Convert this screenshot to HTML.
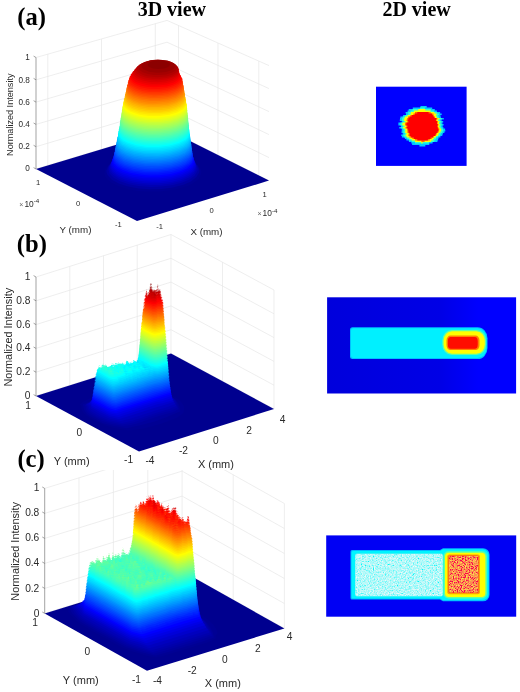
<!DOCTYPE html>
<html><head><meta charset="utf-8"><title>3D view / 2D view</title>
<style>html,body{margin:0;padding:0;background:#fff}svg{display:block}</style></head><body>
<svg width="520" height="692" viewBox="0 0 520 692">
<rect width="520" height="692" fill="#fff"/>
<g stroke="#e7e7e7" stroke-width="0.7" fill="none"><path d="M36.0 169.0L167.0 129.6L269.0 180.6"/><path d="M36.0 146.7L167.0 107.8L269.0 157.6"/><path d="M36.0 124.4L167.0 85.9L269.0 134.6"/><path d="M36.0 102.1L167.0 64.1L269.0 111.6"/><path d="M36.0 79.8L167.0 42.2L269.0 88.6"/><path d="M36.0 57.5L167.0 20.4L269.0 65.6"/><path d="M47.8 165.5V54.2"/><path d="M101.5 149.3V39.0"/><path d="M155.3 133.1V23.7"/><path d="M178.5 135.4V25.5"/><path d="M218.0 155.1V43.0"/><path d="M258.8 175.5V61.1"/></g><path fill="#00008f" d="M36.0 169.0L137.0 221.0L269.0 180.6L167.0 129.6Z"/><path fill="#000094" d="M131.8 155.4L118.2 159.2L113.6 161.4L108.4 165.0L105.1 169.6L104.4 173.6L105.4 176.7L107.5 179.5L111.2 182.5L117.1 185.6L128.0 189.2L138.1 190.9L145.1 191.5L159.9 191.6L175.3 189.6L187.6 185.9L192.1 183.8L197.3 180.1L199.0 178.3L201.0 174.4L201.3 171.6L200.9 169.6L198.2 165.6L195.2 163.1L191.3 160.8L181.4 156.9L172.2 154.9L157.9 153.5L145.8 153.6L131.8 155.4Z"/>
<path fill="#0000a3" d="M130.5 154.8L120.5 157.8L113.4 161.4L108.3 165.9L106.5 170.5L106.6 172.6L107.6 175.1L111.6 179.4L118.7 183.4L127.3 186.3L138.5 188.4L150.0 189.3L161.7 188.9L172.8 187.5L183.3 184.7L190.9 181.4L196.5 177.1L199.1 172.6L199.4 170.4L198.8 167.9L197.5 165.6L194.9 162.9L188.1 158.8L178.5 155.5L167.3 153.4L154.3 152.5L142.7 153.0L130.5 154.8Z"/>
<path fill="#0000b2" d="M130.4 154.0L121.6 156.7L114.5 160.3L110.0 164.4L108.7 166.9L108.3 169.1L109.5 173.5L113.7 177.8L120.1 181.3L128.8 184.2L138.6 186.0L150.5 186.9L162.0 186.5L173.1 185.0L182.3 182.5L189.8 179.2L194.8 175.4L197.5 170.8L197.7 168.7L197.0 166.1L195.6 163.8L192.9 161.1L185.8 157.1L177.1 154.2L165.7 152.2L153.6 151.5L140.9 152.2L130.4 154.0Z"/>
<path fill="#0000bf" d="M131.1 152.9L123.3 155.2L116.0 158.7L111.9 162.0L110.1 164.7L109.4 167.4L109.5 169.4L110.5 171.9L113.3 175.1L120.0 179.3L129.7 182.6L138.1 184.1L149.7 185.1L159.8 184.9L171.2 183.5L181.7 180.8L190.0 176.9L194.1 173.6L196.5 169.0L196.1 165.0L194.8 162.6L192.7 160.5L186.0 156.4L176.3 153.1L167.9 151.5L154.5 150.6L143.1 151.0L131.1 152.9Z"/>
<path fill="#0000cc" d="M126.9 153.0L119.9 155.7L113.7 159.7L110.7 163.6L110.2 167.9L112.3 172.0L117.3 176.0L124.6 179.3L133.0 181.6L143.2 183.0L152.8 183.4L162.5 183.0L172.1 181.7L181.3 179.2L188.8 175.8L194.1 171.3L195.8 167.7L196.0 165.7L195.0 162.6L191.6 158.8L183.5 154.4L173.1 151.3L162.3 149.8L149.7 149.5L139.3 150.3L126.9 153.0Z"/>
<path fill="#0000d9" d="M134.4 150.0L122.1 153.6L116.9 156.4L113.5 159.1L111.2 162.5L110.7 165.6L111.6 168.7L113.8 171.5L117.0 174.0L121.1 176.2L132.2 179.7L144.8 181.6L159.1 181.7L173.0 179.8L184.0 176.5L191.7 171.9L194.2 169.1L195.3 166.6L195.5 164.5L195.0 162.2L191.8 158.0L185.9 154.3L177.7 151.3L166.8 149.1L156.0 148.3L145.5 148.5L134.4 150.0Z"/>
<path fill="#0000e5" d="M132.3 149.3L123.5 152.0L117.3 155.1L112.8 159.2L111.2 163.3L111.5 165.7L112.5 167.8L116.1 171.5L122.5 175.1L130.1 177.6L139.9 179.4L150.2 180.2L160.8 180.0L171.5 178.5L180.7 176.1L187.3 173.1L192.3 169.4L194.8 165.2L195.0 163.3L194.4 160.7L190.8 156.3L184.7 152.6L176.1 149.7L166.3 147.8L154.2 147.0L142.9 147.6L132.3 149.3Z"/>
<path fill="#0000f2" d="M136.4 147.3L123.8 150.8L118.4 153.4L114.9 156.1L112.8 158.7L111.8 161.8L112.3 165.1L114.2 168.0L117.2 170.5L121.1 172.8L131.8 176.4L143.9 178.3L158.4 178.5L171.2 177.0L182.5 173.7L190.1 169.5L192.6 167.2L194.2 164.2L194.6 162.0L194.2 159.9L191.2 155.6L186.1 152.2L178.1 149.1L169.0 147.0L158.3 146.0L147.5 146.0L136.4 147.3Z"/>
<path fill="#0000ff" d="M134.2 146.6L122.3 150.3L117.3 153.2L114.2 156.1L112.6 158.9L112.4 162.3L113.8 165.3L116.3 168.0L123.4 172.1L133.6 175.1L146.1 176.8L159.7 176.8L172.2 175.2L183.2 171.8L190.5 167.4L192.7 164.9L193.9 162.2L193.6 158.2L190.1 153.7L183.9 150.1L175.4 147.2L165.5 145.4L155.1 144.7L143.7 145.1L134.2 146.6Z"/>
<path fill="#000dff" d="M132.1 145.9L123.5 148.7L117.6 152.0L114.5 154.9L112.8 159.4L113.8 163.2L117.3 167.0L122.9 170.1L130.2 172.7L141.4 174.8L150.7 175.4L159.4 175.3L170.7 173.9L179.9 171.4L186.6 168.5L191.9 164.0L193.4 161.0L193.7 158.8L193.2 156.9L189.8 152.4L183.6 148.8L176.3 146.2L165.1 144.1L153.7 143.5L144.0 143.9L132.1 145.9Z"/>
<path fill="#0019ff" d="M136.1 143.8L123.8 147.4L120.2 149.2L116.0 152.4L114.0 155.0L113.2 157.9L113.7 160.5L115.4 163.4L118.3 166.0L121.5 167.8L130.6 171.2L143.5 173.5L157.6 173.8L171.8 172.1L181.8 169.2L189.3 164.9L191.7 162.5L193.0 159.7L193.3 157.6L192.6 155.0L191.1 152.7L188.9 150.6L182.4 147.1L176.0 144.9L167.9 143.2L155.8 142.2L145.8 142.5L136.1 143.8Z"/>
<path fill="#0026ff" d="M135.0 142.7L124.0 146.1L118.9 148.9L116.2 151.1L114.3 153.8L113.6 156.4L114.2 159.7L116.2 162.5L119.4 165.0L123.5 167.2L133.4 170.4L145.7 172.2L157.4 172.3L171.6 170.6L181.7 167.7L189.2 163.4L191.9 160.3L192.8 158.4L192.9 154.9L190.4 150.9L184.9 147.0L176.9 143.9L167.6 141.9L156.1 141.0L146.1 141.2L135.0 142.7Z"/>
<path fill="#0033ff" d="M135.3 141.5L125.2 144.4L119.1 147.6L116.5 149.8L114.6 152.5L114.0 155.6L114.5 158.2L116.5 161.0L119.6 163.5L123.8 165.7L133.7 168.9L146.0 170.7L157.3 170.8L167.6 169.8L180.5 166.6L185.2 164.5L189.0 161.9L191.3 159.5L192.5 157.1L192.6 153.6L190.2 149.5L184.7 145.7L176.7 142.6L167.4 140.6L156.4 139.7L146.3 139.9L135.3 141.5Z"/>
<path fill="#0040ff" d="M133.0 140.7L126.4 142.7L119.4 146.3L115.3 150.3L114.2 154.1L115.5 157.9L119.9 162.1L125.0 164.7L132.7 167.1L141.2 168.7L152.0 169.4L161.8 169.0L171.3 167.6L179.4 165.5L185.1 163.0L190.1 159.2L192.4 155.1L192.0 151.1L188.2 146.7L182.8 143.5L174.1 140.7L163.9 138.9L153.1 138.4L143.6 138.9L133.0 140.7Z"/>
<path fill="#004cff" d="M132.0 139.7L124.7 142.2L118.8 145.5L115.7 148.9L114.5 152.7L115.7 156.4L119.5 160.1L125.2 163.2L133.0 165.7L141.5 167.2L151.8 167.9L161.6 167.6L171.2 166.2L179.2 164.0L185.8 161.0L189.9 157.7L192.2 153.8L192.3 151.7L191.7 149.6L188.1 145.4L182.6 142.2L173.9 139.3L163.8 137.6L153.3 137.1L142.3 137.8L132.0 139.7Z"/>
<path fill="#0059ff" d="M138.4 137.0L125.8 140.5L121.3 142.7L117.7 145.3L115.5 148.2L114.8 151.1L115.3 153.8L117.3 156.6L123.6 160.9L133.2 164.2L145.1 166.1L158.4 166.3L171.1 164.7L181.1 161.7L188.6 157.4L190.8 155.0L191.9 152.8L191.9 149.0L189.1 145.0L184.2 141.7L177.3 139.0L168.3 136.9L159.1 135.9L148.5 135.9L138.4 137.0Z"/>
<path fill="#0066ff" d="M137.3 135.9L126.0 139.2L121.5 141.4L117.9 144.0L115.9 146.7L115.1 149.7L115.6 152.3L117.5 155.2L123.8 159.5L133.5 162.8L145.4 164.6L158.3 164.8L171.0 163.2L181.0 160.3L188.5 156.0L190.7 153.5L191.7 151.3L191.9 149.0L191.4 147.1L188.6 143.4L183.2 139.9L176.0 137.3L166.6 135.3L157.4 134.5L147.2 134.7L137.3 135.9Z"/>
<path fill="#0073ff" d="M136.2 134.9L125.2 138.2L120.9 140.5L117.6 143.3L115.8 146.0L115.4 149.0L116.1 151.5L118.3 154.3L125.0 158.4L135.0 161.6L145.7 163.2L158.8 163.3L170.9 161.8L180.9 158.8L188.3 154.5L190.4 152.3L191.6 149.8L191.3 145.8L188.2 141.9L182.1 138.2L174.7 135.6L166.0 134.0L155.8 133.2L145.9 133.5L136.2 134.9Z"/>
<path fill="#007fff" d="M135.2 133.8L127.4 136.1L121.1 139.2L117.3 142.7L115.7 146.4L116.4 150.0L119.7 153.8L125.2 157.0L132.7 159.5L141.0 161.1L151.2 161.9L161.1 161.6L169.5 160.5L177.8 158.5L184.5 155.6L189.4 151.9L191.4 148.3L191.1 144.4L188.1 140.5L182.0 136.9L174.5 134.3L164.6 132.5L155.3 131.9L144.6 132.3L135.2 133.8Z"/>
<path fill="#008cff" d="M134.2 132.8L126.6 135.2L120.6 138.4L117.0 142.0L115.9 146.0L117.4 149.7L121.3 153.3L127.4 156.3L134.2 158.4L142.9 159.9L152.2 160.5L161.0 160.2L170.7 158.8L178.7 156.6L185.2 153.6L189.3 150.3L191.2 146.8L191.3 144.4L190.6 142.5L187.3 138.7L180.9 135.1L173.1 132.7L162.7 131.0L152.8 130.6L143.3 131.2L134.2 132.8Z"/>
<path fill="#0099ff" d="M132.0 132.1L124.9 134.7L120.1 137.7L117.2 140.8L116.2 144.7L117.6 148.3L121.6 151.9L127.6 154.9L134.9 157.0L143.1 158.4L152.7 159.0L162.4 158.6L170.6 157.3L178.6 155.2L185.1 152.2L189.1 148.8L191.0 145.3L191.1 143.1L190.5 141.2L187.1 137.3L180.7 133.8L172.5 131.2L162.5 129.7L152.5 129.3L142.1 130.0L132.0 132.1Z"/>
<path fill="#00a6ff" d="M138.3 129.4L126.9 132.6L122.5 134.8L119.6 136.9L117.5 139.4L116.5 142.4L116.9 145.0L118.7 147.9L125.0 152.2L134.6 155.5L145.1 157.1L157.6 157.4L169.2 156.1L179.5 153.3L187.2 149.1L189.5 146.7L190.6 144.6L191.0 142.4L190.6 140.5L188.2 137.0L183.3 133.7L176.4 131.0L167.3 129.0L158.6 128.1L148.2 128.2L138.3 129.4Z"/>
<path fill="#00b2ff" d="M138.4 128.0L127.1 131.2L122.7 133.5L119.8 135.6L117.7 138.1L116.8 140.9L117.1 143.6L119.0 146.5L121.3 148.5L125.2 150.8L133.7 153.7L145.4 155.7L157.5 155.9L169.1 154.7L179.4 151.8L187.1 147.7L189.4 145.2L190.5 143.1L190.4 139.1L188.0 135.7L183.2 132.4L176.2 129.6L167.6 127.7L158.4 126.8L148.4 126.9L138.4 128.0Z"/>
<path fill="#00bfff" d="M137.4 127.0L126.4 130.3L122.1 132.7L119.4 134.9L117.6 137.6L117.0 140.2L117.7 142.7L119.7 145.5L126.4 149.7L135.2 152.6L146.5 154.3L159.0 154.4L170.2 152.9L180.3 150.0L186.9 146.2L189.2 143.7L190.3 141.6L190.2 137.8L187.3 133.9L182.1 130.6L174.9 128.0L165.5 126.1L156.2 125.4L147.1 125.7L137.4 127.0Z"/>
<path fill="#00ccff" d="M136.3 125.9L128.5 128.2L123.1 130.8L119.1 134.2L117.4 138.0L118.2 141.9L121.1 145.1L126.6 148.3L134.1 150.8L142.6 152.4L152.1 153.0L161.9 152.7L170.1 151.5L178.2 149.3L183.8 146.8L188.1 143.5L190.2 139.9L190.3 137.8L189.8 135.9L186.5 132.0L181.1 128.8L173.5 126.3L165.1 124.8L155.6 124.1L145.8 124.5L136.3 125.9Z"/>
<path fill="#00d9ff" d="M135.3 124.9L127.7 127.3L122.5 130.0L118.8 133.6L117.6 137.2L118.5 140.4L122.0 144.2L127.8 147.2L134.4 149.4L142.9 150.9L152.0 151.5L161.8 151.2L170.0 150.0L178.1 147.8L183.7 145.3L187.9 142.1L190.0 138.6L190.1 136.4L189.6 134.5L186.4 130.7L180.9 127.5L173.4 125.0L163.8 123.3L154.0 122.8L144.5 123.3L135.3 124.9Z"/>
<path fill="#00e5ff" d="M133.1 124.2L126.9 126.4L121.9 129.2L118.6 133.0L117.9 136.4L119.5 140.1L122.9 143.2L129.0 146.2L135.9 148.2L143.2 149.4L151.8 150.0L161.7 149.7L169.9 148.5L178.0 146.3L183.6 143.8L187.8 140.6L189.8 137.1L189.8 134.5L189.2 132.6L186.3 129.3L179.9 125.8L171.9 123.4L163.0 121.9L152.5 121.5L141.9 122.3L133.1 124.2Z"/>
<path fill="#00f2ff" d="M139.4 121.5L128.0 124.6L124.4 126.4L120.8 129.1L118.8 131.6L118.1 134.3L118.7 136.9L120.1 139.2L122.4 141.3L126.4 143.5L136.1 146.8L146.8 148.3L158.5 148.5L169.8 147.1L179.9 144.1L186.4 140.3L188.7 137.8L189.6 135.9L189.3 131.9L186.1 128.0L180.7 124.8L174.3 122.6L166.1 121.0L157.3 120.2L147.9 120.4L139.4 121.5Z"/>
<path fill="#00ffff" d="M138.3 120.4L128.2 123.3L123.0 126.1L120.4 128.3L118.7 131.1L118.4 133.5L119.2 136.0L120.9 138.3L123.3 140.3L127.5 142.5L136.3 145.3L147.1 146.9L158.4 147.0L169.7 145.6L178.8 143.1L185.7 139.4L187.6 137.6L189.4 134.6L189.1 130.5L186.0 126.7L180.5 123.5L174.2 121.3L166.0 119.7L156.5 118.9L146.5 119.2L138.3 120.4Z"/>
<path fill="#0dfff2" d="M138.4 119.0L128.4 122.0L123.2 124.8L120.6 127.0L119.0 129.8L118.6 132.1L119.1 134.0L121.1 136.8L123.6 138.9L127.7 141.1L136.5 143.9L147.5 145.4L159.9 145.4L170.9 143.9L179.7 141.2L186.3 137.3L189.2 133.3L189.4 131.1L189.0 129.2L187.0 126.3L182.2 123.0L175.2 120.3L165.8 118.3L156.9 117.6L148.2 117.8L138.4 119.0Z"/>
<path fill="#19ffe6" d="M137.3 118.0L130.5 119.9L125.0 122.4L120.8 125.7L119.0 129.3L119.3 132.6L122.5 136.4L127.9 139.6L134.3 141.8L142.5 143.4L151.5 144.1L159.8 144.0L169.6 142.7L177.6 140.5L183.2 138.0L187.4 134.7L189.2 131.2L188.9 127.8L185.7 124.0L180.3 120.8L173.9 118.6L165.7 117.0L156.7 116.3L145.4 116.7L137.3 118.0Z"/>
<path fill="#26ffd9" d="M136.3 116.9L129.7 118.9L123.6 122.1L120.0 125.7L119.1 129.2L120.1 132.3L124.0 136.0L129.0 138.6L135.7 140.7L144.3 142.2L153.0 142.7L162.7 142.2L169.5 141.2L176.5 139.4L182.3 137.0L187.2 133.2L189.0 129.9L188.7 126.5L185.6 122.6L180.2 119.4L172.5 117.0L163.9 115.4L153.5 114.9L145.6 115.4L136.3 116.9Z"/>
<path fill="#33ffcc" d="M135.3 115.9L128.9 118.0L123.7 120.8L120.2 124.4L119.3 127.7L120.8 131.4L124.2 134.5L129.2 137.1L135.9 139.2L144.6 140.7L152.9 141.2L161.1 140.9L169.4 139.8L176.4 138.0L183.0 135.1L187.1 131.9L188.9 128.5L188.6 125.2L185.5 121.3L180.1 118.1L172.4 115.6L163.7 114.1L153.7 113.6L144.3 114.2L135.3 115.9Z"/>
<path fill="#40ffbf" d="M134.3 114.8L128.1 117.1L123.2 120.0L120.3 123.3L119.6 126.9L121.4 130.5L125.1 133.5L130.4 136.1L137.2 138.0L144.8 139.3L154.6 139.7L162.5 139.3L170.6 138.1L177.4 136.2L183.0 133.6L186.8 130.5L188.7 127.2L188.8 125.1L188.2 123.2L184.7 119.4L179.0 116.4L171.2 114.0L161.9 112.6L152.1 112.3L143.0 113.1L134.3 114.8Z"/>
<path fill="#4cffb3" d="M140.5 112.1L130.1 114.9L125.6 117.1L122.7 119.2L120.6 121.8L119.8 124.1L120.2 126.8L122.1 129.6L127.7 133.4L136.9 136.5L148.6 138.1L159.4 138.1L170.5 136.6L179.3 133.9L185.5 130.2L187.5 128.2L188.5 126.0L188.3 122.5L185.9 119.1L180.8 115.8L174.6 113.6L166.6 111.8L158.0 111.0L149.1 111.1L140.5 112.1Z"/>
<path fill="#59ffa6" d="M140.7 110.8L130.3 113.6L125.8 115.8L122.9 117.9L120.8 120.3L120.0 122.8L120.4 125.3L122.3 128.2L127.9 132.0L136.7 134.9L147.0 136.5L159.3 136.7L170.4 135.2L179.2 132.5L185.7 128.6L188.4 124.5L188.2 121.1L185.7 117.7L180.6 114.5L174.5 112.2L166.5 110.5L157.8 109.7L149.3 109.8L140.7 110.8Z"/>
<path fill="#66ff99" d="M139.5 109.7L129.5 112.7L125.1 114.9L122.4 117.2L120.7 119.7L120.2 122.3L121.2 125.1L123.0 127.3L129.0 131.0L138.0 133.7L148.7 135.2L159.2 135.2L170.4 133.7L179.2 131.0L185.0 127.6L186.9 125.7L188.2 123.2L188.1 119.8L185.6 116.4L180.5 113.1L174.4 110.9L166.4 109.2L157.6 108.4L148.0 108.6L139.5 109.7Z"/>
<path fill="#73ff8c" d="M138.4 108.6L131.6 110.5L126.1 113.1L122.0 116.4L120.5 119.8L121.0 123.0L123.8 126.3L129.2 129.5L135.6 131.7L144.0 133.3L152.4 133.9L160.7 133.6L169.0 132.5L176.1 130.7L181.8 128.3L186.1 125.1L188.1 121.9L188.2 119.7L187.7 117.8L184.9 114.5L179.5 111.4L173.1 109.2L164.7 107.6L156.4 107.0L146.5 107.4L138.4 108.6Z"/>
<path fill="#7fff80" d="M138.6 107.3L131.8 109.2L126.2 111.8L122.3 115.1L120.7 118.3L121.2 121.6L124.0 124.9L129.4 128.1L135.8 130.3L144.1 131.8L152.3 132.4L160.6 132.2L169.0 131.1L176.0 129.3L181.7 126.8L186.0 123.6L187.9 120.5L188.1 118.4L187.6 116.5L184.8 113.2L179.4 110.0L173.0 107.8L164.7 106.3L156.5 105.7L147.4 106.0L138.6 107.3Z"/>
<path fill="#8cff73" d="M137.5 106.2L130.9 108.2L125.6 110.9L122.4 113.8L120.9 117.5L121.7 120.8L124.8 124.0L129.6 126.7L136.0 128.8L143.9 130.3L152.2 130.9L160.5 130.7L168.9 129.6L175.9 127.8L182.2 125.1L185.9 122.1L187.9 118.6L187.4 115.2L184.7 111.8L179.3 108.7L172.9 106.5L164.4 104.9L155.0 104.4L145.4 104.9L137.5 106.2Z"/>
<path fill="#99ff66" d="M136.5 105.2L130.1 107.3L125.0 110.1L122.1 113.1L121.1 116.8L122.3 119.9L125.7 123.0L130.7 125.6L137.5 127.7L144.7 128.9L153.9 129.5L161.9 129.1L170.1 127.9L176.9 126.0L182.4 123.4L186.1 120.4L187.8 117.1L187.7 115.1L187.0 113.2L184.0 110.0L178.3 106.9L171.5 104.8L162.6 103.4L153.4 103.1L144.1 103.7L136.5 105.2Z"/>
<path fill="#a6ff59" d="M141.6 102.8L131.2 105.6L126.7 107.8L123.9 109.9L122.0 112.4L121.3 114.7L121.8 117.3L123.4 119.6L129.0 123.4L137.7 126.2L148.0 127.8L158.8 127.9L168.7 126.7L177.8 124.2L184.5 120.4L187.4 116.5L187.4 113.1L185.1 109.7L180.9 106.8L175.0 104.5L167.2 102.7L159.0 101.8L150.3 101.8L141.6 102.8Z"/>
<path fill="#b2ff4d" d="M141.7 101.5L131.4 104.2L126.9 106.4L124.0 108.6L122.2 110.9L121.6 113.2L122.0 115.8L123.6 118.1L129.2 121.9L137.9 124.8L147.9 126.3L158.7 126.4L168.7 125.3L177.8 122.7L184.5 118.9L187.3 115.0L187.3 111.7L185.0 108.3L180.8 105.5L174.9 103.1L167.1 101.3L159.2 100.5L150.4 100.5L141.7 101.5Z"/>
<path fill="#bfff40" d="M140.6 100.4L130.5 103.3L124.2 107.3L122.5 109.5L121.8 111.8L122.3 114.4L123.8 116.7L129.4 120.5L137.8 123.3L147.8 124.8L158.6 125.0L168.6 123.8L177.7 121.3L184.4 117.5L187.2 113.5L186.9 109.8L184.7 106.8L179.8 103.7L173.6 101.4L165.9 99.8L157.5 99.1L149.0 99.3L140.6 100.4Z"/>
<path fill="#ccff33" d="M140.8 99.0L130.7 102.0L124.4 105.9L122.8 108.0L122.0 110.3L122.5 113.1L124.0 115.2L129.6 119.0L137.5 121.8L147.6 123.3L158.5 123.5L168.5 122.4L177.6 119.8L184.1 116.2L186.0 114.2L187.1 112.0L187.3 110.3L186.7 108.2L184.2 105.1L179.7 102.3L173.5 100.1L166.2 98.6L157.7 97.8L148.7 98.0L140.8 99.0Z"/>
<path fill="#d9ff26" d="M139.6 97.9L130.4 100.8L127.3 102.5L124.0 105.2L122.6 107.4L122.3 110.2L123.7 113.2L125.6 115.1L131.6 118.4L140.3 120.9L149.6 122.0L160.9 121.9L170.9 120.4L178.5 118.0L183.8 114.9L185.8 112.9L187.0 110.6L187.1 108.8L186.5 106.7L183.7 103.5L179.6 101.0L173.4 98.7L165.2 97.1L156.0 96.4L147.8 96.7L139.6 97.9Z"/>
<path fill="#e5ff1a" d="M138.6 96.9L133.0 98.5L127.8 101.0L123.9 104.2L122.5 107.6L123.1 110.7L126.3 114.0L130.9 116.6L137.0 118.6L145.2 120.1L153.6 120.7L161.4 120.4L169.6 119.2L176.5 117.3L181.1 115.2L184.7 112.5L186.8 109.1L186.9 107.0L186.3 105.2L183.3 101.9L178.6 99.2L172.5 97.2L164.3 95.7L155.8 95.1L148.0 95.4L138.6 96.9Z"/>
<path fill="#f2ff0d" d="M137.5 95.8L132.1 97.6L126.4 100.7L123.6 103.6L122.7 106.3L123.5 109.4L127.0 112.9L131.0 115.1L136.7 117.1L145.0 118.6L153.9 119.2L161.7 118.9L169.5 117.7L176.4 115.8L181.1 113.7L185.2 110.4L186.7 107.6L186.8 105.7L186.1 103.7L183.2 100.6L178.5 97.9L172.8 96.0L164.5 94.4L155.6 93.8L147.8 94.1L137.5 95.8Z"/>
<path fill="#ffff00" d="M136.5 94.8L131.4 96.7L126.8 99.2L123.9 102.1L122.9 105.9L124.8 109.5L127.9 112.0L132.3 114.1L139.6 116.2L147.0 117.4L156.5 117.7L170.7 116.0L175.5 114.7L181.0 112.3L185.1 109.0L186.5 106.1L186.7 104.3L185.8 102.1L182.4 98.7L178.3 96.5L170.0 94.0L162.6 92.9L153.1 92.5L144.0 93.3L136.5 94.8Z"/>
<path fill="#fff200" d="M142.9 92.2L133.5 94.5L129.6 96.2L125.9 98.8L124.2 100.6L123.2 103.7L123.6 105.7L125.1 108.0L130.6 111.8L139.3 114.7L148.9 116.0L159.5 116.1L169.3 114.8L177.2 112.5L183.8 108.7L186.2 105.2L186.1 101.8L184.2 99.0L180.0 96.0L173.9 93.7L167.6 92.2L158.8 91.3L150.1 91.3L142.9 92.2Z"/>
<path fill="#ffe600" d="M141.8 91.1L132.7 93.6L126.1 97.5L124.1 100.0L123.5 102.2L124.0 104.5L125.8 107.1L130.8 110.4L139.6 113.2L148.9 114.5L159.4 114.6L168.0 113.6L177.0 111.0L183.4 107.4L186.0 103.9L185.9 100.4L183.9 97.6L179.8 94.7L173.8 92.4L167.4 90.9L159.0 90.0L150.3 90.0L141.8 91.1Z"/>
<path fill="#ffd900" d="M140.7 90.0L131.6 92.9L125.8 96.8L124.1 99.3L123.9 101.5L124.7 104.0L126.6 106.1L132.0 109.3L139.9 111.8L149.2 113.0L159.3 113.1L168.6 111.9L176.9 109.6L182.9 106.2L185.8 102.4L185.7 99.1L183.2 95.7L178.7 93.0L172.5 90.7L165.7 89.3L156.7 88.6L149.3 88.8L140.7 90.0Z"/>
<path fill="#ffcc00" d="M139.7 89.0L133.1 91.0L128.7 93.2L125.5 96.1L124.2 99.3L125.0 102.5L128.0 105.5L132.3 107.9L138.9 110.0L146.1 111.2L154.1 111.7L162.2 111.4L169.0 110.4L174.8 108.8L180.4 106.3L183.9 103.6L185.6 100.5L185.2 97.2L182.4 93.9L177.6 91.2L171.1 89.1L163.9 87.8L155.8 87.3L147.7 87.7L139.7 89.0Z"/>
<path fill="#ffbf00" d="M137.6 88.3L132.4 90.1L128.0 92.6L125.3 95.5L124.5 98.5L125.7 101.6L128.5 104.2L133.5 106.8L139.1 108.5L146.4 109.8L153.9 110.2L162.0 109.9L168.8 108.9L175.7 107.0L180.3 104.8L183.8 102.1L185.4 99.2L185.0 95.9L182.2 92.6L177.5 89.9L170.9 87.8L163.6 86.5L153.8 86.1L145.1 86.7L137.6 88.3Z"/>
<path fill="#ffb300" d="M142.6 85.9L133.5 88.4L129.9 90.1L127.1 92.3L125.5 94.2L124.8 96.5L125.3 99.0L126.9 101.2L131.9 104.5L139.4 107.1L148.4 108.5L158.8 108.6L168.7 107.4L176.5 105.1L182.4 101.8L184.1 100.0L185.1 97.9L184.8 94.5L182.6 91.8L178.2 89.0L173.1 87.1L166.5 85.6L158.2 84.8L149.7 85.0L142.6 85.9Z"/>
<path fill="#ffa600" d="M142.9 84.5L133.7 87.1L130.1 88.8L127.3 91.0L125.8 92.9L125.1 95.3L125.6 97.5L127.2 99.8L132.1 103.1L139.7 105.6L148.7 107.0L158.7 107.1L168.6 105.9L176.4 103.6L182.2 100.3L184.9 96.6L184.7 93.4L182.4 90.4L178.0 87.6L172.9 85.8L166.3 84.3L158.5 83.6L150.5 83.6L142.9 84.5Z"/>
<path fill="#ff9900" d="M141.8 83.5L133.0 86.2L129.6 88.0L127.2 90.1L125.7 92.4L125.5 94.7L126.1 96.6L128.0 98.8L133.3 102.0L141.3 104.4L150.9 105.6L160.1 105.5L168.4 104.4L176.3 102.2L182.0 98.9L184.6 95.3L184.4 91.9L182.3 89.1L177.8 86.3L172.7 84.4L165.1 82.9L157.3 82.3L150.0 82.4L141.8 83.5Z"/>
<path fill="#ff8c00" d="M140.8 82.4L135.2 84.1L130.5 86.3L127.2 89.0L125.8 91.9L126.4 95.1L128.8 97.9L133.6 100.6L139.0 102.4L146.0 103.7L153.2 104.2L167.0 103.2L174.1 101.4L178.9 99.4L182.6 96.7L184.3 94.0L184.2 90.6L182.1 87.8L177.7 85.0L171.3 82.8L164.3 81.5L155.4 80.9L147.4 81.3L140.8 82.4Z"/>
<path fill="#ff8000" d="M138.6 81.7L133.4 83.6L129.3 86.0L126.7 88.8L126.1 91.8L127.5 94.8L130.5 97.4L134.8 99.5L140.5 101.2L147.9 102.4L154.8 102.7L168.2 101.5L175.0 99.6L179.6 97.4L182.9 94.6L184.3 92.0L183.7 88.7L181.3 86.0L176.6 83.3L169.9 81.2L162.4 80.0L153.9 79.7L146.2 80.2L138.6 81.7Z"/>
<path fill="#ff7300" d="M143.7 79.3L134.6 81.9L128.9 85.2L127.1 87.3L126.4 89.6L126.7 91.6L128.2 93.9L133.2 97.2L140.8 99.7L150.0 101.0L158.8 101.1L168.1 100.0L175.9 97.7L181.6 94.3L183.9 91.0L183.8 88.0L181.7 85.1L177.3 82.3L172.1 80.5L165.4 79.1L158.4 78.5L150.9 78.5L143.7 79.3Z"/>
<path fill="#ff6600" d="M143.9 78.0L134.8 80.5L129.1 83.9L127.5 85.8L126.7 88.2L127.0 90.1L128.5 92.4L133.4 95.8L141.1 98.3L150.4 99.6L159.3 99.6L167.9 98.5L175.8 96.2L181.5 92.8L183.7 89.5L183.6 86.6L181.5 83.8L177.1 81.0L172.0 79.1L165.2 77.8L158.1 77.2L151.1 77.2L143.9 78.0Z"/>
<path fill="#ff5900" d="M142.8 77.0L134.0 79.7L128.7 83.2L127.4 85.3L127.0 87.4L127.6 89.3L129.3 91.5L134.6 94.7L141.4 96.8L150.5 98.1L159.3 98.1L167.8 97.0L175.6 94.7L181.1 91.5L183.5 88.0L183.3 85.3L181.3 82.5L176.9 79.7L171.8 77.8L165.0 76.4L156.5 75.8L149.8 76.0L142.8 77.0Z"/>
<path fill="#ff4d00" d="M141.8 75.9L136.2 77.5L131.7 79.7L128.4 82.6L127.4 85.2L128.2 88.4L130.8 91.0L134.9 93.2L140.3 95.0L147.5 96.3L154.1 96.7L167.7 95.5L173.5 94.0L178.2 92.0L181.8 89.3L183.2 86.7L182.9 83.5L180.5 80.7L175.8 78.0L170.4 76.2L163.1 74.9L155.4 74.5L148.5 74.9L141.8 75.9Z"/>
<path fill="#ff4000" d="M139.7 75.2L134.5 77.0L130.6 79.4L128.2 82.2L127.7 85.1L129.3 88.0L132.4 90.4L137.2 92.5L141.9 93.9L153.9 95.2L160.9 95.0L167.5 94.1L173.3 92.5L178.1 90.5L181.6 87.8L183.1 84.9L182.6 82.0L180.4 79.3L175.6 76.6L168.9 74.6L163.0 73.6L153.5 73.3L145.9 73.9L139.7 75.2Z"/>
<path fill="#ff3300" d="M144.8 72.8L134.7 75.7L130.0 78.8L128.5 80.7L128.0 83.1L128.6 85.3L129.7 86.7L134.6 89.9L142.2 92.4L149.9 93.5L158.9 93.6L167.4 92.6L175.2 90.3L179.8 87.8L182.7 84.1L182.7 81.4L180.8 78.5L177.2 76.2L172.4 74.2L165.8 72.7L158.8 72.1L152.0 72.0L144.8 72.8Z"/>
<path fill="#ff2600" d="M143.7 71.7L134.9 74.4L129.7 78.1L128.3 81.9L129.1 84.1L130.4 85.7L135.8 88.8L142.3 90.9L149.6 91.9L159.0 92.1L167.3 91.1L176.1 88.4L180.5 85.5L182.4 82.6L182.4 79.9L180.6 77.2L176.9 74.9L172.2 72.9L164.0 71.2L156.4 70.8L148.9 71.0L143.7 71.7Z"/>
<path fill="#ff1a00" d="M143.9 70.4L135.1 73.1L129.9 76.8L128.6 80.6L129.7 83.0L131.2 84.7L138.0 88.2L141.7 89.2L149.3 90.4L159.7 90.5L167.1 89.6L175.9 86.9L181.1 83.3L182.1 81.1L182.4 79.4L182.0 78.3L179.8 75.4L173.0 71.9L164.1 70.0L155.8 69.6L143.9 70.4Z"/>
<path fill="#ff0d00" d="M145.8 69.1L137.5 71.2L131.7 74.5L130.1 76.3L129.4 78.4L129.7 80.3L130.8 82.1L134.8 85.0L140.9 87.3L148.7 88.7L157.9 89.0L166.7 88.0L173.6 86.1L179.0 83.2L180.6 81.6L181.6 79.6L181.4 76.9L179.3 74.1L175.5 71.8L170.5 70.1L164.9 69.0L155.0 68.5L145.8 69.1Z"/>
<path fill="#ff0000" d="M143.6 68.4L138.0 70.0L134.4 71.7L131.3 74.3L130.2 76.8L130.7 79.3L133.1 82.0L137.2 84.3L141.5 85.7L147.1 86.8L154.1 87.3L166.3 86.4L172.1 84.9L176.0 83.2L179.0 81.1L180.8 78.5L180.8 75.7L178.7 72.9L174.9 70.6L169.7 68.8L163.8 67.8L153.9 67.3L143.6 68.4Z"/>
<path fill="#f20000" d="M146.7 66.7L138.5 68.8L133.4 71.6L131.7 73.5L131.0 75.1L131.1 77.1L132.1 78.9L136.0 81.9L142.2 84.1L149.6 85.4L158.7 85.6L167.2 84.5L173.8 82.5L177.9 80.1L180.2 76.8L179.9 73.9L178.1 71.7L174.4 69.4L170.3 67.9L163.0 66.7L152.7 66.2L146.7 66.7Z"/>
<path fill="#e60000" d="M144.6 66.0L137.1 68.5L132.8 71.7L131.7 74.9L132.4 76.8L133.8 78.4L138.4 81.1L144.1 82.8L152.0 83.9L159.8 83.8L166.7 82.9L173.3 80.8L177.4 78.4L179.5 75.4L179.3 72.7L177.6 70.5L173.9 68.2L169.7 66.7L164.1 65.7L153.3 65.1L144.6 66.0Z"/>
<path fill="#d90000" d="M148.1 64.4L140.9 66.1L135.6 68.8L133.0 72.0L132.9 73.9L133.8 75.7L136.8 78.3L142.7 80.6L149.7 81.9L158.2 82.2L165.5 81.5L172.4 79.6L177.0 77.0L179.2 74.1L179.1 71.6L177.4 69.3L174.6 67.4L170.7 65.8L163.8 64.5L154.0 64.0L148.1 64.4Z"/>
<path fill="#cc0000" d="M145.2 64.0L140.8 65.3L137.2 67.1L134.9 69.3L134.0 71.6L134.9 74.2L137.1 76.2L140.5 78.0L145.0 79.4L156.4 80.6L166.7 79.6L175.1 76.7L177.9 74.5L179.0 72.4L178.6 69.8L176.7 67.6L173.6 65.8L169.4 64.3L165.2 63.5L153.6 62.9L145.2 64.0Z"/>
<path fill="#bf0000" d="M148.6 62.3L141.7 64.2L136.8 67.1L135.2 70.0L135.6 71.9L136.5 73.3L140.6 76.0L146.0 77.8L152.4 78.7L159.6 78.8L166.7 78.0L172.3 76.4L176.6 74.0L178.6 71.2L178.6 69.2L177.1 66.9L174.3 65.0L170.4 63.4L163.1 62.2L154.6 61.8L148.6 62.3Z"/>
<path fill="#b30000" d="M146.9 61.7L142.5 63.0L139.1 64.8L137.1 66.8L136.4 69.1L137.1 71.0L139.2 73.1L142.5 74.8L147.0 76.2L157.3 77.2L167.3 76.2L172.3 74.7L175.7 72.9L177.7 71.2L178.3 69.7L178.5 68.6L177.8 66.7L176.0 64.9L172.3 62.9L167.9 61.6L154.7 60.7L146.9 61.7Z"/>
<path fill="#a60000" d="M151.0 60.3L145.1 61.8L140.7 64.0L138.7 66.6L138.7 68.4L139.3 69.7L142.5 72.2L147.8 74.0L153.7 75.0L160.2 75.1L166.0 74.4L171.7 72.8L175.1 70.9L177.1 68.3L177.0 66.5L175.9 64.7L174.0 63.2L170.3 61.6L164.9 60.5L151.0 60.3Z"/>
<path fill="#990000" d="M150.4 60.2L144.2 62.4L142.2 64.1L141.5 65.7L141.9 67.7L143.4 69.3L149.0 71.7L157.3 72.8L166.2 72.0L172.4 69.7L174.4 68.1L175.1 66.6L174.8 64.5L173.2 62.9L167.6 60.5L157.8 59.5L150.4 60.2Z"/>
<path fill="#8c0000" d="M153.1 60.9L149.1 62.4L147.5 64.7L148.0 65.9L149.1 67.0L153.0 68.5L158.6 69.1L164.4 68.5L168.4 66.9L169.9 65.0L169.6 63.5L168.4 62.4L164.5 60.9L158.9 60.3L153.1 60.9Z"/><g stroke="#666" stroke-width="0.6" fill="none"><path d="M36.0 169.0V57.5"/><path d="M36.0 169.0l-2.4 -1.4"/><path d="M36.0 146.7l-2.4 -1.4"/><path d="M36.0 124.4l-2.4 -1.4"/><path d="M36.0 102.1l-2.4 -1.4"/><path d="M36.0 79.8l-2.4 -1.4"/><path d="M36.0 57.5l-2.4 -1.4"/></g>
<g stroke="#e7e7e7" stroke-width="0.7" fill="none"><path d="M36.0 396.0L171.0 353.5L274.0 409.0"/><path d="M36.0 372.2L171.0 329.7L274.0 385.2"/><path d="M36.0 348.4L171.0 305.9L274.0 361.4"/><path d="M36.0 324.6L171.0 282.1L274.0 337.6"/><path d="M36.0 300.8L171.0 258.3L274.0 313.8"/><path d="M36.0 277.0L171.0 234.5L274.0 290.0"/><path d="M69.8 385.4V266.4"/><path d="M103.5 374.8V255.8"/><path d="M137.2 364.1V245.1"/><path d="M171.0 353.5V234.5"/><path d="M222.5 381.2V262.2"/><path d="M274.0 409.0V290.0"/></g><path fill="#00008f" d="M36.0 396.0L139.0 451.5L274.0 409.0L171.0 353.5Z"/><path fill="#000094" d="M115.1 390.1L93.3 396.8L87.3 399.4L83.2 401.8L79.9 404.6L81.2 405.9L81.5 409.0L83.7 413.2L87.0 416.0L91.7 418.9L105.4 425.6L113.9 427.9L129.0 430.5L143.7 428.6L160.6 423.9L175.2 418.5L179.4 416.2L183.3 413.1L184.2 409.6L184.1 407.4L183.0 404.5L181.0 401.8L177.9 399.0L173.9 396.4L163.7 391.9L150.0 388.5L135.1 387.1L124.3 388.2L115.1 390.1Z"/>
<path fill="#00009c" d="M116.2 392.1L98.6 397.6L83.1 404.2L82.6 405.1L83.5 406.2L83.7 408.6L84.9 411.3L87.0 414.0L89.6 415.9L103.3 423.2L112.4 425.8L126.5 428.2L143.3 424.6L154.6 421.4L167.0 417.1L180.5 411.2L179.7 409.6L179.6 407.2L178.7 404.3L175.7 399.8L172.8 397.4L169.1 395.3L160.5 392.0L152.4 390.1L136.6 387.5L116.2 392.1Z"/>
<path fill="#0000a4" d="M133.6 388.4L129.1 389.5L118.7 393.1L89.5 402.1L84.5 405.2L85.4 406.2L86.0 409.4L87.8 412.2L90.6 414.6L101.4 420.6L110.7 423.7L123.3 426.1L131.1 425.1L136.1 423.7L159.9 415.8L172.5 412.2L175.4 410.9L178.7 408.7L177.9 407.7L177.2 403.3L175.3 400.1L171.7 396.8L166.6 394.0L159.3 391.4L149.9 389.4L139.8 387.7L133.6 388.4Z"/>
<path fill="#0000ac" d="M133.5 388.6L93.5 401.0L86.4 404.1L85.7 404.9L87.0 406.1L87.7 409.1L89.7 411.8L92.7 414.1L97.6 417.0L108.0 421.4L122.6 424.5L133.2 422.4L158.5 414.1L170.3 410.7L176.8 407.9L177.5 407.1L176.3 405.9L175.7 402.1L173.5 398.6L170.1 395.8L164.9 393.0L156.3 390.3L143.5 388.2L141.0 387.4L133.5 388.6Z"/>
<path fill="#0000b5" d="M134.8 388.3L94.7 400.7L87.5 403.7L86.9 404.5L88.4 405.9L89.1 408.3L91.1 410.9L99.2 416.1L108.1 419.9L122.1 423.0L133.3 420.4L157.2 412.5L169.1 409.1L176.2 406.0L176.3 405.5L174.9 404.2L174.1 400.2L171.9 397.0L168.1 394.4L163.3 392.0L156.2 389.9L144.9 388.0L142.2 387.1L140.1 387.1L134.8 388.3Z"/>
<path fill="#0000bf" d="M134.1 388.4L122.3 392.5L96.3 400.3L88.9 403.2L88.3 404.1L90.2 406.1L90.9 408.6L100.4 414.5L109.7 418.7L120.7 420.9L132.5 418.1L155.7 410.4L167.5 407.0L174.7 404.0L174.9 403.5L173.2 401.4L172.6 398.9L170.8 395.6L161.2 390.4L142.4 386.6L134.1 388.4Z"/>
<path fill="#0000cc" d="M142.7 385.8L99.4 399.3L90.1 402.4L89.3 403.1L90.7 404.5L91.5 407.0L99.9 412.0L109.4 416.7L118.5 418.9L120.4 418.7L130.7 415.6L153.9 408.0L165.8 404.6L173.0 402.1L173.9 401.4L172.5 400.2L172.1 397.5L170.1 394.3L162.8 390.0L160.6 389.1L153.5 387.4L147.4 386.6L144.6 385.7L142.7 385.8Z"/>
<path fill="#0000d9" d="M144.4 384.6L134.1 387.7L130.9 389.4L90.9 401.3L90.1 402.1L91.0 402.9L91.9 405.4L94.0 406.9L106.9 413.8L110.6 415.4L118.7 416.9L158.0 404.1L162.8 403.2L172.3 400.2L173.0 399.5L172.0 398.4L171.5 395.7L169.5 393.0L162.1 388.7L154.2 386.3L144.4 384.6Z"/>
<path fill="#0000e5" d="M145.2 383.6L134.9 386.7L131.7 388.4L91.7 400.3L91.0 401.1L92.2 403.8L107.3 412.2L110.9 413.8L117.9 415.0L157.0 402.1L162.0 401.3L172.0 398.0L171.5 395.3L170.5 393.4L167.8 391.0L164.1 388.8L160.0 386.8L154.8 385.2L145.2 383.6Z"/>
<path fill="#0000f2" d="M146.0 382.5L92.5 399.2L91.5 399.9L91.6 400.3L92.4 402.2L94.1 403.3L107.5 410.7L111.1 412.3L116.3 413.2L157.4 400.2L161.9 399.2L171.7 395.8L171.1 393.4L168.5 390.4L161.0 386.1L154.5 383.8L146.0 382.5Z"/>
<path fill="#0000ff" d="M147.1 381.1L92.9 398.0L91.8 398.7L92.6 400.7L94.8 402.2L107.7 409.1L111.4 410.7L116.0 411.6L171.4 394.1L170.9 392.0L169.6 390.2L167.7 388.6L163.3 386.1L156.1 382.9L147.1 381.1Z"/>
<path fill="#000dff" d="M147.4 379.7L93.1 396.6L92.0 397.2L92.2 397.7L92.9 399.1L95.0 400.6L107.9 407.6L111.6 409.1L115.7 409.9L171.1 392.5L170.6 390.6L168.9 388.3L163.1 384.7L156.7 381.7L147.4 379.7Z"/>
<path fill="#0019ff" d="M146.0 378.7L93.3 395.2L92.3 395.8L92.4 396.1L93.1 397.5L95.2 399.1L107.5 405.7L111.0 407.3L115.5 408.3L170.9 390.9L170.4 389.1L167.8 386.1L160.3 381.9L152.9 379.3L147.7 378.4L146.0 378.7Z"/>
<path fill="#0026ff" d="M147.0 377.1L93.5 393.8L92.5 394.6L93.3 396.0L95.4 397.5L107.6 404.1L112.1 406.0L116.3 406.7L170.7 389.3L169.9 387.3L167.7 384.7L160.2 380.4L152.8 377.8L147.0 377.1Z"/>
<path fill="#0033ff" d="M147.2 375.8L92.7 393.0L93.4 394.5L95.5 396.0L107.8 402.6L112.2 404.5L116.1 405.1L154.7 392.4L160.8 391.1L170.5 387.7L169.7 385.8L167.5 383.2L160.1 379.0L152.6 376.4L147.2 375.8Z"/>
<path fill="#0040ff" d="M146.6 374.5L122.1 382.6L93.9 391.1L92.9 391.7L93.6 392.9L95.7 394.5L108.0 401.0L112.4 403.0L116.0 403.5L154.4 390.8L160.6 389.5L170.3 386.1L169.0 383.5L167.3 381.8L159.9 377.5L152.4 374.9L148.4 374.3L146.6 374.5Z"/>
<path fill="#004cff" d="M141.3 374.8L135.0 377.1L123.3 380.6L122.4 381.3L103.5 386.7L94.1 389.7L93.1 390.3L93.7 391.4L95.9 392.9L108.1 399.5L111.6 401.1L115.8 401.9L154.3 389.2L160.5 388.0L170.1 384.6L168.8 382.0L167.1 380.4L157.6 375.1L152.3 373.5L148.6 372.9L141.3 374.8Z"/>
<path fill="#0059ff" d="M147.7 371.6L138.7 374.2L135.2 375.8L123.4 379.2L122.5 379.9L118.7 380.7L95.0 388.1L93.4 388.9L93.5 389.4L96.0 391.4L108.2 398.0L112.6 399.9L115.5 400.3L154.1 387.7L161.0 386.2L170.0 383.0L168.7 380.6L166.9 378.9L159.6 374.7L152.1 372.1L147.7 371.6Z"/>
<path fill="#0066ff" d="M147.9 370.2L138.8 372.8L133.4 375.0L123.6 377.8L122.7 378.5L118.9 379.3L95.1 386.7L93.5 387.6L93.6 387.9L96.7 390.2L108.4 396.5L112.7 398.4L115.3 398.7L154.0 386.1L160.8 384.6L169.8 381.4L168.5 379.2L166.3 377.1L158.1 372.6L152.0 370.6L147.9 370.2Z"/>
<path fill="#0073ff" d="M147.2 368.9L139.0 371.4L133.6 373.6L123.8 376.4L122.9 377.1L95.3 385.3L93.8 386.4L96.9 388.7L107.8 394.6L112.8 396.9L115.1 397.1L153.8 384.5L160.6 383.0L169.7 379.9L166.7 376.0L157.9 371.1L151.9 369.2L149.0 368.7L147.2 368.9Z"/>
<path fill="#007fff" d="M147.3 367.5L123.0 375.7L96.8 383.5L93.9 384.8L95.1 386.1L107.9 393.1L112.9 395.3L114.9 395.5L144.0 386.4L147.6 384.9L160.4 381.4L169.6 378.3L168.3 376.3L166.1 374.2L157.8 369.7L151.7 367.7L149.1 367.3L147.3 367.5Z"/>
<path fill="#008cff" d="M139.2 368.5L134.1 370.9L104.3 379.7L94.1 383.4L97.7 386.0L108.0 391.5L113.8 394.0L119.0 392.8L143.8 384.8L147.4 383.3L155.6 380.8L160.3 379.9L169.5 376.8L166.0 372.7L157.7 368.2L151.6 366.3L149.2 365.8L147.4 366.0L139.2 368.5Z"/>
<path fill="#0099ff" d="M149.3 364.4L139.4 367.1L134.6 369.1L134.4 369.6L129.0 370.8L115.1 375.4L104.4 378.3L94.2 382.0L97.8 384.5L108.1 390.0L113.6 392.4L118.9 391.2L143.6 383.2L145.2 382.3L155.4 379.2L160.2 378.4L169.4 375.2L166.5 371.7L161.5 368.8L156.8 366.5L149.3 364.4Z"/>
<path fill="#00a6ff" d="M148.4 363.0L138.2 366.1L134.8 367.8L134.9 368.4L132.0 368.6L129.3 369.4L115.4 374.0L102.5 377.5L94.4 380.6L97.9 383.0L108.2 388.5L112.4 390.5L114.4 390.8L135.5 384.3L145.0 380.7L155.3 377.7L160.1 376.8L169.3 373.7L165.9 369.8L157.5 365.3L151.4 363.4L148.4 363.0Z"/>
<path fill="#00b2ff" d="M148.5 361.6L137.7 365.0L135.0 366.4L135.5 367.3L132.2 367.2L129.3 368.3L130.6 368.6L126.8 368.9L115.6 372.7L102.6 376.0L94.5 379.1L108.3 387.0L112.5 389.0L114.2 389.2L135.3 382.7L149.4 377.6L151.2 377.4L155.0 376.0L160.7 375.1L169.1 372.3L166.3 368.7L161.4 365.9L156.6 363.5L151.3 361.9L148.5 361.6Z"/>
<path fill="#00bfff" d="M148.6 360.1L137.8 363.5L135.4 365.1L136.2 366.1L132.3 365.8L130.5 366.4L131.8 367.1L131.1 367.4L126.9 367.5L119.3 369.7L115.9 371.3L114.0 371.4L102.1 374.8L94.7 377.8L108.3 385.5L112.6 387.5L114.1 387.6L135.2 381.2L137.1 380.4L137.6 379.6L139.8 379.6L141.1 378.6L147.5 376.8L149.0 375.9L151.1 375.9L154.4 374.2L157.7 374.3L168.9 370.8L168.2 369.4L166.2 367.3L161.3 364.4L156.5 362.1L151.2 360.5L148.6 360.1Z"/>
<path fill="#00ccff" d="M147.9 358.9L137.9 362.1L136.3 363.1L136.0 363.8L136.8 364.4L136.5 364.8L135.6 365.0L132.4 364.3L131.7 364.6L132.2 365.5L131.4 366.1L128.8 365.9L127.0 366.6L125.8 366.5L121.3 368.1L118.9 368.5L116.3 370.0L114.1 370.0L97.0 375.2L95.0 376.4L108.4 384.0L112.6 385.9L114.0 386.1L122.9 383.4L124.3 382.8L124.3 382.4L126.9 382.1L127.1 381.6L129.4 381.1L129.1 380.4L132.3 380.4L133.2 380.0L132.8 379.5L135.1 379.6L135.4 379.4L134.9 378.9L137.0 378.9L137.2 377.9L139.7 378.1L140.2 377.8L140.4 376.7L141.8 376.9L147.1 375.1L149.6 373.0L150.4 373.4L149.3 373.4L149.9 374.2L150.8 374.2L150.8 373.7L152.0 373.7L154.1 372.5L157.6 372.7L168.7 369.4L168.1 367.9L166.1 365.8L161.2 363.0L153.9 359.8L149.9 358.8L147.9 358.9ZM143.1 375.3L142.4 375.5L143.1 375.3Z"/>
<path fill="#00d9ff" d="M141.9 359.3L137.0 361.3L136.6 362.1L137.5 362.9L136.0 363.6L133.0 363.2L133.4 363.6L131.6 364.7L126.2 365.3L121.6 366.8L119.7 366.9L116.5 368.7L114.7 368.8L111.0 370.3L109.1 370.5L109.0 371.0L105.9 371.0L102.2 372.4L103.4 372.6L102.1 372.4L97.1 373.8L95.2 375.1L109.1 382.8L112.2 384.2L114.6 384.4L119.6 382.8L119.3 382.3L123.2 381.5L123.8 381.3L123.9 380.7L126.8 380.6L126.1 379.6L128.3 379.7L128.9 379.4L128.7 378.7L132.2 378.9L132.7 378.6L132.5 377.9L134.2 377.6L135.2 377.0L136.6 377.2L136.8 376.2L139.5 376.4L139.6 376.0L138.6 375.8L138.6 375.4L141.9 374.8L142.3 374.6L141.7 374.2L142.8 373.6L146.7 373.4L146.6 372.8L148.3 372.6L149.3 371.4L151.6 372.0L153.8 370.9L157.5 371.2L168.5 367.9L168.1 366.5L165.6 364.0L157.1 359.5L153.8 358.3L148.8 357.3L141.9 359.3ZM134.4 377.7L133.8 378.0L135.0 378.0L134.4 377.7ZM150.2 372.4L150.7 372.5L150.2 372.4ZM146.1 370.6L147.6 370.7L145.7 370.6L146.1 370.6ZM145.4 368.7L146.1 369.1L144.9 369.4L144.4 369.0L145.4 368.7Z"/>
<path fill="#00e5ff" d="M149.0 355.9L138.7 359.0L137.1 359.9L137.4 360.9L138.0 361.3L136.2 362.2L134.0 362.2L131.3 363.7L129.2 364.2L126.5 363.9L125.8 364.1L125.5 365.2L119.9 365.6L117.5 367.1L109.7 369.3L109.5 369.8L106.1 369.6L106.6 370.5L104.1 370.3L103.7 371.2L100.1 371.6L99.3 372.3L97.3 372.4L95.7 373.9L108.5 381.0L113.3 382.7L117.9 381.8L118.9 381.2L118.9 380.6L119.8 380.5L120.7 379.8L122.1 380.0L123.5 379.6L123.6 379.1L126.3 378.8L125.7 377.9L128.0 378.0L128.6 377.8L128.5 377.1L129.4 377.0L132.0 377.3L132.3 376.3L134.6 375.2L136.3 375.5L136.8 374.3L136.3 373.8L139.3 373.7L142.6 372.0L145.5 371.9L145.5 371.3L146.0 371.0L148.0 370.9L148.9 369.9L148.5 369.5L142.5 369.2L143.1 368.8L147.6 369.0L151.4 369.9L152.5 369.9L153.5 369.2L157.4 369.6L168.4 366.3L168.0 365.0L165.5 362.5L161.0 360.0L153.7 356.9L149.0 355.9ZM138.7 374.5L139.1 374.8L138.7 374.5ZM145.3 370.5L145.6 370.8L144.8 370.6L145.3 370.5ZM145.7 367.1L146.7 367.9L148.3 367.9L147.7 368.5L143.8 368.2L144.2 367.1L145.7 367.1ZM130.1 370.3L129.7 370.5L130.1 370.3ZM143.5 365.6L144.6 365.8L144.5 366.1L143.5 365.6ZM132.2 368.6L131.8 368.5L132.2 368.6ZM134.1 368.0L133.1 368.3L132.9 368.0L134.1 368.0ZM126.9 367.5L128.4 368.4L126.8 368.1L126.9 367.5ZM129.0 366.8L128.7 366.9L129.0 366.8ZM136.5 363.4L137.9 363.5L135.5 363.6L136.5 363.4ZM130.3 364.8L129.5 365.0L130.3 364.8ZM132.4 364.1L131.5 364.3L131.7 363.9L132.4 364.1ZM123.2 365.9L124.6 366.0L124.7 366.4L122.1 366.3L122.5 365.8L123.2 365.9ZM118.4 367.4L118.0 368.0L116.9 367.4L118.4 367.4Z"/>
<path fill="#00f2ff" d="M149.1 354.4L140.7 356.8L137.9 358.1L137.7 359.3L138.5 359.7L136.4 360.8L139.7 361.4L138.4 361.3L139.0 362.2L138.7 362.7L134.9 362.4L134.5 361.6L136.7 361.6L136.7 361.3L136.3 360.9L134.3 360.9L134.2 361.4L132.2 362.1L133.6 362.8L132.2 363.2L133.2 364.4L132.0 363.8L128.9 363.7L129.1 363.1L128.6 362.7L126.8 362.6L126.1 362.8L126.2 363.5L125.2 364.0L125.9 365.6L121.7 364.9L121.6 364.4L120.2 364.2L119.7 364.5L120.0 365.3L118.0 365.4L118.8 365.8L118.6 366.8L116.0 366.0L115.3 366.2L114.8 367.1L113.8 367.1L114.2 367.9L112.4 367.3L110.7 367.7L110.0 368.5L108.8 368.4L107.7 369.0L107.9 369.7L107.1 369.9L104.4 369.0L103.9 369.9L100.5 370.3L99.4 371.5L97.4 371.0L96.2 372.4L109.3 379.8L113.8 380.9L117.7 380.2L118.5 379.7L117.8 379.1L125.5 376.9L125.3 376.2L128.3 376.1L128.6 375.1L131.7 375.6L131.8 374.9L129.4 374.6L133.4 374.2L133.8 373.7L132.3 373.1L136.0 373.3L136.2 373.0L135.8 372.5L133.2 372.3L133.0 371.8L131.4 371.4L137.3 372.3L139.1 372.1L141.3 371.0L141.6 370.0L142.8 370.3L144.9 370.1L144.1 369.0L144.6 368.7L147.6 369.2L148.2 368.6L147.7 368.2L142.0 367.9L142.9 365.9L141.9 365.5L142.8 365.4L141.0 364.5L143.4 364.6L143.0 363.8L143.9 363.7L145.1 364.7L146.7 364.7L146.3 365.1L144.9 364.8L144.9 365.3L151.3 367.1L151.7 368.1L153.2 367.6L157.3 368.1L168.2 364.8L167.9 363.5L165.4 361.0L160.9 358.6L153.7 355.4L149.1 354.4ZM126.5 374.4L127.3 374.7L125.7 375.3L125.1 374.8L126.5 374.4ZM148.6 366.9L148.5 367.4L149.1 367.8L150.1 367.7L149.9 367.0L148.6 366.9ZM136.9 369.5L140.0 370.1L136.0 369.7L136.0 369.3L136.9 369.5ZM145.3 366.8L144.6 367.0L146.4 367.0L145.3 366.8ZM126.7 372.7L127.0 373.1L124.8 373.3L125.9 372.5L126.7 372.7ZM134.8 370.1L134.2 370.3L134.8 370.1ZM128.7 370.9L129.6 371.2L129.5 371.6L128.3 371.6L127.9 371.2L128.7 370.9ZM139.3 367.6L140.0 368.0L139.2 368.2L138.9 367.7L139.3 367.6ZM137.7 365.4L139.8 365.8L141.1 366.9L137.0 365.6L137.0 365.2L137.7 365.4ZM130.7 368.7L129.0 369.2L129.5 368.7L130.7 368.7ZM133.1 366.3L134.4 366.4L134.8 366.9L132.9 367.1L132.9 367.4L133.8 367.7L133.5 367.9L131.5 367.3L131.0 366.6L133.1 366.3ZM124.6 368.9L124.3 369.9L123.1 370.0L123.2 369.3L124.6 368.9ZM127.4 365.9L129.9 366.7L128.9 367.2L129.0 367.8L128.4 367.7L126.5 366.7L126.3 365.8L127.4 365.9ZM137.5 363.2L139.2 363.0L140.8 363.8L138.4 363.7L138.6 364.4L137.7 364.4L136.4 363.6L137.5 363.2ZM141.7 362.4L143.8 363.1L143.4 363.5L142.5 363.3L141.3 362.3L141.7 362.4ZM115.3 369.1L117.5 370.3L117.1 370.7L116.5 370.4L115.3 369.1ZM130.8 365.9L130.4 366.3L129.6 365.9L130.8 365.9ZM129.6 365.2L129.4 365.7L128.3 365.6L128.4 365.2L129.6 365.2ZM124.2 365.8L124.8 366.2L123.7 366.5L124.2 365.8ZM130.0 362.6L131.1 363.2L130.8 362.6L130.0 362.6Z"/>
<path fill="#00ffff" d="M149.2 353.0L138.9 356.1L137.9 357.2L138.7 358.3L137.9 358.9L141.0 360.6L143.8 361.4L144.4 362.3L147.0 363.1L147.5 363.6L147.2 364.2L148.6 364.2L150.3 365.4L154.8 366.4L157.1 366.5L160.2 365.9L162.4 364.8L168.1 363.2L167.9 362.1L165.3 359.6L160.8 357.1L153.6 353.9L149.2 353.0ZM97.7 369.6L96.6 370.8L98.4 372.4L100.3 372.9L109.3 378.3L113.5 379.3L113.8 378.9L117.5 378.6L118.1 378.3L116.7 377.6L119.3 377.3L120.9 376.4L124.5 375.5L125.0 374.5L126.0 374.5L126.2 374.1L124.6 373.5L125.0 372.8L128.7 373.1L133.1 372.5L131.9 371.7L132.8 370.9L127.9 370.3L127.5 369.5L128.0 369.3L133.1 369.7L137.1 370.7L138.7 370.4L138.6 369.8L140.3 369.6L140.4 369.1L136.7 368.8L134.3 369.3L132.9 368.7L135.3 368.0L133.4 368.0L134.1 366.7L131.6 366.3L130.6 365.6L129.3 365.9L129.3 366.5L128.1 366.3L125.8 364.9L123.3 365.1L123.1 364.1L121.9 363.7L121.2 364.4L119.0 364.4L119.0 365.5L115.6 364.9L115.2 365.8L114.4 365.9L114.4 366.5L110.9 366.4L110.4 367.3L108.3 367.6L109.8 368.2L109.8 368.7L107.7 368.9L104.7 368.2L104.0 369.0L101.7 368.9L100.4 369.4L100.0 370.2L100.6 370.6L97.7 369.6ZM130.5 373.5L130.5 373.8L131.3 373.9L131.4 373.6L130.5 373.5ZM115.6 378.0L115.1 377.9L115.6 378.0ZM127.3 374.1L126.9 374.4L127.9 374.4L127.3 374.1ZM134.4 371.0L134.3 371.5L135.6 371.6L135.5 371.2L134.4 371.0ZM139.7 366.9L139.3 367.3L139.7 368.2L143.3 368.7L144.5 368.4L141.5 367.1L139.7 366.9ZM146.8 367.3L147.3 367.4L146.8 367.3ZM147.0 366.8L146.7 367.1L147.4 367.0L147.0 366.8ZM149.1 365.6L149.5 365.9L149.1 365.6ZM125.6 366.0L125.9 366.5L124.7 369.1L126.0 369.8L126.1 370.8L128.1 371.8L123.9 372.2L123.6 372.1L124.2 371.4L125.6 370.3L125.1 369.5L122.7 368.6L124.0 366.5L125.6 366.0ZM117.3 373.0L119.2 374.3L118.0 374.5L116.7 373.2L117.3 373.0ZM137.3 367.3L137.1 367.8L137.5 368.0L138.8 367.9L137.3 367.3ZM131.3 368.6L131.8 369.0L130.7 368.4L131.3 368.6ZM127.1 361.3L126.4 361.5L126.7 361.8L125.6 362.7L126.5 364.1L128.0 363.5L129.9 363.6L131.2 364.3L134.6 364.8L136.3 366.0L137.9 365.4L140.5 366.2L141.2 366.0L138.6 364.7L135.5 364.6L135.4 364.1L131.3 363.7L132.8 363.2L131.8 362.7L128.8 362.8L127.7 362.2L128.1 361.4L127.1 361.3ZM115.6 373.0L114.9 373.2L115.6 373.0ZM121.2 370.7L120.8 370.9L121.2 370.7ZM128.5 366.8L131.1 367.1L131.0 367.4L130.3 368.2L128.7 367.8L128.8 367.2L127.6 366.8L128.5 366.8ZM141.2 364.3L140.8 364.6L141.5 364.4L141.2 364.3ZM133.3 361.7L132.7 362.1L134.3 363.8L135.3 364.0L136.1 363.2L138.2 363.8L139.1 363.4L136.9 363.0L135.1 361.9L133.3 361.7ZM141.4 362.1L142.5 362.7L141.4 362.1ZM113.4 371.0L112.8 371.2L113.4 371.0ZM115.7 367.5L117.9 368.5L118.2 369.2L116.9 369.3L114.2 368.0L115.7 367.5ZM139.3 360.4L139.2 361.2L140.6 361.7L140.5 360.8L139.3 360.4ZM128.4 364.3L128.2 364.7L129.1 364.7L128.4 364.3ZM112.8 368.4L113.4 368.9L112.3 369.4L111.3 368.9L112.8 368.4ZM121.1 366.4L120.4 366.6L121.1 366.4ZM135.3 361.1L134.4 361.6L136.5 361.5L135.3 361.1ZM124.1 363.7L125.2 364.3L124.1 363.7ZM116.8 366.0L117.2 366.3L116.8 366.0ZM133.6 360.2L132.9 360.4L133.1 360.9L134.4 360.6L133.6 360.2ZM120.6 363.0L120.0 363.4L121.2 363.3L120.6 363.0ZM104.7 367.6L105.0 367.8L104.7 367.6Z"/>
<path fill="#0dfff2" d="M149.3 351.6L139.0 354.7L138.1 355.7L139.0 357.0L138.8 357.5L141.3 359.1L143.9 359.9L144.6 360.8L147.9 361.9L149.7 363.5L154.6 364.8L157.0 365.0L160.1 364.3L162.3 363.2L167.9 361.6L168.2 361.2L165.2 358.1L160.7 355.7L153.5 352.5L149.3 351.6ZM101.3 367.8L100.4 368.6L101.4 369.6L98.4 368.7L97.4 369.0L97.3 369.7L98.6 370.9L100.5 371.3L101.9 372.5L105.7 374.1L107.0 375.5L109.6 376.9L113.1 377.6L113.0 377.0L115.7 377.0L114.4 376.0L117.3 377.0L117.2 376.5L116.2 376.3L116.3 375.9L119.1 375.7L122.8 374.2L123.1 373.2L125.3 372.6L123.6 371.8L123.8 371.2L122.7 369.9L122.7 368.9L124.2 368.6L124.4 368.2L121.4 368.1L121.9 367.4L121.7 366.7L122.6 366.6L123.3 365.8L123.3 364.7L125.9 364.3L125.8 363.9L122.3 363.6L120.2 364.1L120.2 364.6L122.1 365.1L120.6 365.6L120.0 365.2L120.0 364.1L116.0 363.6L116.0 364.3L117.8 364.8L117.6 365.6L115.6 364.6L114.7 364.7L114.6 365.2L111.2 365.0L110.8 366.0L108.9 366.1L110.7 367.0L111.7 367.1L114.7 365.8L116.1 365.9L117.1 366.1L117.2 366.6L118.8 366.7L118.7 367.9L116.6 367.9L114.3 366.7L113.6 366.9L113.7 367.6L113.0 368.3L110.8 367.5L107.4 367.5L105.0 366.9L104.6 367.8L101.3 367.8ZM123.9 373.6L124.4 373.7L123.9 373.6ZM131.8 370.4L131.8 370.8L132.6 370.8L131.8 370.4ZM134.9 369.7L135.2 369.9L134.9 369.7ZM135.5 367.8L135.2 368.1L135.8 368.5L137.5 369.0L138.3 368.7L138.0 367.8L135.5 367.8ZM143.5 366.9L143.9 367.0L143.5 366.9ZM126.9 368.9L126.7 369.1L128.8 370.1L127.4 370.9L128.3 371.4L131.6 370.8L132.4 369.5L129.3 368.9L126.9 368.9ZM116.1 371.4L119.9 371.3L118.8 372.0L122.6 372.9L121.1 372.7L118.2 373.5L116.2 371.9L114.5 372.0L113.8 371.6L116.1 371.4ZM133.9 368.1L135.0 368.7L135.6 368.5L133.9 368.1ZM140.3 365.7L140.2 366.5L142.9 366.6L140.3 365.7ZM125.7 370.5L124.9 370.8L126.5 371.0L125.7 370.5ZM129.2 369.5L129.5 369.7L128.8 369.6L129.2 369.5ZM114.3 373.6L114.0 373.7L114.3 373.6ZM133.1 367.6L132.2 368.0L133.6 367.9L133.1 367.6ZM126.2 368.0L127.3 368.6L126.2 368.0ZM128.7 367.0L127.9 367.2L127.9 367.7L129.8 367.6L129.6 367.1L128.7 367.0ZM131.6 365.1L131.7 365.7L131.0 366.7L132.1 367.1L133.5 366.1L133.7 365.3L131.6 365.1ZM135.9 363.4L135.2 363.6L136.0 364.0L137.6 363.7L140.3 364.3L138.3 363.3L135.9 363.4ZM116.6 368.5L119.1 369.3L120.6 368.9L121.7 369.5L117.5 369.3L116.6 368.5ZM125.5 366.4L125.2 366.9L126.0 367.7L127.7 367.6L127.7 367.2L125.5 366.4ZM128.9 366.5L128.7 366.9L129.7 367.0L128.9 366.5ZM110.7 370.9L111.8 371.1L111.9 371.8L110.1 371.1L110.7 370.9ZM110.5 369.3L113.3 369.0L115.7 370.4L109.1 369.7L110.5 369.3ZM126.8 365.4L126.3 366.0L127.4 365.7L126.8 365.4ZM129.9 364.7L130.3 365.0L129.9 364.7ZM134.6 362.7L133.6 362.7L134.4 363.1L135.0 362.9L134.6 362.7ZM126.4 364.6L127.0 364.9L126.4 364.6ZM133.7 360.5L133.3 360.8L134.2 361.8L135.4 361.4L135.4 360.9L133.7 360.5ZM131.3 361.5L130.6 361.9L131.7 361.7L131.3 361.5ZM103.7 369.8L103.6 370.2L102.7 370.1L102.6 369.7L103.7 369.8ZM107.6 368.0L107.2 368.1L107.6 368.0ZM126.8 360.8L126.2 361.1L126.5 362.1L128.6 361.7L126.8 360.8ZM119.2 363.0L119.7 363.7L120.9 363.4L119.2 363.0ZM97.9 368.2L98.4 368.5L97.9 368.2Z"/>
<path fill="#19ffe6" d="M148.6 350.3L139.1 353.3L138.4 354.0L138.5 354.6L139.7 356.4L144.1 358.3L145.5 359.5L148.1 360.4L149.9 362.0L154.7 363.2L156.9 363.4L160.0 362.8L168.1 359.6L165.1 356.7L156.6 352.2L151.7 350.5L148.6 350.3ZM116.5 375.1L116.9 375.3L116.5 375.1ZM105.3 365.5L105.1 366.6L102.3 366.3L100.8 367.0L102.0 367.7L106.2 368.6L106.4 369.0L102.8 368.8L98.4 367.6L97.9 367.9L97.9 368.5L101.5 370.1L102.1 371.0L107.4 373.2L108.8 374.9L110.8 375.5L114.0 375.4L114.6 375.2L113.7 374.5L114.0 373.7L118.9 374.1L122.5 372.3L122.0 371.9L119.2 371.9L118.9 372.9L117.7 372.7L117.3 371.7L114.5 371.5L114.7 370.9L112.6 370.1L111.3 370.5L108.8 369.8L110.1 371.0L107.4 371.0L108.3 370.2L106.0 369.8L105.9 369.3L111.7 369.0L111.6 368.6L108.5 368.5L107.4 368.2L107.4 367.9L112.4 367.7L112.6 367.2L111.6 366.6L107.4 367.1L106.7 365.7L105.3 365.5ZM121.1 368.3L121.4 368.8L120.9 369.4L121.1 370.0L120.4 370.2L120.3 370.8L123.4 371.4L124.4 371.2L122.9 370.5L123.2 369.9L122.6 368.9L121.1 368.3ZM129.9 367.9L130.0 368.5L129.2 368.7L129.2 369.1L131.1 369.1L131.6 368.3L129.9 367.9ZM135.7 366.4L137.4 367.0L137.3 366.5L135.7 366.4ZM114.9 371.9L114.8 372.5L116.6 372.8L115.4 373.4L113.2 372.4L113.7 371.9L114.9 371.9ZM111.4 373.6L110.7 373.7L111.4 373.6ZM116.7 368.8L116.5 369.8L119.3 369.4L116.7 368.8ZM128.3 365.8L128.9 365.9L128.3 365.8ZM131.6 364.8L131.5 365.0L132.2 365.1L132.4 364.8L131.6 364.8ZM133.0 363.8L132.2 363.9L132.3 364.3L133.2 364.5L133.5 363.9L133.0 363.8ZM118.8 368.2L119.5 368.6L119.6 368.2L118.8 368.2ZM126.0 365.8L126.9 365.9L126.0 365.8ZM138.0 361.9L138.7 362.3L138.0 361.9ZM112.0 369.2L112.5 369.9L113.4 369.9L115.1 369.1L112.0 369.2ZM114.8 365.5L114.0 365.6L114.0 367.3L115.0 368.0L117.5 368.7L115.6 367.3L116.1 366.6L114.8 365.5ZM121.5 366.8L121.3 367.2L122.2 367.2L121.5 366.8ZM119.7 366.4L117.3 366.9L118.9 367.7L120.4 366.9L119.7 366.4ZM118.9 363.7L118.5 364.2L119.8 364.9L119.4 365.6L120.2 365.9L120.8 365.9L120.9 364.8L122.0 364.8L122.0 364.2L122.8 363.9L119.7 364.4L118.9 363.7ZM122.4 362.7L121.8 363.2L122.9 363.6L123.1 362.8L122.4 362.7ZM108.6 366.2L108.9 366.7L109.5 366.5L108.6 366.2ZM111.3 364.8L111.1 365.4L112.1 365.1L111.3 364.8ZM116.0 363.3L115.0 363.3L114.9 363.7L116.6 364.2L116.0 363.3ZM117.9 362.6L118.2 363.2L119.3 363.3L119.2 362.9L117.9 362.6ZM112.4 363.7L111.5 363.8L111.7 364.1L113.8 364.4L114.2 363.9L112.4 363.7ZM126.7 359.8L127.3 359.8L126.7 359.8ZM119.4 361.6L119.9 361.9L119.4 361.6Z"/>
<path fill="#26ffd9" d="M147.9 349.0L139.2 351.8L138.6 353.1L140.0 354.8L144.2 356.8L145.7 358.0L148.2 358.9L150.2 360.4L154.8 361.7L156.7 361.8L159.9 361.3L168.0 358.1L165.0 355.2L156.5 350.7L151.6 349.0L147.9 349.0ZM98.2 366.6L99.3 367.7L101.9 368.5L102.3 369.5L103.7 369.6L106.4 370.9L109.0 370.6L107.7 371.1L109.1 373.4L111.6 373.8L113.8 373.8L114.0 373.5L111.9 372.5L110.1 372.5L110.1 371.9L112.6 372.1L111.5 370.4L106.9 369.6L107.0 369.1L105.5 368.5L104.8 367.6L101.4 367.8L98.2 366.6ZM119.8 370.7L119.1 370.9L119.5 371.7L118.0 372.1L116.4 371.8L116.4 372.2L117.6 372.5L120.7 371.3L120.6 370.8L119.8 370.7ZM130.7 366.8L129.5 367.5L131.2 366.9L130.7 366.8ZM122.1 368.5L120.6 369.2L122.1 369.1L122.5 368.6L122.1 368.5ZM113.2 368.9L112.5 369.1L111.7 370.3L114.1 370.0L113.9 369.1L113.2 368.9ZM117.4 367.7L117.2 368.1L118.0 367.8L117.4 367.7ZM110.5 369.2L110.6 369.6L111.5 369.3L110.5 369.2ZM109.5 368.7L110.1 369.0L109.5 368.7ZM115.7 366.2L116.5 366.6L115.7 366.2ZM119.2 365.2L117.6 365.5L118.4 366.0L119.4 365.9L119.6 365.6L119.2 365.2ZM110.9 367.1L110.5 367.4L111.3 367.3L110.9 367.1ZM104.0 368.9L104.3 369.3L103.6 369.0L104.0 368.9ZM108.0 367.3L107.6 367.8L108.9 367.4L108.0 367.3ZM114.6 365.1L114.6 365.6L115.7 365.2L114.6 365.1ZM119.8 363.8L120.3 363.8L119.8 363.8ZM110.9 365.4L110.6 365.7L112.2 366.1L111.8 365.4L110.9 365.4ZM114.3 364.4L115.0 364.7L115.0 364.3L114.3 364.4ZM102.6 364.9L101.2 365.4L102.4 366.1L106.2 366.9L106.9 366.7L106.5 365.9L102.6 364.9ZM109.1 365.5L109.5 365.8L109.1 365.5ZM105.7 364.9L105.8 365.6L106.7 365.4L105.7 364.9ZM115.2 361.9L116.3 362.5L115.2 361.9ZM118.4 361.3L119.0 361.7L118.4 361.3Z"/>
<path fill="#33ffcc" d="M141.2 349.7L138.7 351.0L139.7 352.9L150.4 358.9L152.9 359.7L156.6 360.3L159.8 359.7L167.9 356.6L165.0 353.7L156.5 349.3L151.5 347.5L148.8 347.4L141.2 349.7ZM112.9 371.9L113.6 372.1L112.9 371.9ZM120.2 369.5L119.3 369.8L120.1 370.0L120.2 369.5ZM110.5 371.2L109.3 371.7L112.0 372.0L112.1 371.5L110.5 371.2ZM121.6 367.4L120.9 367.6L121.6 367.4ZM109.4 368.9L110.2 369.3L108.2 370.0L109.1 370.4L112.0 370.2L111.7 369.4L109.4 368.9ZM113.5 367.6L112.7 367.8L112.6 368.6L113.9 368.4L113.5 367.6ZM107.5 368.4L105.8 368.6L105.9 369.0L107.9 369.2L108.1 368.7L107.5 368.4ZM118.5 363.9L119.2 364.3L118.5 363.9ZM105.6 367.4L104.7 367.5L104.6 368.3L105.5 368.5L106.6 367.9L105.6 367.4ZM103.6 366.3L102.2 367.3L102.6 367.9L105.0 367.0L104.9 366.6L103.6 366.3ZM111.1 364.0L112.0 364.5L111.1 364.0ZM98.5 365.3L100.7 366.5L99.6 365.5L98.5 365.3ZM105.7 364.5L105.0 364.8L106.3 364.9L105.7 364.5ZM103.1 363.7L101.9 364.2L104.0 364.2L103.1 363.7Z"/>
<path fill="#40ffbf" d="M149.8 345.9L139.4 348.9L138.9 350.0L139.8 351.4L142.2 352.8L150.6 357.3L154.1 358.4L156.5 358.7L160.3 357.9L167.8 355.0L164.9 352.3L156.4 347.8L151.5 346.1L149.8 345.9ZM111.0 369.9L110.7 370.4L111.7 370.3L111.0 369.9ZM108.8 368.2L109.2 368.7L111.7 368.6L111.2 368.1L108.8 368.2ZM113.0 366.4L113.3 366.6L113.0 366.4ZM106.8 367.1L106.2 367.5L107.4 367.5L106.8 367.1ZM105.3 366.3L104.8 366.8L106.2 366.4L105.3 366.3ZM104.1 365.1L103.0 365.7L104.6 365.4L104.1 365.1ZM98.9 364.0L100.2 364.7L98.9 364.0Z"/>
<path fill="#4cffb3" d="M149.9 344.5L139.5 347.5L139.1 348.5L139.9 349.9L142.3 351.3L150.7 355.8L154.2 356.9L156.4 357.2L160.2 356.4L167.7 353.5L164.8 350.8L156.4 346.3L151.4 344.6L149.9 344.5Z"/>
<path fill="#59ffa6" d="M149.1 343.1L139.6 346.1L139.2 346.9L139.6 347.9L150.8 354.3L154.9 355.5L156.2 355.6L160.1 354.8L167.6 351.9L164.8 349.3L156.3 344.9L151.3 343.1L149.1 343.1Z"/>
<path fill="#66ff99" d="M149.2 341.7L139.6 344.6L139.4 345.4L139.7 346.4L150.9 352.8L154.7 353.9L156.1 354.1L160.0 353.3L167.5 350.4L164.7 347.9L156.3 343.4L151.3 341.6L149.2 341.7Z"/>
<path fill="#73ff8c" d="M148.5 340.4L139.7 343.2L139.8 344.9L151.0 351.2L154.6 352.3L156.0 352.5L158.7 351.7L159.9 351.8L167.4 348.9L164.7 346.4L156.2 341.9L151.3 340.2L148.5 340.4Z"/>
<path fill="#7fff80" d="M141.2 341.3L139.8 341.7L139.6 342.2L140.3 343.8L146.4 347.3L153.7 350.6L155.8 350.9L158.6 350.1L160.5 350.0L161.4 349.3L167.3 347.3L164.6 344.9L156.1 340.4L151.5 338.8L148.6 339.0L141.2 341.3Z"/>
<path fill="#8cff73" d="M150.5 337.3L139.9 340.3L140.0 341.8L146.5 345.8L151.9 348.5L154.8 349.3L160.4 348.5L161.3 347.8L167.1 345.8L164.6 343.4L156.1 339.0L150.5 337.3Z"/>
<path fill="#99ff66" d="M150.6 335.9L140.0 338.9L140.1 340.3L146.6 344.3L152.0 347.0L154.9 347.7L160.3 346.9L161.2 346.2L167.0 344.2L164.5 342.0L156.0 337.5L150.6 335.9Z"/>
<path fill="#a6ff59" d="M149.8 334.6L140.1 337.4L140.2 338.8L146.6 342.8L152.1 345.5L155.0 346.2L160.2 345.4L161.1 344.7L166.9 342.6L164.5 340.5L156.0 336.0L151.9 334.5L149.8 334.6Z"/>
<path fill="#b2ff4d" d="M149.1 333.3L144.7 335.0L140.2 336.0L140.3 337.3L144.1 339.9L151.4 343.7L155.2 344.7L160.1 343.8L166.8 341.1L164.4 339.0L155.9 334.6L152.0 333.1L149.1 333.3Z"/>
<path fill="#bfff40" d="M148.5 332.1L144.9 333.6L140.3 334.6L140.4 335.8L144.2 338.4L151.5 342.2L155.2 343.2L160.0 342.3L166.6 339.5L164.4 337.5L155.9 333.1L152.1 331.7L148.5 332.1Z"/>
<path fill="#ccff33" d="M142.5 332.5L140.4 333.1L140.7 334.7L151.5 340.7L154.3 341.4L159.9 340.8L166.5 338.0L164.4 336.1L155.8 331.6L152.2 330.3L148.6 330.6L145.0 332.2L142.5 332.5Z"/>
<path fill="#d9ff26" d="M150.5 329.0L145.2 330.8L140.6 331.7L140.6 332.9L144.3 335.4L151.6 339.2L154.9 340.0L159.8 339.2L166.4 336.4L164.3 334.6L155.8 330.1L152.4 328.9L150.5 329.0Z"/>
<path fill="#e5ff1a" d="M149.7 327.7L145.4 329.4L140.7 330.3L140.8 331.5L144.4 333.9L151.6 337.7L154.8 338.5L159.7 337.7L166.3 334.9L164.3 333.1L155.8 328.7L152.5 327.4L149.7 327.7Z"/>
<path fill="#f2ff0d" d="M149.8 326.2L148.2 327.1L146.4 327.3L145.5 328.0L140.8 328.9L140.9 330.1L151.7 336.2L154.7 336.9L159.6 336.1L166.2 333.3L164.2 331.7L155.7 327.2L152.6 326.0L149.8 326.2Z"/>
<path fill="#ffff00" d="M146.5 325.8L145.7 326.6L140.9 327.4L141.0 328.7L145.1 331.2L152.6 334.9L155.6 335.4L159.5 334.6L166.0 331.8L164.2 330.2L152.7 324.6L150.0 324.8L148.5 325.8L146.5 325.8Z"/>
<path fill="#fff200" d="M143.0 325.3L141.0 326.0L141.2 327.1L145.1 329.7L151.8 333.1L154.4 333.8L159.4 333.0L165.8 330.4L164.1 328.7L152.9 323.2L150.1 323.4L148.6 324.4L146.6 324.4L145.8 325.2L143.0 325.3Z"/>
<path fill="#ffe600" d="M143.1 323.9L141.1 324.6L141.3 325.6L145.2 328.2L152.7 331.9L155.4 332.3L159.3 331.5L165.5 329.0L164.1 327.2L153.0 321.8L150.2 322.0L148.7 322.9L146.8 323.0L145.9 323.7L143.1 323.9Z"/>
<path fill="#ffd900" d="M151.2 320.5L146.0 322.3L142.5 322.7L141.3 323.2L141.4 324.1L147.2 327.8L151.9 330.1L154.1 330.7L155.4 330.8L159.7 329.7L165.3 327.5L165.3 326.9L164.1 325.8L155.6 321.3L153.1 320.3L151.2 320.5Z"/>
<path fill="#ffcc00" d="M150.4 319.1L146.1 320.8L142.6 321.3L141.6 321.9L141.5 322.6L145.3 325.2L151.9 328.6L154.0 329.1L155.3 329.2L159.6 328.1L165.1 325.9L164.0 324.3L155.5 319.8L153.3 318.9L150.4 319.1Z"/>
<path fill="#ffbf00" d="M144.4 319.6L142.8 319.9L141.7 321.0L145.3 323.7L152.9 327.4L155.2 327.7L162.3 325.8L164.9 324.3L164.0 322.8L153.4 317.5L150.6 317.7L149.0 318.6L144.4 319.6Z"/>
<path fill="#ffb300" d="M143.6 318.2L141.9 319.1L142.1 320.0L145.4 322.2L153.0 325.9L155.1 326.2L158.3 325.0L159.4 325.0L162.2 324.2L164.7 322.7L164.0 321.3L153.5 316.1L150.7 316.3L146.3 317.9L143.6 318.2Z"/>
<path fill="#ffa600" d="M143.7 316.8L142.0 317.6L142.2 318.5L145.4 320.7L153.1 324.4L155.0 324.6L158.2 323.5L159.3 323.5L164.6 321.3L164.6 320.6L163.9 319.9L153.6 314.7L151.6 314.7L149.2 315.7L143.7 316.8Z"/>
<path fill="#ff9900" d="M151.7 313.3L149.3 314.3L143.1 315.6L142.1 316.2L142.1 316.8L145.5 319.2L153.6 323.0L154.9 323.1L158.0 321.9L160.0 321.8L164.4 319.9L164.5 319.0L163.9 318.4L159.4 315.9L153.8 313.3L151.7 313.3Z"/>
<path fill="#ff8c00" d="M151.8 311.8L149.4 312.9L143.2 314.1L142.3 314.8L142.2 315.4L145.5 317.7L153.5 321.4L154.8 321.6L157.9 320.3L159.9 320.2L164.2 318.4L164.4 317.5L163.8 316.9L159.4 314.5L153.9 311.8L151.8 311.8Z"/>
<path fill="#ff8000" d="M150.5 310.8L149.5 311.5L143.3 312.7L142.4 313.4L142.4 313.9L145.6 316.2L153.4 319.9L154.7 320.0L156.9 319.4L158.3 318.5L159.8 318.7L164.0 317.0L164.3 315.9L163.8 315.4L154.6 310.6L152.7 310.3L150.5 310.8Z"/>
<path fill="#ff7300" d="M145.0 311.0L143.4 311.3L142.5 311.9L142.5 312.4L145.6 314.7L153.3 318.3L154.6 318.5L156.8 317.9L158.0 316.8L159.6 317.1L161.6 316.5L163.9 315.4L164.2 314.4L154.2 309.0L151.9 309.0L149.6 310.0L145.0 311.0Z"/>
<path fill="#ff6600" d="M145.1 309.5L143.5 309.8L142.6 310.9L145.6 313.2L153.2 316.8L156.7 316.4L157.9 315.3L159.5 315.6L161.5 314.9L163.7 313.8L164.1 312.9L154.3 307.6L152.0 307.5L149.8 308.6L145.1 309.5Z"/>
<path fill="#ff5900" d="M144.4 308.2L143.4 308.6L144.4 308.9L142.7 309.1L143.5 310.2L145.7 311.7L153.1 315.2L156.6 314.8L157.8 313.8L159.4 314.1L160.7 313.6L163.6 312.3L164.0 311.3L156.6 307.2L153.4 306.0L144.4 308.2Z"/>
<path fill="#ff4d00" d="M153.1 304.5L150.0 305.8L145.5 306.8L144.9 307.6L142.8 307.8L145.7 310.2L152.9 313.7L155.0 313.6L156.5 313.3L157.7 312.2L161.2 311.8L163.4 310.7L163.9 309.8L156.5 305.7L153.1 304.5ZM143.7 307.0L144.2 306.9L143.7 307.0Z"/>
<path fill="#ff4000" d="M153.2 303.1L151.1 303.7L151.0 304.2L148.9 304.3L145.7 305.4L145.1 306.2L143.0 306.3L145.8 308.7L152.8 312.1L154.9 312.1L156.3 311.7L157.6 310.7L161.1 310.2L163.3 309.1L163.8 308.3L156.5 304.2L153.2 303.1Z"/>
<path fill="#ff3300" d="M152.3 301.7L151.3 302.3L151.4 303.0L149.0 302.8L145.8 304.0L145.2 304.8L143.1 304.8L145.8 307.2L152.7 310.6L154.8 310.6L156.2 310.2L157.5 309.1L160.9 308.7L163.2 307.6L163.7 306.7L155.8 302.5L154.2 301.8L152.3 301.7Z"/>
<path fill="#ff2600" d="M152.4 300.3L151.5 301.0L151.8 301.7L149.1 301.4L145.9 302.6L145.3 303.3L143.3 303.4L145.9 305.7L152.8 309.0L154.7 309.0L157.4 307.6L160.8 307.1L163.0 306.0L163.6 305.2L156.2 301.2L154.1 300.4L152.4 300.3Z"/>
<path fill="#ff1a00" d="M152.5 298.8L151.8 299.6L152.1 300.4L149.3 300.0L149.1 300.5L146.0 301.1L145.3 301.9L143.4 302.0L145.9 304.2L153.0 307.5L154.6 307.5L158.0 305.9L160.6 305.5L162.9 304.5L163.6 303.7L156.4 299.8L154.0 298.9L152.5 298.8ZM148.6 301.2L149.0 301.5L148.1 301.3L148.6 301.2Z"/>
<path fill="#ff0d00" d="M153.6 297.4L152.7 297.5L152.1 298.3L152.4 299.0L149.6 298.7L146.1 299.7L145.4 300.5L143.6 300.6L146.0 302.7L153.2 305.9L155.9 305.5L157.9 304.3L160.4 303.9L162.5 303.0L161.4 302.7L162.8 302.9L163.4 302.2L159.1 299.7L153.6 297.4ZM159.3 303.5L158.3 303.8L159.3 303.5ZM148.7 299.6L149.1 300.1L147.9 299.9L147.9 299.5L148.7 299.6Z"/>
<path fill="#ff0000" d="M153.7 296.0L152.9 296.1L152.5 297.6L149.8 297.3L148.4 297.7L149.2 298.7L147.7 298.5L147.4 298.0L145.7 298.5L144.9 299.3L143.8 299.3L146.0 301.2L150.8 303.6L153.5 304.3L155.8 304.0L158.3 301.9L159.8 301.5L160.7 302.0L158.2 302.4L158.9 302.8L161.6 301.8L161.0 301.1L162.5 301.3L163.2 300.8L159.1 298.2L153.7 296.0ZM154.9 301.7L156.3 301.8L154.9 302.3L154.6 301.8L154.9 301.7ZM157.1 301.0L158.2 301.3L156.6 301.2L157.1 301.0ZM155.7 298.7L154.9 299.0L155.7 298.7Z"/>
<path fill="#f20000" d="M153.1 294.7L153.5 295.5L152.6 296.2L149.9 295.9L149.0 296.6L149.5 297.0L149.2 297.2L146.5 296.8L145.0 297.9L144.1 297.9L146.0 299.2L146.1 299.7L150.9 302.0L153.9 302.7L155.7 302.5L157.7 301.0L157.1 300.6L154.4 300.6L154.6 300.1L156.5 300.0L156.3 299.3L161.2 300.2L160.8 299.4L162.9 299.4L159.0 296.7L153.1 294.7ZM158.5 299.9L158.3 300.3L159.3 299.9L158.5 299.9ZM155.9 297.1L157.7 297.8L156.9 297.4L154.6 297.6L155.1 297.0L155.9 297.1ZM150.4 299.4L150.0 299.4L150.4 299.4ZM147.3 298.8L146.7 299.0L147.3 298.8ZM148.2 297.9L147.5 298.1L148.2 297.9Z"/>
<path fill="#e60000" d="M153.6 293.5L153.8 294.2L152.7 294.8L151.1 294.4L149.5 294.8L149.6 295.4L148.1 295.9L148.5 296.5L147.4 297.6L146.4 297.6L147.4 297.1L147.4 295.6L146.5 295.4L145.2 296.4L144.3 296.5L146.2 297.6L146.1 298.2L147.7 299.0L151.0 300.5L154.1 301.2L155.7 300.9L157.4 299.6L156.8 299.2L154.5 299.4L154.1 299.0L154.5 298.6L155.8 298.7L156.1 297.7L160.7 298.5L160.7 297.9L162.5 297.7L159.7 296.1L159.0 295.2L153.6 293.5ZM150.9 298.9L150.2 299.1L150.9 298.9ZM152.4 297.9L152.0 298.0L152.4 297.9ZM155.1 295.4L157.9 296.4L154.3 296.2L155.1 295.4ZM150.6 297.9L149.8 298.1L149.8 297.8L150.6 297.9Z"/>
<path fill="#d90000" d="M150.3 293.1L149.6 293.4L149.8 294.0L149.4 294.4L148.5 294.5L148.7 295.1L148.1 295.4L148.1 295.9L146.0 296.6L151.2 299.0L154.9 299.6L157.2 298.2L153.8 297.6L154.3 297.0L155.6 297.1L155.8 296.1L160.2 296.7L162.0 296.0L159.5 294.7L159.0 293.8L156.1 293.0L155.6 292.5L154.1 292.3L154.1 292.9L152.8 293.3L150.3 293.1ZM153.0 297.8L153.7 298.4L151.6 297.8L153.0 297.8ZM151.0 297.4L151.5 297.8L150.0 297.7L151.0 297.4ZM152.6 296.3L152.7 296.7L151.8 296.6L152.6 296.3ZM155.3 293.8L158.1 295.0L154.0 294.8L155.3 293.8ZM149.6 296.2L150.8 296.3L149.6 296.7L149.6 296.2ZM146.6 294.0L144.7 295.3L146.0 296.0L146.5 295.7L147.5 294.5L146.6 294.0Z"/>
<path fill="#cc0000" d="M154.4 291.0L154.4 291.5L153.7 291.7L149.8 291.9L149.9 292.6L148.7 293.1L148.9 293.7L148.4 294.0L151.1 294.8L152.8 294.8L152.9 295.3L151.1 294.9L149.8 295.4L148.9 294.9L146.6 294.8L146.2 295.1L151.3 297.4L154.5 298.1L156.1 297.6L157.0 296.7L153.6 296.2L154.2 295.5L155.4 295.5L155.6 294.5L160.0 295.1L161.2 294.6L161.2 294.0L158.8 292.9L158.9 292.3L154.4 291.0ZM151.1 295.8L151.6 296.3L153.3 296.2L154.0 297.1L149.8 296.3L150.4 295.7L151.1 295.8ZM153.0 292.5L155.5 292.3L158.1 293.1L158.2 293.6L154.5 293.7L153.6 293.4L154.1 292.7L153.0 292.5ZM148.3 294.0L148.4 294.5L149.3 294.5L149.5 294.2L148.3 294.0ZM146.8 292.6L146.0 292.8L146.1 293.4L145.1 293.9L146.4 294.1L147.2 293.2L146.8 292.6Z"/>
<path fill="#bf0000" d="M155.3 295.1L154.2 295.1L154.2 295.7L152.9 296.0L154.7 296.5L156.8 295.3L155.3 295.1ZM151.2 295.2L151.6 295.9L152.6 296.0L151.2 295.2ZM154.9 290.3L153.1 290.5L153.3 290.9L156.6 291.0L158.5 292.0L155.9 292.0L155.2 292.5L155.8 292.9L159.9 293.6L161.1 293.0L160.8 292.4L158.6 291.5L158.8 290.8L154.9 290.3ZM150.8 293.9L150.2 294.1L151.7 294.7L153.2 294.6L153.4 294.2L150.8 293.9ZM150.6 290.3L148.9 291.7L149.0 292.3L151.5 293.1L152.7 292.8L153.1 293.7L155.1 293.9L154.8 292.6L153.2 292.1L153.2 291.5L152.1 291.3L152.8 290.5L150.6 290.3ZM146.8 293.4L146.5 293.6L149.8 295.0L149.7 294.4L150.2 294.1L146.8 293.4ZM148.7 292.7L149.1 292.8L148.7 292.7ZM154.7 289.6L155.6 290.1L154.7 289.6ZM146.9 291.2L146.1 291.3L146.2 292.0L145.5 292.3L146.1 292.5L147.0 291.8L146.9 291.2Z"/>
<path fill="#b30000" d="M155.4 293.7L153.3 294.4L154.4 294.9L156.6 293.9L155.4 293.7ZM151.6 294.0L152.3 294.3L151.6 294.0ZM158.3 290.1L158.7 290.9L157.7 290.9L157.7 291.3L159.8 292.0L160.9 291.5L160.6 291.0L158.3 290.1ZM151.0 292.5L151.8 293.2L152.9 292.9L151.0 292.5ZM153.2 290.8L153.3 292.2L154.7 292.2L154.6 291.2L153.2 290.8ZM156.1 290.6L156.0 291.3L157.4 291.3L157.5 290.9L156.1 290.6ZM147.1 292.1L148.5 292.9L149.5 292.8L147.1 292.1ZM156.2 288.9L157.3 289.8L158.3 290.1L158.7 289.7L158.7 289.4L156.2 288.9ZM150.8 288.9L149.1 290.3L149.2 290.7L151.0 291.4L152.8 291.2L152.9 290.7L150.8 288.9ZM154.2 289.0L153.4 289.2L153.9 289.4L154.7 289.0L154.2 289.0ZM146.1 289.9L146.8 290.2L146.9 289.8L146.1 289.9Z"/>
<path fill="#a60000" d="M154.6 292.3L154.1 293.2L156.4 292.5L154.6 292.3ZM159.8 290.0L159.1 290.2L159.6 290.5L160.5 290.1L159.8 290.0ZM159.3 289.1L159.7 289.8L160.6 289.8L159.3 289.1ZM151.3 291.1L151.9 291.7L152.7 291.4L151.3 291.1ZM158.0 289.6L158.7 289.5L158.0 289.6ZM154.0 290.3L153.8 290.5L154.3 290.5L154.0 290.3ZM156.2 289.2L156.5 289.7L157.1 289.6L156.2 289.2ZM153.8 289.6L154.3 289.9L153.8 289.6ZM157.5 287.6L156.7 287.7L158.1 288.5L158.6 288.2L157.5 287.6ZM150.3 288.3L149.3 289.2L151.1 289.7L152.7 289.6L152.7 289.2L151.5 288.5L150.3 288.3ZM151.0 287.5L150.3 287.8L150.7 288.0L151.0 287.5ZM146.2 288.4L146.7 288.7L146.2 288.4Z"/>
<path fill="#990000" d="M155.8 291.0L154.8 291.0L154.7 291.5L156.2 291.0L155.8 291.0ZM151.6 289.8L152.5 290.0L151.6 289.8ZM157.6 286.1L157.1 286.4L157.4 286.8L158.5 286.6L157.6 286.1ZM150.5 286.9L149.4 287.7L152.6 288.0L152.0 287.4L150.5 286.9Z"/>
<path fill="#8c0000" d="M152.0 288.5L152.3 288.6L152.0 288.5ZM157.8 284.8L157.3 285.1L157.9 285.4L158.4 285.1L157.8 284.8ZM150.7 285.5L149.6 286.2L152.4 286.5L150.7 285.5Z"/>
<path fill="#800000" d="M157.5 283.7L158.2 283.6L157.5 283.7ZM150.9 284.1L149.7 284.6L152.3 284.9L150.9 284.1Z"/>
<path fill="#800000" d="M150.2 282.9L150.7 283.4L152.0 283.3L150.2 282.9Z"/>
<path fill="#800000" d="M150.3 281.4L151.7 281.6L150.3 281.4Z"/><g stroke="#666" stroke-width="0.6" fill="none"><path d="M36.0 396.0V277.0"/><path d="M36.0 396.0l-2.4 -1.4"/><path d="M36.0 372.2l-2.4 -1.4"/><path d="M36.0 348.4l-2.4 -1.4"/><path d="M36.0 324.6l-2.4 -1.4"/><path d="M36.0 300.8l-2.4 -1.4"/><path d="M36.0 277.0l-2.4 -1.4"/></g>
<clipPath id="cc"><rect x="0" y="470" width="520" height="230"/></clipPath>
<g stroke="#e7e7e7" stroke-width="0.7" fill="none" clip-path="url(#cc)"><path d="M44.7 613.4L182.1 571.1L284.4 628.5"/><path d="M44.7 588.4L182.1 546.1L284.4 603.5"/><path d="M44.7 563.4L182.1 521.1L284.4 578.5"/><path d="M44.7 538.4L182.1 496.1L284.4 553.5"/><path d="M44.7 513.4L182.1 471.1L284.4 528.5"/><path d="M44.7 488.4L182.1 446.1L284.4 503.5"/><path d="M79.0 602.8V477.8"/><path d="M113.4 592.2V467.2"/><path d="M147.8 581.7V456.7"/><path d="M182.1 571.1V446.1"/><path d="M233.2 599.8V474.8"/><path d="M284.4 628.5V503.5"/></g><path fill="#00008f" d="M44.7 613.4L147.0 670.8L284.4 628.5L182.1 571.1Z"/><path fill="#000094" d="M127.4 589.9L116.0 593.0L68.9 607.8L68.1 608.5L68.3 611.4L70.8 615.1L77.1 621.5L81.4 624.6L90.1 629.7L123.1 647.9L134.5 652.1L147.6 655.9L156.2 657.3L163.8 655.7L207.3 642.4L215.5 638.7L215.8 635.3L217.6 633.2L216.3 629.2L213.2 624.6L209.4 620.8L204.3 616.8L189.2 607.5L171.9 599.0L155.8 593.3L150.1 591.8L141.1 591.6L132.9 589.9L127.4 589.9Z"/>
<path fill="#00009c" d="M122.6 590.9L78.5 604.4L69.7 607.2L69.0 608.0L70.4 609.4L70.9 611.3L72.3 613.6L78.4 620.1L83.3 623.6L94.6 630.1L125.2 646.8L140.5 652.1L153.4 655.3L155.8 655.5L165.7 652.7L204.2 640.9L213.9 637.4L213.0 633.1L210.5 627.8L205.5 621.0L194.5 613.2L178.6 604.2L163.3 597.3L147.3 592.8L129.3 589.3L122.6 590.9Z"/>
<path fill="#0000a4" d="M119.1 591.5L80.7 603.4L70.3 607.1L72.5 609.6L74.7 613.6L80.0 619.1L85.0 622.6L95.7 628.7L126.3 645.4L138.1 649.6L153.4 653.8L164.9 650.7L202.1 639.3L212.5 635.6L210.5 630.6L206.5 623.5L202.7 619.2L194.9 614.3L166.5 598.6L157.4 595.3L130.6 589.1L127.6 589.2L119.1 591.5Z"/>
<path fill="#0000ac" d="M129.8 588.8L83.4 602.8L72.0 606.5L71.7 606.9L74.5 609.7L77.7 614.4L81.5 618.2L86.0 621.3L96.7 627.4L126.6 643.8L135.6 647.1L152.0 652.0L153.1 652.0L163.6 648.9L200.1 637.8L210.1 634.5L211.0 633.8L205.1 622.4L202.0 618.9L196.4 615.1L172.1 601.5L164.7 597.6L159.0 595.5L132.4 589.1L129.8 588.8Z"/>
<path fill="#0000b5" d="M131.2 588.6L121.1 591.3L84.0 602.7L73.3 606.2L73.1 606.7L76.4 609.8L80.3 614.8L84.6 618.5L112.4 634.4L129.0 643.2L150.5 650.2L151.7 650.2L162.3 647.2L198.8 636.0L208.8 632.7L209.6 632.0L207.5 629.0L203.7 621.3L200.5 617.8L194.7 614.0L171.1 600.8L164.4 597.3L158.0 594.8L131.2 588.6Z"/>
<path fill="#0000bf" d="M125.6 590.1L85.7 602.3L75.0 605.9L74.7 606.3L78.9 609.9L82.9 614.9L99.5 624.8L122.5 637.7L130.8 641.9L142.0 645.3L148.9 648.0L150.1 648.0L160.7 645.0L197.2 633.8L207.1 630.4L208.0 629.7L205.2 626.4L201.2 618.0L191.0 611.7L161.1 595.3L158.2 594.0L140.8 590.2L133.9 588.2L125.6 590.1Z"/>
<path fill="#0000cc" d="M134.4 587.5L76.5 605.2L76.4 605.7L81.8 610.4L83.0 612.8L84.3 614.0L100.3 623.0L130.4 639.9L138.0 642.0L147.3 645.5L148.5 645.6L195.3 631.2L205.6 628.0L206.3 627.3L201.8 621.8L201.1 617.5L200.5 616.6L160.4 594.0L157.5 592.6L146.9 590.9L137.3 587.9L134.4 587.5Z"/>
<path fill="#0000d9" d="M136.0 586.8L78.1 604.5L78.0 605.0L82.3 608.7L83.4 611.1L84.6 612.4L130.7 638.2L138.5 640.2L145.7 643.0L147.0 643.1L204.5 625.3L204.7 624.8L204.2 623.9L201.2 620.4L201.0 617.3L200.2 615.7L196.9 613.4L157.6 591.6L146.2 589.6L136.0 586.8Z"/>
<path fill="#0000e5" d="M137.5 586.1L79.6 603.8L79.6 604.4L83.0 607.4L83.7 609.5L84.9 610.7L131.0 636.6L138.0 638.3L144.1 640.5L145.4 640.7L202.9 622.8L202.8 621.5L200.6 619.0L200.4 615.2L199.2 613.9L195.6 611.7L157.0 590.2L153.3 589.1L145.6 588.2L137.5 586.1Z"/>
<path fill="#0000f2" d="M138.8 585.3L81.0 603.0L80.7 603.4L83.2 605.8L84.0 607.8L85.2 609.1L131.2 634.9L142.9 638.3L144.1 638.4L201.1 620.9L202.0 620.1L200.1 617.6L200.2 614.2L198.8 612.5L158.6 589.8L154.0 587.9L145.2 586.7L141.5 585.6L138.8 585.3Z"/>
<path fill="#0000ff" d="M140.8 584.2L138.9 584.3L81.9 601.9L81.6 602.4L83.4 604.2L84.2 606.2L85.5 607.5L131.5 633.3L142.0 636.3L143.2 636.3L200.2 618.8L201.1 618.1L199.7 616.2L199.8 612.3L196.1 609.5L156.3 587.3L153.7 586.4L144.8 585.3L140.8 584.2Z"/>
<path fill="#000dff" d="M140.6 583.2L82.7 600.8L82.5 601.3L84.2 603.5L84.4 604.5L85.7 605.8L131.6 631.7L141.1 634.2L142.3 634.3L181.8 621.8L199.4 616.7L200.2 616.0L199.4 614.7L199.4 610.8L198.3 609.5L158.1 586.8L153.4 585.0L140.6 583.2Z"/>
<path fill="#0019ff" d="M140.6 582.2L133.5 584.2L131.0 585.2L131.1 585.8L128.7 585.6L124.1 587.8L118.9 589.1L118.1 589.9L113.3 590.8L112.1 591.3L111.9 591.8L110.6 591.7L104.0 593.9L99.9 594.6L98.4 595.6L96.7 595.8L96.1 596.6L93.8 596.5L87.6 598.4L85.1 599.4L84.9 599.9L83.9 599.9L83.9 601.1L84.9 603.4L87.1 604.9L131.8 630.1L140.8 632.3L141.7 632.4L142.6 631.7L142.0 631.4L142.6 631.1L143.1 631.4L142.7 631.7L145.1 631.3L150.5 629.5L151.1 628.7L154.6 628.3L159.5 626.8L166.0 624.5L166.6 624.2L166.5 623.6L167.2 623.4L169.4 623.4L174.6 621.5L199.3 614.5L198.7 613.9L199.1 613.2L199.1 609.3L198.1 608.0L157.9 585.4L153.0 583.5L142.5 582.1L140.6 582.2ZM194.3 615.3L193.9 615.7L193.4 615.4L194.3 615.3Z"/>
<path fill="#0026ff" d="M136.6 582.0L133.9 582.8L134.0 583.5L131.4 584.4L124.8 586.1L125.3 586.6L125.0 586.8L122.1 587.0L121.9 587.4L116.9 588.8L116.7 589.3L113.8 589.5L111.8 590.8L110.4 590.6L101.7 593.4L100.2 593.2L100.2 593.8L97.3 594.5L96.5 595.3L94.5 595.3L93.9 596.2L90.2 596.5L88.6 597.4L89.2 597.8L87.7 597.5L87.4 597.9L84.5 598.7L84.2 599.7L85.1 601.8L87.2 603.3L127.3 625.4L132.0 628.4L141.3 630.6L140.9 630.1L142.3 629.4L144.7 629.5L147.3 628.0L149.7 627.5L149.8 627.0L154.9 626.2L157.0 625.0L159.2 625.1L158.9 624.4L162.1 623.7L162.2 623.2L164.9 622.9L165.4 622.0L168.7 621.5L173.7 619.5L174.9 619.6L177.7 618.1L180.6 618.0L180.8 617.5L192.8 614.7L193.1 614.3L192.8 613.6L193.6 613.4L196.3 613.7L198.6 612.9L198.0 612.6L199.0 609.8L198.9 608.4L197.9 606.5L156.4 583.1L153.9 582.3L144.4 581.0L136.6 582.0ZM129.1 584.3L129.4 584.5L129.1 584.3Z"/>
<path fill="#0033ff" d="M142.0 579.9L128.0 583.9L125.2 585.3L119.8 586.5L117.6 587.7L114.3 588.2L112.1 589.3L108.8 589.9L102.6 591.8L101.7 592.5L90.3 595.6L89.4 596.3L85.0 597.4L84.4 598.3L85.3 600.1L87.4 601.7L127.5 623.8L132.1 626.8L139.4 628.6L143.1 627.3L144.2 627.6L146.8 626.1L153.0 624.3L154.9 624.1L158.5 622.5L177.5 616.5L182.9 615.4L188.9 613.2L192.2 612.8L192.7 611.9L196.5 611.6L195.8 611.1L198.1 610.2L198.7 606.9L198.2 605.4L197.1 604.6L166.1 587.5L158.9 583.0L153.6 580.8L144.7 579.6L142.0 579.9Z"/>
<path fill="#0040ff" d="M129.0 582.3L122.6 584.7L120.1 585.1L117.9 586.3L114.6 586.8L112.3 587.9L109.1 588.5L99.2 591.9L86.6 595.5L85.3 596.0L84.7 596.9L85.4 598.5L87.6 600.1L93.8 603.2L95.3 604.4L127.7 622.2L132.4 625.2L139.2 626.9L177.2 614.8L187.5 612.2L197.9 608.5L198.4 605.4L197.9 603.9L197.0 603.1L155.3 579.8L149.9 578.7L143.0 578.3L129.0 582.3Z"/>
<path fill="#004cff" d="M143.2 576.8L133.8 579.9L129.2 580.9L122.8 583.3L120.3 583.7L118.2 584.9L114.8 585.4L112.6 586.5L109.3 587.0L99.5 590.5L90.8 592.8L85.6 594.6L84.9 595.4L86.6 597.7L132.6 623.6L138.9 625.2L170.1 615.2L187.3 610.5L188.2 609.8L197.7 606.8L198.2 603.9L197.6 602.4L196.2 601.2L181.8 593.4L175.8 589.7L172.0 588.1L158.6 580.0L153.2 577.8L143.2 576.8Z"/>
<path fill="#0059ff" d="M142.5 575.5L138.2 577.2L131.5 578.8L123.0 581.8L120.5 582.2L118.4 583.4L115.0 583.9L112.8 585.0L104.0 587.3L103.1 588.0L90.9 591.3L86.4 592.9L85.1 594.0L86.7 596.1L132.9 621.9L138.7 623.5L170.6 613.3L173.9 612.7L176.9 611.5L187.1 608.8L197.5 605.1L198.0 602.4L197.4 600.9L196.5 600.1L181.5 591.9L175.6 588.2L169.9 585.5L158.3 578.5L153.0 576.3L145.4 575.3L142.5 575.5Z"/>
<path fill="#0066ff" d="M142.7 574.0L138.5 575.8L131.6 577.3L125.9 579.5L120.7 580.7L118.6 582.0L115.2 582.5L113.0 583.6L109.6 584.1L104.1 585.8L103.5 586.6L91.1 589.8L86.6 591.5L85.2 592.5L86.9 594.5L95.0 598.7L95.8 599.6L98.1 600.5L100.9 602.4L129.1 618.2L133.8 620.6L138.5 621.8L166.0 613.3L170.3 611.6L173.7 611.1L193.6 605.0L196.8 603.8L197.5 602.9L197.8 600.9L197.2 599.5L196.2 598.6L155.3 575.7L149.5 574.2L142.7 574.0Z"/>
<path fill="#0073ff" d="M143.9 572.5L127.0 577.4L118.8 580.5L115.4 581.0L113.2 582.1L109.8 582.7L104.4 584.4L103.6 585.1L91.2 588.3L86.7 590.0L85.4 591.0L87.1 592.9L95.2 597.1L101.7 601.2L104.7 602.5L129.3 616.6L134.0 619.0L138.3 620.1L165.9 611.7L170.2 610.0L186.6 605.5L190.3 603.9L196.0 602.4L197.3 601.3L197.6 599.4L196.0 597.1L175.1 585.2L169.5 582.5L161.7 577.7L153.5 573.6L149.7 572.8L143.9 572.5Z"/>
<path fill="#007fff" d="M143.2 571.2L127.2 575.9L118.9 579.0L110.0 581.2L103.7 583.6L91.5 586.9L86.9 588.5L85.5 589.5L87.2 591.3L129.5 614.9L134.9 617.7L138.1 618.4L170.1 608.3L186.5 603.8L195.8 600.7L197.2 599.6L197.5 597.9L197.1 596.9L195.8 595.6L156.2 573.4L153.3 572.1L150.2 571.3L145.9 570.9L143.2 571.2Z"/>
<path fill="#008cff" d="M131.5 573.2L119.0 577.5L115.8 578.1L103.8 582.1L91.7 585.5L85.9 587.6L85.7 588.1L87.4 589.7L129.6 613.3L134.9 616.1L137.9 616.8L165.6 608.4L166.5 607.8L181.5 603.6L183.8 602.5L186.3 602.1L195.7 599.0L197.0 598.0L197.3 596.4L196.6 594.9L190.9 591.1L188.4 590.2L161.4 574.7L153.1 570.6L150.0 569.8L145.1 569.5L131.5 573.2Z"/>
<path fill="#0099ff" d="M145.2 568.0L131.0 571.9L121.2 575.4L115.9 576.6L112.3 578.2L110.4 578.3L103.9 580.6L90.5 584.4L86.0 586.1L85.9 586.6L87.5 588.1L132.9 613.5L135.0 614.6L137.7 615.1L147.0 612.5L154.1 609.9L165.4 606.8L166.4 606.1L181.3 602.0L183.6 600.8L186.1 600.5L195.5 597.4L196.8 596.3L197.2 594.9L196.0 593.0L190.7 589.6L188.3 588.7L179.1 583.2L169.1 578.0L161.2 573.1L152.9 569.0L145.2 568.0Z"/>
<path fill="#00a6ff" d="M144.6 566.7L131.1 570.4L121.4 573.9L116.1 575.1L112.5 576.7L110.7 576.9L90.6 582.9L86.2 584.6L86.0 585.1L87.6 586.5L117.6 603.4L133.0 612.0L136.2 613.3L138.6 613.4L143.0 611.7L146.8 610.9L153.9 608.3L165.3 605.1L166.2 604.5L168.0 604.3L172.5 602.6L180.5 600.5L183.4 599.2L185.9 598.8L194.7 595.9L196.7 594.7L197.1 593.3L195.9 591.5L161.1 571.6L152.8 567.5L149.6 566.8L144.6 566.7Z"/>
<path fill="#00b2ff" d="M143.9 565.3L131.3 569.0L121.5 572.4L116.3 573.7L112.0 575.4L110.9 575.4L92.8 580.8L86.9 582.9L86.2 583.6L87.6 584.9L117.7 601.8L133.0 610.4L136.1 611.7L138.4 611.8L142.8 610.1L146.7 609.3L149.0 608.2L163.1 604.1L166.1 602.8L167.9 602.6L172.3 600.9L180.3 598.9L183.2 597.5L185.8 597.2L194.5 594.3L196.5 593.0L197.0 591.8L196.4 590.6L195.2 589.6L155.7 567.3L150.6 565.4L145.5 565.0L143.9 565.3Z"/>
<path fill="#00bfff" d="M143.3 564.0L121.6 570.9L116.4 572.2L112.2 574.0L111.1 574.0L93.0 579.3L88.7 581.1L87.0 581.4L86.4 582.1L87.7 583.3L133.1 608.8L136.3 610.0L138.3 610.1L157.0 603.9L167.8 601.0L172.1 599.2L180.2 597.2L183.1 595.9L185.6 595.5L194.4 592.6L196.4 591.4L196.8 590.3L195.1 588.0L155.6 565.8L150.6 564.0L145.7 563.5L143.3 564.0Z"/>
<path fill="#00ccff" d="M132.3 565.8L127.2 567.7L116.6 570.7L112.4 572.5L109.1 573.1L93.1 577.9L86.5 580.5L87.8 581.7L133.1 607.2L136.5 608.4L139.5 608.1L156.9 602.3L168.3 599.2L171.9 597.6L180.0 595.6L183.0 594.3L185.5 593.9L194.2 591.0L196.3 589.8L196.7 588.8L195.0 586.5L154.0 563.6L150.4 562.5L145.9 562.1L132.3 565.8Z"/>
<path fill="#00d9ff" d="M144.4 560.9L116.7 569.2L112.5 571.0L105.0 572.8L99.2 574.9L91.2 577.0L86.7 578.8L87.8 580.2L133.2 605.6L136.7 606.8L140.8 606.0L141.8 605.4L147.7 603.9L148.6 603.2L156.7 600.6L167.5 597.7L171.7 595.9L179.9 593.9L182.9 592.6L194.1 589.4L196.3 588.2L196.6 587.2L194.9 585.0L155.3 562.7L150.3 560.9L147.0 560.6L144.4 560.9Z"/>
<path fill="#00e5ff" d="M144.6 559.4L129.1 563.9L127.7 564.9L116.2 568.0L112.6 569.5L105.1 571.3L99.4 573.5L91.3 575.5L89.3 576.7L86.9 577.2L87.9 578.6L133.2 604.1L136.7 605.2L140.7 604.4L142.9 603.3L147.5 602.3L148.4 601.6L156.6 599.0L167.4 596.1L171.5 594.3L179.7 592.3L194.0 587.7L196.2 586.6L196.3 585.2L194.8 583.5L155.2 561.2L150.1 559.4L147.2 559.1L144.6 559.4Z"/>
<path fill="#00f2ff" d="M143.9 558.1L129.3 562.4L128.1 563.0L128.1 563.5L126.1 563.6L116.3 566.5L112.7 568.0L105.2 569.8L99.6 572.0L91.5 574.0L89.4 575.3L87.3 575.9L88.0 577.0L94.2 580.1L94.4 580.6L131.8 601.3L133.3 602.5L136.6 603.5L140.6 602.8L142.8 601.6L147.4 600.6L148.3 599.9L152.7 598.8L156.4 597.3L167.2 594.5L171.4 592.6L178.9 590.8L191.9 586.8L196.1 585.0L196.2 583.9L195.3 582.3L158.4 561.4L153.6 559.0L150.0 557.9L147.3 557.6L143.9 558.1Z"/>
<path fill="#00ffff" d="M142.4 556.9L137.3 558.8L129.4 560.9L128.3 561.5L128.3 562.1L126.3 562.2L116.4 565.0L112.8 566.5L105.3 568.3L99.8 570.6L91.6 572.5L89.6 573.8L87.8 574.0L87.6 574.5L88.1 575.4L94.3 578.5L94.4 579.0L109.6 587.1L120.6 593.7L123.7 595.0L133.3 600.9L136.5 601.9L140.4 601.1L142.6 600.0L147.3 599.0L148.2 598.3L152.6 597.2L156.2 595.7L158.1 595.5L167.1 592.8L171.2 590.9L178.8 589.2L191.7 585.2L196.0 583.4L196.1 582.2L195.2 580.8L153.5 557.5L147.4 556.1L142.4 556.9Z"/>
<path fill="#0dfff2" d="M142.5 555.3L137.4 557.3L129.6 559.5L128.4 560.6L126.5 560.7L124.7 561.5L116.6 563.5L112.2 565.3L105.4 566.8L100.0 569.1L91.7 571.0L89.8 572.3L88.0 572.5L87.8 573.1L88.1 573.8L94.5 576.9L94.5 577.4L109.7 585.5L111.1 586.7L120.7 592.1L123.9 593.4L126.5 595.3L132.6 598.5L133.4 599.3L136.3 600.3L140.3 599.5L144.4 597.6L147.2 597.4L147.4 596.9L152.5 595.6L156.0 594.0L157.9 593.9L161.0 592.6L164.1 592.0L170.2 590.0L171.1 589.3L176.0 587.9L178.7 587.6L191.6 583.5L195.9 581.7L195.9 580.6L195.1 579.2L153.4 555.9L147.5 554.6L142.5 555.3Z"/>
<path fill="#19ffe6" d="M145.1 553.5L142.6 553.8L129.8 558.0L128.6 559.1L126.6 559.2L124.9 560.1L120.9 560.8L119.3 561.7L114.7 562.7L113.2 563.6L105.6 565.3L100.1 567.6L91.8 569.5L89.9 570.9L88.2 571.1L88.3 572.2L94.7 575.2L94.6 575.8L109.8 583.9L120.7 590.5L124.1 591.7L126.6 593.7L132.7 596.9L133.5 597.7L136.2 598.6L140.2 597.9L144.3 596.0L147.0 595.7L147.2 595.2L152.3 593.9L155.9 592.4L157.8 592.2L160.8 590.9L162.6 590.8L167.0 589.0L170.0 588.4L170.9 587.7L174.7 586.8L175.9 585.7L176.6 586.1L178.5 586.0L191.5 581.9L195.8 580.1L195.8 579.1L195.0 577.7L158.0 556.8L153.3 554.4L149.7 553.3L147.6 553.1L145.1 553.5Z"/>
<path fill="#26ffd9" d="M145.2 552.0L142.7 552.3L141.0 553.2L130.6 556.3L128.8 557.7L121.0 559.3L119.6 560.3L114.8 561.2L113.5 562.2L105.7 563.9L100.2 566.1L91.9 568.0L90.1 569.4L88.3 569.6L88.4 570.6L93.0 573.1L94.9 573.6L94.8 574.2L98.6 576.4L110.0 582.3L115.8 586.1L120.1 588.1L120.9 588.9L124.4 590.1L126.7 592.1L131.5 594.0L131.2 594.3L133.5 596.2L136.0 596.9L139.9 596.2L144.1 594.3L152.2 592.3L153.6 591.3L162.5 589.1L166.2 587.6L166.4 587.1L168.5 587.1L172.1 585.5L174.5 585.1L175.7 584.0L176.9 584.5L178.4 584.3L191.4 580.3L195.7 578.5L194.9 576.2L163.4 558.6L161.9 557.4L153.2 552.9L148.3 551.6L145.2 552.0ZM157.9 587.0L158.5 587.5L157.5 587.1L157.9 587.0ZM164.1 583.4L165.7 584.0L166.4 584.7L165.7 584.9L163.8 584.1L164.1 583.4ZM169.7 582.8L170.2 583.3L169.2 583.0L169.7 582.8ZM161.4 585.3L161.1 585.4L161.4 585.3ZM166.8 583.7L166.5 583.8L166.8 583.7ZM139.1 587.2L141.4 587.1L142.0 587.4L139.6 587.6L139.1 587.2ZM152.1 583.8L152.6 584.2L151.5 584.2L151.3 584.6L150.3 584.3L152.1 583.8ZM155.5 583.3L154.4 583.6L154.9 583.1L155.5 583.3ZM161.2 581.5L161.2 581.8L160.8 581.6L161.2 581.5ZM167.2 579.1L166.8 579.0L167.2 579.1ZM148.0 584.5L147.5 584.3L148.0 584.5ZM143.4 583.7L144.6 583.8L145.4 584.7L143.0 583.8L143.4 583.7ZM164.7 577.7L164.2 577.8L164.7 577.7ZM153.9 580.4L153.0 580.8L152.4 580.5L153.9 580.4ZM157.3 579.4L157.4 579.7L156.4 579.1L157.3 579.4ZM147.0 580.3L146.7 580.4L147.0 580.3ZM134.1 581.5L134.1 582.1L133.3 581.8L134.1 581.5ZM154.8 575.2L154.8 575.9L153.6 575.5L154.8 575.2ZM140.5 578.5L141.4 579.1L140.6 579.2L139.6 578.7L139.9 578.3L140.5 578.5ZM145.2 577.0L146.0 577.5L145.0 577.6L145.2 577.0ZM130.8 581.5L131.0 581.6L130.8 581.5ZM151.2 574.1L150.5 574.0L151.2 574.1ZM153.7 572.7L153.2 572.6L153.7 572.7ZM142.2 574.1L143.6 574.2L142.2 574.1ZM138.1 575.3L138.3 575.6L137.7 575.8L136.9 575.4L138.1 575.3ZM147.0 570.9L149.6 572.3L147.8 571.8L146.7 570.7L147.0 570.9ZM134.2 574.8L133.9 574.9L134.2 574.8ZM140.2 571.9L141.6 572.0L140.2 571.9ZM145.2 570.3L144.6 571.4L143.5 571.4L143.1 571.0L145.2 570.3ZM129.4 574.6L128.8 574.9L129.4 574.6ZM126.1 574.6L125.1 574.9L126.1 574.6ZM115.1 576.8L115.0 577.4L113.4 577.3L115.1 576.8ZM125.4 573.1L123.9 573.4L125.4 573.1ZM123.2 569.9L122.7 570.1L123.2 569.9ZM134.8 565.2L135.9 565.4L135.6 566.3L133.5 565.7L134.8 565.2ZM126.0 567.9L125.7 567.9L126.0 567.9ZM135.5 564.4L136.4 564.9L135.7 564.9L135.5 564.4ZM117.4 567.2L117.1 567.3L117.4 567.2ZM102.8 571.2L102.1 571.4L102.8 571.2ZM120.7 565.1L120.5 565.6L119.7 565.1L120.7 565.1ZM122.3 564.1L123.8 564.5L121.8 564.2L122.3 564.1ZM127.9 562.9L127.2 562.8L127.9 562.9ZM116.1 566.0L115.8 565.9L116.1 566.0ZM106.5 567.8L106.8 568.0L105.6 568.0L106.5 567.8ZM109.0 566.5L108.5 566.6L109.0 566.5ZM110.1 566.2L109.5 566.3L110.1 566.2ZM118.6 563.5L117.3 563.9L118.6 563.5ZM120.4 563.0L120.7 563.3L120.1 563.5L119.2 563.4L120.4 563.0Z"/>
<path fill="#33ffcc" d="M143.7 550.7L130.7 554.8L128.9 556.2L121.1 557.8L119.9 558.9L114.9 559.7L113.7 560.8L105.9 562.4L104.5 562.8L104.5 563.4L101.2 564.5L92.1 566.6L90.2 567.9L88.5 568.1L88.6 569.0L93.1 571.5L95.2 571.9L94.9 572.6L95.5 573.0L98.0 573.9L99.3 575.1L110.2 580.7L115.9 584.5L119.8 586.3L121.0 586.2L121.4 586.6L120.4 586.6L121.0 587.3L122.6 587.9L124.8 587.8L124.6 588.4L126.8 590.5L130.1 592.1L130.5 591.7L132.6 592.1L132.5 592.8L131.5 592.9L133.0 593.6L133.6 594.6L135.7 595.2L139.7 594.5L141.8 593.3L152.0 590.6L153.3 589.6L157.5 589.0L159.6 588.4L159.9 587.9L162.4 587.5L163.3 587.1L162.9 586.6L164.2 586.7L166.3 585.5L169.7 585.1L171.8 583.8L174.3 583.5L175.4 582.3L177.1 582.9L178.3 582.7L191.3 578.7L195.5 576.9L194.8 574.6L190.7 572.6L189.9 571.7L185.6 569.7L177.8 565.4L177.1 564.5L166.3 558.9L161.8 555.9L153.0 551.4L147.8 550.0L143.7 550.7ZM173.1 581.9L172.4 581.8L173.1 581.9ZM137.2 591.3L138.9 591.8L138.3 592.0L137.2 591.3ZM144.4 589.6L145.7 589.7L143.8 589.6L144.4 589.6ZM158.2 585.3L158.9 586.1L157.2 585.6L157.3 585.3L158.2 585.3ZM164.4 581.8L167.4 582.0L166.3 582.5L166.7 583.4L165.7 583.6L163.4 582.6L163.2 582.1L164.4 581.8ZM159.4 584.4L160.1 585.0L159.0 584.5L159.4 584.4ZM162.0 583.6L162.6 584.0L160.7 584.0L162.0 583.6ZM169.9 580.6L170.6 581.9L168.9 581.5L169.3 580.7L169.9 580.6ZM171.6 580.1L172.4 580.6L171.4 580.7L171.6 580.1ZM157.3 583.9L156.2 584.3L157.3 583.9ZM140.8 587.9L140.5 588.0L140.8 587.9ZM168.6 579.4L168.8 579.8L168.2 579.5L168.6 579.4ZM139.7 585.5L142.2 585.2L143.2 586.1L138.5 585.8L138.6 585.5L139.7 585.5ZM148.6 584.4L148.2 584.5L148.6 584.4ZM154.8 581.4L155.8 582.0L154.2 582.7L153.9 582.2L154.4 581.3L154.8 581.4ZM161.9 579.8L161.7 580.5L160.6 580.7L160.4 579.8L161.9 579.8ZM152.3 582.1L152.8 582.7L151.5 583.2L149.3 583.1L150.7 582.1L152.3 582.1ZM156.3 579.8L157.9 580.4L157.8 580.8L156.3 579.8ZM166.5 577.2L167.5 577.8L166.1 577.3L166.5 577.2ZM147.5 582.5L148.3 583.2L146.8 582.7L147.5 582.5ZM144.0 581.9L145.3 582.1L146.1 582.9L144.8 583.3L142.4 582.4L144.0 581.9ZM132.5 586.6L132.6 586.9L131.7 586.8L132.5 586.6ZM137.2 584.6L137.9 585.1L136.6 584.4L137.2 584.6ZM149.7 580.7L150.2 581.3L149.0 580.6L149.7 580.7ZM156.7 577.5L158.1 578.2L155.6 577.8L156.7 577.5ZM165.1 576.0L164.9 576.4L163.7 576.4L164.1 575.9L165.1 576.0ZM146.0 581.3L145.1 581.6L146.0 581.3ZM153.0 578.6L154.4 578.9L153.2 579.4L152.0 578.9L153.0 578.6ZM162.9 575.6L161.9 575.9L162.9 575.6ZM147.3 578.7L147.3 579.1L146.4 579.0L146.4 578.5L147.3 578.7ZM122.6 585.2L123.7 585.5L123.2 585.8L122.1 585.3L122.6 585.2ZM130.1 583.4L129.5 583.4L130.1 583.4ZM143.8 579.2L143.3 579.4L143.8 579.2ZM156.6 575.3L156.1 575.4L156.6 575.3ZM159.4 573.9L160.1 574.3L159.0 574.5L158.1 573.8L159.4 573.9ZM155.0 573.5L155.5 574.1L154.7 574.9L153.1 574.1L154.3 573.4L155.0 573.5ZM133.8 579.5L134.8 580.4L133.8 581.0L133.1 580.8L132.7 580.4L133.2 579.5L133.8 579.5ZM130.9 580.9L129.8 581.2L130.9 580.9ZM139.9 576.5L141.8 577.8L140.9 577.9L139.3 577.3L139.0 576.8L139.9 576.5ZM145.6 575.3L147.5 575.8L147.5 576.2L144.6 576.2L144.2 575.8L145.6 575.3ZM131.0 579.8L131.6 580.4L130.3 580.0L131.0 579.8ZM155.4 572.3L155.6 572.9L153.5 572.9L154.4 572.3L155.4 572.3ZM149.5 573.6L150.8 573.8L149.5 574.1L148.8 573.3L149.5 573.6ZM124.9 581.1L123.9 581.5L124.9 581.1ZM149.2 572.0L151.7 572.5L148.0 572.4L148.2 571.8L149.2 572.0ZM120.8 581.3L121.0 581.6L120.4 581.4L120.8 581.3ZM133.2 577.5L132.6 577.7L133.2 577.5ZM146.8 572.7L147.4 573.1L146.8 572.7ZM153.7 570.6L153.9 571.4L152.8 570.9L153.7 570.6ZM134.7 575.9L135.1 576.4L134.4 576.6L133.9 576.1L134.7 575.9ZM140.9 571.8L144.2 572.4L144.1 573.1L141.4 572.7L140.6 571.9L140.9 571.8ZM136.9 573.6L138.5 573.6L138.8 574.3L137.7 574.4L136.3 573.7L136.9 573.6ZM146.5 568.4L147.3 569.2L148.5 569.4L149.8 570.9L148.1 570.7L145.6 569.1L145.1 569.9L145.2 570.7L144.0 570.8L142.7 569.6L143.3 569.0L146.5 568.4ZM119.7 578.9L121.0 579.2L119.8 579.4L119.1 578.8L119.7 578.9ZM110.2 578.4L112.0 579.0L112.2 578.5L115.7 578.6L116.3 578.8L116.3 579.3L117.1 580.0L113.5 579.1L110.2 579.1L109.4 578.7L110.2 578.4ZM126.7 575.0L128.4 575.6L126.3 575.7L126.1 575.2L126.7 575.0ZM130.7 574.9L130.0 575.1L130.7 574.9ZM111.4 579.7L112.2 580.2L111.2 580.4L111.4 579.7ZM134.7 573.1L134.3 573.6L133.6 573.5L134.7 573.1ZM139.8 569.9L142.0 570.3L139.3 570.6L139.4 569.9L139.8 569.9ZM129.7 573.0L129.2 573.7L128.3 573.2L129.7 573.0ZM117.9 576.1L117.6 576.2L117.9 576.1ZM125.9 571.4L126.4 571.8L125.3 572.7L126.4 572.9L125.9 573.6L125.1 573.8L124.6 573.4L125.3 572.7L123.5 571.7L125.9 571.4ZM119.6 575.0L118.8 575.2L119.6 575.0ZM112.0 575.1L113.4 575.6L115.4 575.2L115.4 575.7L113.3 576.4L111.4 575.3L112.0 575.1ZM144.9 565.5L146.1 566.4L143.8 565.9L144.9 565.5ZM108.3 576.2L109.2 576.7L108.3 576.2ZM115.5 574.0L116.5 574.3L116.0 574.6L114.4 574.4L115.5 574.0ZM131.9 569.5L131.3 569.4L131.9 569.5ZM123.3 570.0L123.5 570.5L122.3 570.3L122.4 569.8L123.3 570.0ZM143.5 564.3L143.2 564.8L142.3 564.3L143.5 564.3ZM135.4 566.2L135.0 566.4L135.4 566.2ZM123.5 568.2L123.5 568.7L122.6 568.8L121.9 568.3L123.5 568.2ZM136.0 562.7L136.7 563.1L135.8 564.8L134.2 564.9L132.5 563.6L134.2 563.9L135.3 563.3L135.2 562.7L136.0 562.7ZM106.1 573.0L105.8 573.1L106.1 573.0ZM126.2 566.3L126.7 566.9L125.4 566.5L125.4 566.1L126.2 566.3ZM105.5 570.4L106.5 571.2L109.1 571.9L103.8 571.3L105.3 571.0L105.5 570.4ZM137.1 561.3L137.4 561.7L136.6 561.7L136.7 561.2L137.1 561.3ZM110.5 568.9L109.5 569.2L110.5 568.9ZM101.6 571.1L101.3 571.7L100.4 571.2L101.6 571.1ZM117.9 565.5L118.1 566.2L116.9 565.8L117.9 565.5ZM103.0 569.5L102.8 570.2L101.9 569.9L103.0 569.5ZM120.6 560.8L121.3 562.0L120.3 562.5L121.7 562.3L124.9 562.9L123.3 563.2L120.4 562.8L121.3 564.5L119.2 563.5L119.8 563.0L119.7 562.2L117.0 562.5L120.6 560.8ZM127.5 560.9L128.4 561.2L128.3 561.8L126.8 561.1L127.5 560.9ZM95.2 570.8L94.0 570.6L95.2 570.8ZM113.4 565.2L112.9 565.4L112.8 565.1L113.4 565.2ZM116.5 564.3L115.6 564.6L115.5 564.2L116.5 564.3ZM105.4 566.0L106.7 566.2L107.6 566.9L105.5 566.6L105.1 566.1L105.4 566.0ZM110.6 564.4L111.8 565.1L108.3 565.1L110.6 564.4ZM101.2 566.2L102.1 566.5L101.2 566.2ZM116.0 562.2L115.8 562.6L115.0 562.1L116.0 562.2ZM123.4 559.4L123.9 560.0L122.1 559.8L121.9 559.4L123.4 559.4Z"/>
<path fill="#40ffbf" d="M143.8 549.2L130.8 553.3L129.1 554.7L121.2 556.3L120.2 557.5L115.0 558.2L114.0 559.4L104.6 561.3L104.8 562.0L102.0 562.8L102.8 565.1L100.7 564.8L100.7 564.5L102.3 564.3L101.6 564.0L101.9 563.3L100.5 563.2L96.6 563.9L95.7 564.6L92.2 565.1L90.4 566.4L88.7 566.7L88.8 567.4L91.8 569.0L93.4 568.7L95.6 569.2L95.0 569.6L93.0 569.1L93.0 569.7L95.5 570.3L95.1 571.0L95.6 571.4L98.4 572.2L99.4 573.5L103.3 575.1L104.9 576.3L106.2 576.4L105.5 576.7L110.4 579.1L117.4 583.6L119.7 584.5L121.3 584.6L121.7 585.2L120.8 585.3L121.1 585.7L125.1 586.2L125.6 587.7L126.9 589.0L132.8 590.5L132.5 591.7L133.3 592.0L133.7 593.0L135.6 593.5L139.4 592.8L141.2 591.4L142.5 591.5L145.5 590.8L146.5 590.1L150.5 589.4L153.1 587.9L157.7 587.3L159.5 586.7L159.7 586.2L162.3 585.9L162.6 584.9L165.9 584.3L166.8 583.6L169.6 583.4L171.7 582.2L174.1 581.8L175.1 580.8L173.6 580.3L173.3 580.7L168.3 580.3L166.8 581.1L167.0 582.0L166.3 582.2L162.6 580.8L163.6 580.0L168.4 579.7L168.6 578.9L167.7 578.1L167.8 577.6L169.8 577.4L169.8 578.5L172.5 578.8L172.7 579.2L171.6 579.7L175.0 580.3L177.4 581.2L191.2 577.1L195.4 575.2L194.0 572.8L190.6 571.0L189.8 570.2L177.7 563.9L177.0 563.0L166.1 557.4L166.0 556.9L163.1 555.6L161.7 554.4L152.9 549.9L147.9 548.5L143.8 549.2ZM139.2 591.3L138.9 591.2L139.2 591.3ZM144.8 587.9L146.7 588.5L143.6 588.3L143.5 587.9L144.8 587.9ZM157.9 582.2L160.0 582.2L160.9 581.6L163.1 582.3L160.7 582.6L160.2 582.9L160.5 583.7L159.0 583.4L158.5 583.8L159.2 584.6L158.7 584.7L156.8 584.0L157.1 583.6L158.2 583.6L158.5 582.6L155.9 582.8L155.9 582.3L157.9 582.2ZM141.0 586.3L140.8 587.5L137.5 588.7L137.7 589.5L139.3 590.3L137.9 590.6L136.7 589.8L136.9 588.4L137.9 588.3L137.8 587.6L140.0 587.7L140.7 586.9L139.9 586.5L141.0 586.3ZM141.4 589.5L141.7 589.8L140.4 589.8L141.4 589.5ZM153.2 585.3L153.7 585.8L152.3 585.1L153.2 585.3ZM149.4 585.9L149.6 586.6L147.8 586.4L148.4 585.9L149.4 585.9ZM150.0 585.2L151.4 585.3L150.5 585.8L149.2 585.4L150.0 585.2ZM151.9 583.5L151.3 583.7L151.9 583.5ZM136.1 587.3L135.8 587.7L134.9 587.2L136.1 587.3ZM136.9 582.0L136.8 582.6L138.6 583.7L142.8 583.3L143.3 583.6L142.9 584.1L144.4 584.7L137.8 584.5L136.6 583.2L135.3 582.7L136.9 582.0ZM148.9 582.7L149.3 583.2L148.7 583.6L147.7 583.1L147.9 582.6L148.9 582.7ZM146.5 579.6L145.7 580.9L149.4 581.1L151.0 580.2L153.4 580.9L154.0 579.5L155.9 580.0L156.2 580.7L155.1 581.2L152.1 581.4L150.6 582.3L150.2 581.8L146.8 581.4L144.5 581.9L142.0 581.0L142.8 580.4L144.6 580.2L144.7 579.6L146.5 579.6ZM161.9 576.0L164.3 576.3L166.0 575.5L167.6 575.9L168.6 576.9L164.4 576.4L163.7 577.1L165.0 577.9L162.4 577.6L162.0 579.1L160.3 579.2L160.0 578.0L163.1 577.3L161.9 576.0ZM130.8 587.2L131.4 587.7L129.9 587.4L130.8 587.2ZM156.8 578.1L158.3 578.2L158.1 579.4L156.8 579.2L155.8 578.1L156.8 578.1ZM132.8 584.9L133.1 585.6L132.4 585.8L130.7 585.5L132.8 584.9ZM146.7 576.8L147.5 577.1L147.7 578.1L150.6 579.5L150.6 579.9L148.6 579.0L146.6 579.0L147.3 578.2L145.7 577.2L146.7 576.8ZM157.0 575.8L158.8 576.8L158.2 577.1L155.3 576.3L155.8 575.7L157.0 575.8ZM162.6 573.5L165.3 574.4L165.2 575.0L163.3 575.0L163.4 574.4L161.2 574.5L162.6 573.5ZM134.5 583.8L134.9 584.2L134.0 584.0L134.5 583.8ZM153.4 576.9L154.7 577.1L154.7 578.0L151.6 577.5L151.6 576.9L153.4 576.9ZM139.3 581.8L138.3 582.1L139.3 581.8ZM159.0 574.6L160.0 574.9L159.3 575.3L158.4 574.8L159.0 574.6ZM130.9 582.7L130.1 583.0L130.9 582.7ZM152.6 574.4L155.9 575.1L155.7 575.6L153.0 575.4L151.9 574.6L152.6 574.4ZM123.0 583.5L124.6 584.4L121.8 583.9L121.8 583.4L123.0 583.5ZM148.5 576.2L149.0 576.7L147.4 576.6L148.5 576.2ZM130.4 581.8L130.4 582.3L129.3 582.1L129.2 581.6L130.4 581.8ZM142.4 578.1L142.6 578.4L141.9 578.2L142.4 578.1ZM144.1 577.6L144.0 578.0L143.0 577.9L143.1 577.5L144.1 577.6ZM155.0 570.3L156.0 571.1L155.8 571.5L154.8 571.5L155.7 572.3L155.9 572.7L155.2 573.0L157.1 574.0L155.8 574.5L154.8 574.3L154.9 573.7L154.2 573.3L153.0 573.2L152.7 572.7L153.9 571.8L152.9 571.1L154.4 570.1L155.0 570.3ZM158.2 571.5L160.5 572.9L159.9 573.2L157.6 572.8L157.3 571.8L158.2 571.5ZM136.8 579.3L135.9 579.4L136.8 579.3ZM128.6 580.7L129.5 581.2L127.6 580.7L128.6 580.7ZM128.2 578.0L132.3 578.6L132.9 578.4L132.9 577.7L134.2 577.8L135.2 579.0L133.6 579.7L131.9 579.0L131.3 579.8L130.4 579.9L129.2 579.4L129.8 578.6L126.5 578.4L128.2 578.0ZM145.9 573.1L146.1 573.6L148.7 574.5L146.5 574.7L146.9 575.5L146.2 575.1L146.3 574.6L143.0 574.5L145.7 573.6L145.9 573.1ZM140.1 574.9L142.2 575.9L142.1 576.4L140.6 576.4L138.2 575.5L139.3 574.8L140.1 574.9ZM148.5 570.1L151.9 570.7L152.0 571.1L149.8 571.4L150.0 571.9L151.2 572.1L151.1 572.5L149.6 572.8L148.3 572.4L148.2 571.9L146.1 571.4L146.3 570.9L148.1 571.4L147.6 570.5L148.5 570.1ZM125.4 579.4L123.6 580.0L124.2 579.4L125.4 579.4ZM136.7 576.0L135.9 576.2L135.9 575.8L136.7 576.0ZM140.1 568.2L142.1 568.6L142.5 567.6L145.9 566.6L149.1 567.7L150.2 569.0L148.5 569.5L147.0 568.3L146.0 568.1L145.5 568.2L145.5 569.3L141.2 569.3L141.1 569.6L142.4 569.7L142.5 570.3L145.9 571.4L147.6 572.9L143.8 571.5L141.2 571.2L140.0 570.5L140.0 569.9L139.0 569.1L139.2 568.2L140.1 568.2ZM121.0 579.7L121.4 580.2L120.1 580.0L121.0 579.7ZM129.9 574.7L130.5 575.6L133.5 575.8L132.2 576.2L129.5 575.4L127.4 575.3L129.9 574.7ZM154.1 568.9L154.1 570.0L152.5 569.4L152.5 569.1L154.1 568.9ZM118.8 577.0L124.5 578.0L119.5 577.9L118.8 577.0ZM135.0 574.2L135.3 575.0L133.6 575.2L133.6 574.5L135.0 574.2ZM113.9 580.2L114.6 580.6L113.2 580.4L113.9 580.2ZM137.5 573.5L137.7 573.9L136.2 573.9L137.5 573.5ZM142.1 572.1L141.7 572.2L142.1 572.1ZM109.5 576.5L111.5 577.1L112.6 576.5L113.6 577.0L115.7 576.9L118.7 578.8L111.1 577.4L110.7 577.8L111.8 578.0L112.4 578.8L110.9 578.9L110.7 577.8L109.2 577.2L109.5 576.5ZM126.3 575.8L126.4 576.5L125.2 576.2L125.2 575.8L126.3 575.8ZM137.4 571.8L139.0 571.9L139.1 572.9L137.4 573.0L135.6 572.1L137.4 571.8ZM152.1 567.3L152.6 567.9L150.8 568.3L150.9 567.6L152.1 567.3ZM127.0 573.4L128.4 573.4L130.4 572.7L131.1 573.2L130.9 573.7L128.9 574.3L125.8 574.3L126.1 573.3L127.0 573.4ZM134.9 571.5L135.2 571.9L133.3 572.0L133.4 572.7L132.4 572.8L133.5 571.5L134.9 571.5ZM147.4 567.4L148.0 567.5L147.4 567.4ZM148.1 565.8L149.1 566.6L147.4 565.6L148.1 565.8ZM121.1 569.6L123.9 569.9L128.5 569.0L126.9 569.6L127.0 570.3L126.0 570.9L130.0 571.3L130.0 571.9L129.6 572.3L129.0 572.2L128.0 571.4L126.7 571.3L126.3 572.2L124.7 572.4L124.4 570.8L121.1 570.2L120.3 569.5L121.1 569.6ZM119.5 572.9L120.2 573.6L118.8 574.0L118.2 574.9L117.3 574.7L117.2 573.7L118.3 573.7L118.9 572.9L119.5 572.9ZM141.4 566.2L141.9 566.7L140.6 566.4L141.4 566.2ZM109.9 573.1L113.2 573.9L114.7 573.5L114.9 573.2L114.1 572.6L116.1 572.3L116.9 573.0L115.6 573.4L115.9 574.0L115.4 574.5L113.1 575.0L110.6 573.6L108.7 573.5L108.7 573.1L109.9 573.1ZM142.8 562.4L144.8 562.9L144.4 563.6L146.4 565.1L143.9 564.8L143.4 564.4L143.6 563.8L142.1 563.2L141.8 562.5L142.8 562.4ZM131.3 567.6L132.4 567.8L131.9 568.8L130.7 567.6L131.3 567.6ZM108.6 574.6L109.4 575.3L108.2 575.3L107.8 574.8L108.6 574.6ZM120.2 571.6L119.5 571.4L120.2 571.6ZM138.7 564.8L139.3 565.2L138.5 565.4L138.8 566.1L137.1 565.8L138.5 565.4L138.3 564.7L138.7 564.8ZM122.5 568.1L123.6 568.3L123.8 569.1L121.8 568.9L122.0 568.1L122.5 568.1ZM107.5 571.0L107.8 571.5L107.4 572.2L108.0 572.7L107.1 572.8L107.1 573.4L105.2 574.0L105.9 573.4L105.7 572.6L106.5 571.9L105.3 571.2L107.5 571.0ZM126.6 567.4L125.5 567.7L125.8 567.2L126.6 567.4ZM135.8 564.6L135.6 565.0L134.7 564.9L134.8 564.5L135.8 564.6ZM132.3 561.7L133.8 562.1L135.0 561.6L135.0 561.0L138.0 561.7L136.7 563.2L138.3 564.0L136.7 564.3L133.7 563.5L132.3 562.3L132.0 561.8L132.3 561.7ZM122.3 566.5L123.8 566.6L124.2 567.5L122.7 567.5L121.3 566.8L122.3 566.5ZM103.2 572.9L103.5 573.2L102.7 573.3L101.9 572.9L103.2 572.9ZM105.8 568.8L106.9 569.6L109.1 570.0L110.2 571.0L109.1 571.1L108.2 570.3L104.4 570.1L103.5 569.6L105.0 569.3L104.8 568.6L105.8 568.8ZM125.4 564.4L127.0 564.9L128.8 564.5L129.5 565.1L127.3 565.1L127.3 565.6L126.1 565.6L125.2 565.1L125.0 564.4L125.4 564.4ZM140.4 561.5L140.6 561.8L139.7 561.7L139.8 561.3L140.4 561.5ZM120.3 566.6L119.1 567.0L119.1 567.6L118.5 567.9L117.0 567.0L120.3 566.6ZM113.1 568.8L112.2 569.0L113.1 568.8ZM130.3 562.4L131.0 563.6L129.5 563.7L129.5 562.1L130.3 562.4ZM102.1 571.0L103.4 571.2L101.6 571.2L102.1 571.0ZM122.0 565.5L121.5 565.6L122.0 565.5ZM137.4 559.6L138.2 560.4L136.7 560.4L136.0 559.8L136.4 559.4L137.4 559.6ZM131.7 559.2L134.4 559.4L133.8 560.2L134.4 560.7L132.6 560.5L133.2 559.8L131.9 559.6L131.7 559.2ZM98.3 571.1L97.8 571.2L98.3 571.1ZM101.9 569.4L101.5 570.3L100.7 570.4L100.0 569.5L101.9 569.4ZM111.1 567.1L110.8 567.7L108.9 567.9L108.0 568.5L106.9 568.0L108.2 568.0L111.1 567.1ZM115.9 565.1L116.7 565.4L116.0 565.6L115.9 565.1ZM118.1 563.9L118.9 564.5L118.6 565.0L116.7 564.3L116.7 563.9L118.1 563.9ZM135.8 558.5L136.7 559.0L135.8 558.5ZM103.3 567.9L104.7 568.5L103.3 568.3L101.8 568.9L101.8 568.0L103.3 567.9ZM121.9 557.7L123.9 557.7L124.3 558.1L123.9 558.8L124.5 559.3L123.1 558.5L121.7 558.3L120.9 559.7L121.2 560.2L121.6 560.6L125.2 561.1L125.6 561.7L121.1 561.6L122.1 562.8L120.7 563.1L118.8 562.0L119.4 561.3L119.1 560.8L116.0 561.2L114.6 560.5L118.5 560.1L120.2 558.7L121.7 558.3L121.2 557.5L121.9 557.7ZM128.1 559.2L129.0 560.0L128.6 560.4L126.4 559.7L126.6 559.3L128.1 559.2ZM106.0 564.3L109.3 565.5L106.2 565.3L104.8 564.7L106.0 564.3ZM133.4 558.1L133.5 558.4L132.2 558.3L133.4 558.1ZM110.8 562.8L113.7 563.6L113.8 564.1L110.6 563.4L108.2 563.6L108.1 563.2L109.5 562.8L110.8 562.8ZM115.7 562.4L117.2 563.0L115.3 563.1L115.1 562.4L115.7 562.4ZM128.5 557.9L130.6 558.6L129.4 558.7L128.5 558.5L128.5 557.9ZM130.7 556.1L131.2 556.5L130.7 556.1ZM92.3 567.9L91.9 568.1L92.3 567.9ZM111.6 561.4L112.2 562.0L111.1 562.2L111.2 561.4L111.6 561.4ZM95.3 565.9L94.3 566.2L95.3 565.9ZM126.8 556.2L126.2 556.7L125.7 556.6L126.8 556.2ZM116.4 558.9L116.1 558.8L116.4 558.9Z"/>
<path fill="#4cffb3" d="M143.8 547.7L130.9 551.8L129.3 553.3L127.3 553.9L121.4 554.8L120.7 555.4L122.1 556.1L125.7 556.1L124.5 557.0L125.1 558.0L128.1 557.4L128.0 555.6L128.7 555.3L129.5 555.5L129.2 556.1L131.0 556.7L131.0 557.3L132.0 557.5L132.9 557.2L131.2 556.6L131.4 556.3L133.9 556.4L134.0 557.4L135.8 557.5L135.1 556.6L136.8 557.1L139.1 559.2L144.9 561.3L144.9 561.9L147.4 563.9L150.0 565.3L152.4 565.7L153.1 567.1L154.5 567.2L154.6 568.3L155.8 569.1L157.2 569.5L157.5 569.1L160.7 570.9L160.9 571.4L165.5 572.7L165.8 573.8L167.8 574.3L169.0 575.5L170.0 575.8L170.3 576.8L172.7 577.2L172.7 578.3L175.3 578.6L177.1 579.5L191.2 575.4L195.3 573.6L193.8 571.2L190.5 569.5L189.7 568.6L177.5 562.4L176.9 561.5L165.9 555.9L165.8 555.4L162.4 553.7L161.6 552.8L152.0 548.0L147.9 547.0L143.8 547.7ZM93.0 563.4L91.1 564.7L88.9 565.2L89.0 565.7L91.3 566.6L92.9 566.2L92.3 566.9L95.9 567.5L96.0 568.0L94.9 568.3L95.7 568.7L95.4 569.5L95.7 569.8L98.7 570.5L99.1 571.0L98.9 571.4L99.5 571.9L102.1 572.8L104.5 574.3L105.6 574.6L106.6 574.2L106.7 575.2L105.9 575.4L109.9 577.1L111.4 578.3L115.2 578.8L115.0 579.3L113.3 579.4L115.9 579.7L116.2 580.0L115.4 580.1L115.6 580.8L117.5 582.0L121.2 582.8L121.5 581.7L122.5 581.7L124.6 582.6L125.3 583.8L122.1 582.6L121.6 583.0L121.9 583.7L121.1 583.9L122.2 584.5L125.5 584.5L126.0 584.9L125.8 586.1L127.6 587.5L128.7 587.0L130.6 586.8L129.9 587.6L133.0 588.9L132.9 590.0L133.5 590.4L133.8 591.4L135.2 591.8L138.6 591.3L140.2 590.4L140.1 590.0L138.7 589.9L136.9 588.8L133.9 588.0L134.2 587.7L136.1 588.1L136.6 587.7L135.7 586.4L134.0 585.8L134.1 585.2L137.1 585.9L139.5 585.9L140.2 585.5L139.6 584.7L141.2 584.7L141.9 585.4L141.1 586.2L137.8 587.4L139.4 588.0L140.3 587.5L141.7 587.9L142.0 588.5L139.4 588.2L139.5 588.9L138.7 589.3L142.3 589.8L150.3 587.8L153.0 586.3L162.1 584.2L162.4 583.2L165.7 582.7L166.6 582.0L169.4 581.8L171.6 580.6L173.9 580.1L174.8 579.3L167.9 579.1L167.2 579.9L167.3 580.5L165.7 580.9L164.6 580.8L164.9 580.4L164.0 579.9L162.7 579.8L162.7 580.3L163.5 580.9L161.5 581.5L161.0 582.4L159.5 582.2L159.1 582.5L159.3 583.3L158.3 583.3L155.3 582.0L154.1 580.3L159.0 580.3L160.2 579.6L161.8 579.9L163.2 578.5L161.5 577.9L159.7 578.4L159.9 577.2L159.0 577.1L158.4 578.0L157.6 578.1L157.8 579.4L152.3 579.9L151.5 580.4L151.2 581.6L152.2 581.8L152.3 582.3L151.2 582.7L153.2 583.4L155.2 582.7L156.1 582.9L153.8 583.7L154.2 584.0L153.9 584.4L151.9 584.1L149.9 585.1L146.3 584.8L150.8 582.7L150.7 581.7L148.6 582.4L146.7 581.0L149.8 580.9L149.7 580.4L147.1 580.1L143.1 580.7L142.9 581.4L145.1 582.9L144.8 583.5L138.3 583.4L138.2 584.5L137.6 584.7L138.0 584.0L136.9 582.7L136.1 582.4L136.4 581.7L134.3 581.1L135.8 580.2L139.6 580.1L140.3 580.5L137.5 581.2L139.4 581.9L141.4 581.5L142.1 580.7L143.1 580.7L143.2 580.2L141.6 579.3L143.6 578.0L146.4 577.2L146.6 576.9L145.8 576.0L144.9 575.8L146.6 574.7L141.6 575.1L137.8 574.1L137.8 573.6L139.0 573.0L144.0 574.7L144.9 574.0L144.8 573.5L141.9 572.8L142.7 572.1L145.0 571.7L145.0 571.3L143.6 570.0L142.0 570.0L138.8 568.7L139.4 568.5L138.5 567.4L139.0 566.5L141.7 566.8L142.0 566.1L140.5 565.6L137.7 565.7L138.8 565.2L138.7 564.9L136.5 564.5L138.0 563.5L137.6 563.0L136.0 563.0L136.0 563.6L134.0 563.6L134.8 562.2L133.4 562.1L131.6 560.4L131.7 560.0L134.2 560.2L134.2 559.6L132.3 559.1L132.6 558.4L129.8 557.6L128.6 557.7L129.4 558.3L129.2 559.2L121.7 558.0L121.2 558.3L121.8 559.0L124.8 559.1L125.6 559.5L126.1 560.4L125.5 560.7L122.4 560.2L121.9 560.5L122.5 561.0L125.0 561.6L121.7 561.6L120.6 562.7L118.1 563.7L115.0 562.6L112.7 562.9L113.2 563.8L112.7 564.0L111.8 563.7L112.3 563.0L110.4 563.0L111.3 562.2L109.6 562.5L108.0 562.1L107.9 561.6L109.3 561.1L113.3 561.6L113.3 561.0L112.6 560.7L110.8 560.7L111.1 559.5L109.7 559.0L107.8 559.2L106.8 560.4L104.9 559.9L105.1 560.6L102.1 561.3L104.1 563.9L105.1 564.1L103.9 564.7L103.3 564.7L103.4 564.1L100.4 563.3L100.4 562.7L101.2 562.6L101.1 562.0L99.5 561.9L96.8 562.5L95.9 563.2L93.0 563.4ZM143.6 586.1L148.0 587.0L143.4 586.8L143.2 586.2L143.6 586.1ZM142.9 584.2L144.7 584.1L146.0 584.9L145.0 585.2L142.9 584.2ZM164.9 575.0L164.3 575.3L165.3 576.7L166.4 576.9L166.3 577.5L167.0 577.8L167.9 577.9L168.0 577.4L166.8 576.1L168.8 575.6L164.9 575.0ZM162.3 577.2L162.3 577.6L164.5 578.4L163.4 577.3L162.3 577.2ZM145.9 582.1L147.1 582.4L146.2 582.5L145.3 581.9L145.9 582.1ZM162.8 576.3L162.9 576.9L164.1 577.0L164.1 576.5L162.8 576.3ZM130.0 585.3L131.9 585.9L131.7 586.3L129.6 586.0L129.3 585.5L130.0 585.3ZM127.8 578.8L129.8 579.3L131.2 580.5L133.0 580.5L130.4 581.9L131.5 582.1L131.0 583.4L133.8 582.7L133.7 582.0L135.3 582.6L133.6 583.7L134.1 585.2L130.5 584.1L130.0 583.1L130.6 582.6L130.3 581.9L128.8 580.1L127.0 579.0L127.8 578.8ZM150.7 576.0L149.7 576.1L149.0 577.3L151.5 578.3L153.4 578.1L153.7 577.7L156.6 578.2L155.6 576.9L153.9 577.2L153.4 576.5L150.7 576.0ZM157.4 571.4L156.9 571.8L157.7 572.8L156.7 572.8L156.3 573.4L156.6 573.8L158.6 574.3L159.1 575.4L157.8 575.7L155.7 575.3L155.1 575.5L155.3 575.9L158.0 576.2L159.6 576.8L159.1 576.4L161.6 575.6L161.5 574.4L163.5 574.3L163.0 573.5L160.6 573.1L161.2 572.4L159.4 572.6L159.4 572.9L160.4 573.2L159.5 573.8L158.7 573.7L157.9 572.9L158.6 572.7L158.8 572.0L158.6 571.5L157.4 571.4ZM127.5 586.1L127.0 586.3L127.5 586.1ZM148.6 577.8L147.5 577.8L146.8 578.5L148.0 579.2L149.7 579.0L149.8 578.5L148.6 577.8ZM149.1 573.3L147.3 573.5L147.4 573.9L149.8 575.3L150.6 575.4L151.1 574.5L152.3 574.6L152.4 575.1L154.8 575.4L155.3 574.2L152.5 574.5L152.5 574.0L150.0 573.8L149.1 573.3ZM140.2 577.7L140.7 578.2L139.8 577.9L140.2 577.7ZM148.2 575.2L148.1 575.9L149.4 575.9L148.2 575.2ZM161.0 571.7L160.2 572.1L161.2 572.4L161.8 571.6L161.0 571.7ZM118.3 575.1L121.7 575.9L122.7 575.4L123.0 575.8L125.8 576.4L127.3 576.0L129.5 576.7L132.6 576.6L132.1 575.7L135.1 576.0L134.7 576.6L135.7 577.5L137.7 577.7L136.1 579.2L134.6 578.9L135.3 578.2L130.8 578.6L129.4 578.3L128.9 577.9L129.0 577.3L128.2 577.1L126.8 577.6L127.0 578.3L123.4 578.5L124.0 577.7L126.1 577.8L126.5 577.4L125.8 576.6L119.2 576.4L118.3 575.1ZM141.3 576.3L144.9 575.8L145.0 576.4L142.9 577.1L139.2 576.7L141.3 576.3ZM135.4 578.2L136.3 578.7L136.5 578.3L135.4 578.2ZM148.3 571.1L147.9 572.0L151.3 573.4L151.8 572.5L150.3 572.4L148.3 571.1ZM151.6 571.2L150.0 572.0L153.8 573.0L154.4 572.7L154.4 572.3L152.3 571.8L152.2 571.3L151.6 571.2ZM125.2 579.6L126.1 580.1L125.2 579.6ZM138.6 574.9L137.9 576.6L137.0 576.5L136.7 575.3L138.6 574.9ZM145.3 573.6L145.1 574.0L146.3 574.1L145.3 573.6ZM156.3 569.6L156.2 570.6L156.9 570.5L157.4 569.7L156.3 569.6ZM152.4 569.8L151.5 569.9L151.5 570.4L152.3 570.7L153.4 570.4L152.4 569.8ZM136.8 573.8L137.4 574.2L136.9 574.9L135.3 574.8L135.4 574.0L136.8 573.8ZM146.3 571.2L147.0 571.6L146.3 571.2ZM121.2 578.0L121.9 578.4L121.7 578.8L119.7 578.3L120.0 577.9L121.2 578.0ZM151.3 567.4L148.9 568.4L152.2 569.1L153.9 568.5L152.4 568.4L152.3 567.4L151.3 567.4ZM102.5 569.4L107.8 569.4L108.4 569.8L107.7 570.5L110.8 571.5L111.1 571.2L110.2 570.9L110.9 570.4L112.7 570.8L111.2 571.2L111.3 571.6L114.5 571.8L113.9 570.9L115.3 570.5L118.2 571.5L118.3 571.0L119.6 570.8L117.6 570.3L117.1 569.7L119.3 568.5L119.5 568.0L118.5 567.5L121.2 567.8L121.6 566.3L118.8 566.5L115.8 565.4L118.8 564.7L121.9 564.7L124.3 564.9L124.9 565.8L125.1 565.2L126.0 565.2L128.1 565.9L127.7 566.1L128.8 567.4L128.8 567.9L127.1 568.2L127.4 568.9L126.5 569.2L130.2 569.7L130.5 570.2L130.0 570.9L131.8 571.4L131.2 572.7L131.8 573.1L133.1 573.3L133.3 572.8L136.5 571.7L135.2 570.9L131.9 571.4L132.0 570.3L134.1 569.7L135.6 570.3L142.6 570.4L142.8 571.0L141.6 570.9L140.3 572.0L137.9 571.8L138.1 572.5L136.2 572.6L135.6 573.5L134.0 573.8L133.5 574.7L127.8 573.9L127.1 574.1L126.6 575.0L124.5 574.8L124.7 574.0L126.7 573.9L126.8 573.0L123.1 573.0L124.0 572.4L125.2 572.5L125.9 571.7L128.8 571.5L129.7 571.0L128.0 570.5L125.8 571.0L125.6 571.5L124.3 570.8L124.1 569.4L122.9 569.4L122.9 570.0L122.2 570.2L120.6 569.9L119.9 570.7L121.6 572.8L119.7 572.4L118.8 573.7L117.5 574.2L116.8 573.9L117.2 572.6L116.3 572.2L115.6 573.0L113.3 573.5L112.4 573.5L111.5 572.7L108.5 572.0L103.7 572.9L102.6 572.7L103.1 572.0L102.0 571.7L101.4 571.4L101.6 571.1L104.9 571.8L105.9 570.5L104.1 569.6L102.9 570.1L101.1 569.8L101.5 569.3L102.5 569.4ZM110.0 574.8L110.9 575.2L112.3 574.8L113.8 575.3L116.0 575.2L119.5 577.6L113.9 576.3L112.3 576.6L112.6 577.3L110.7 577.4L110.0 577.0L110.3 576.4L108.9 575.3L110.0 574.8ZM145.8 566.7L146.1 567.6L144.8 568.5L143.3 568.5L145.9 569.2L147.3 568.7L147.7 568.2L146.8 566.8L145.8 566.7ZM128.2 573.0L127.8 573.2L128.7 573.0L128.2 573.0ZM147.3 564.6L147.5 565.5L150.1 565.8L147.3 564.6ZM142.2 567.7L142.4 567.8L142.2 567.7ZM122.3 573.3L121.0 573.6L122.3 573.3ZM111.3 576.0L111.6 576.2L111.3 576.0ZM136.9 568.2L136.5 568.1L136.9 568.2ZM141.6 563.7L142.6 565.4L145.1 565.1L144.7 564.3L147.1 564.5L147.1 564.0L146.3 563.6L141.6 563.7ZM127.1 570.0L126.6 570.3L127.9 570.4L127.1 570.0ZM135.0 566.6L136.5 567.2L135.9 567.4L135.0 566.6ZM130.9 567.8L131.7 568.3L130.9 567.8ZM130.4 565.8L132.7 566.2L132.2 566.9L132.5 567.6L131.2 567.2L130.1 565.9L130.4 565.8ZM108.8 573.0L109.9 574.0L107.9 573.8L107.2 573.1L108.8 573.0ZM120.3 568.5L119.7 569.6L120.7 569.9L122.3 569.4L120.3 568.5ZM138.7 560.3L137.8 561.3L139.8 561.8L141.0 563.0L143.1 562.8L141.4 560.7L138.7 560.3ZM123.9 566.4L124.4 567.3L122.9 568.1L126.8 567.4L125.9 566.6L123.9 566.4ZM139.0 562.3L139.7 562.7L139.7 562.3L139.0 562.3ZM107.7 571.6L108.1 571.8L107.7 571.6ZM115.9 567.5L117.1 567.6L116.9 569.0L115.6 568.7L115.6 568.1L114.9 567.8L115.0 567.3L115.9 567.5ZM115.2 568.8L115.3 569.3L114.1 569.1L115.2 568.8ZM128.7 560.2L130.5 560.7L132.0 563.1L133.0 563.3L130.5 562.9L129.7 563.1L131.2 563.9L129.2 564.0L128.1 564.6L124.8 563.9L124.4 564.3L123.3 563.6L124.3 563.6L124.9 563.0L123.6 562.9L123.0 562.3L129.1 562.7L128.6 561.8L129.2 561.6L129.1 561.2L127.8 560.4L128.7 560.2ZM102.3 566.1L104.6 566.5L107.1 568.0L108.6 568.0L110.5 569.6L108.7 569.7L107.7 568.9L104.5 568.7L102.3 568.0L101.7 568.8L101.0 569.0L98.7 567.7L101.5 567.5L101.6 566.4L102.3 566.1ZM110.5 565.2L113.3 565.5L113.0 566.1L113.8 566.4L113.2 566.9L113.4 567.6L111.9 567.6L112.2 566.4L109.4 566.6L110.4 566.9L109.9 567.5L106.4 566.5L106.4 566.1L108.0 566.4L110.5 565.2ZM134.6 558.1L134.1 558.5L135.0 559.4L138.7 559.8L138.8 559.3L134.6 558.1ZM122.3 563.8L121.0 564.2L121.4 563.8L122.3 563.8ZM98.7 569.4L99.5 569.7L97.5 569.8L97.5 569.5L98.7 569.4ZM111.4 565.9L112.1 566.3L111.4 565.9ZM116.3 563.4L117.1 563.8L116.8 564.2L115.5 565.2L114.8 565.0L115.5 564.6L115.4 563.4L116.3 563.4ZM103.5 566.8L102.5 567.7L104.7 567.5L104.5 567.1L103.5 566.8ZM117.5 561.6L116.7 561.7L116.7 562.2L118.4 562.3L119.9 562.9L120.3 562.6L118.6 561.6L117.5 561.6ZM116.3 559.7L116.3 560.7L117.6 560.8L118.7 561.6L119.7 561.3L118.2 560.6L117.4 559.8L116.3 559.7ZM106.3 562.6L109.7 563.8L109.5 564.3L105.8 563.9L104.5 563.2L104.8 562.8L106.3 562.6ZM115.7 561.7L116.4 562.2L116.5 561.7L115.7 561.7ZM93.7 567.9L94.3 568.3L93.7 567.9ZM117.0 556.5L116.6 556.9L117.0 557.7L115.0 557.2L114.2 557.9L112.3 558.1L111.3 558.7L112.0 559.8L113.5 561.0L113.3 561.6L114.9 561.9L114.8 561.1L113.4 560.4L114.7 560.0L114.9 559.5L114.2 559.1L114.5 558.7L116.9 558.8L118.9 558.2L120.6 556.6L120.3 556.1L117.0 556.5ZM131.3 554.4L131.6 555.2L131.2 555.5L130.4 555.2L130.1 554.3L131.3 554.4ZM122.1 557.0L121.9 557.8L123.4 557.7L122.1 557.0ZM105.5 561.2L106.3 561.5L106.3 561.9L105.7 562.1L104.6 561.5L105.5 561.2ZM127.2 554.5L127.5 555.3L125.5 555.1L125.4 554.7L127.2 554.5ZM94.7 564.0L95.9 564.4L94.0 564.7L94.1 564.0L94.7 564.0ZM128.7 554.1L129.1 554.4L127.3 554.5L127.4 554.0L128.7 554.1Z"/>
<path fill="#59ffa6" d="M134.7 587.0L133.2 587.3L133.3 588.3L134.9 588.4L133.8 589.5L133.9 589.8L136.1 590.2L138.5 589.7L139.8 588.6L134.7 587.0ZM142.5 584.2L140.8 585.5L142.0 586.2L142.2 587.0L139.9 586.9L139.7 587.5L140.2 587.8L142.2 588.2L150.2 586.1L152.9 584.6L161.9 582.6L162.1 581.7L160.3 581.1L159.6 581.3L159.6 581.8L156.5 581.3L155.9 582.2L154.2 583.0L151.8 582.9L151.6 583.3L150.5 583.3L149.5 584.0L146.5 583.5L145.5 584.6L148.3 585.4L145.0 585.6L144.3 585.8L144.3 586.4L143.4 586.3L143.0 584.2L142.5 584.2ZM168.1 577.7L167.6 578.3L169.0 578.8L167.9 579.3L162.5 579.9L162.6 580.6L161.0 581.4L163.2 581.5L165.6 581.0L166.3 580.3L169.2 580.1L174.4 577.9L171.7 577.6L169.8 578.0L168.1 577.7ZM143.1 546.3L141.4 547.2L131.0 550.3L129.4 551.8L127.9 552.2L131.4 552.8L132.3 553.4L131.5 554.4L133.9 554.2L137.0 555.5L140.3 557.8L145.0 559.7L146.0 561.1L147.7 562.2L152.6 564.1L153.6 565.4L154.8 565.6L154.7 566.2L156.0 567.4L157.7 567.5L161.4 569.7L162.7 569.8L163.7 570.6L165.6 571.1L166.0 572.1L167.9 572.7L169.2 573.9L172.9 575.6L173.1 576.6L175.2 576.9L176.7 577.7L186.3 575.3L193.0 573.1L195.2 572.0L193.7 569.7L190.4 568.0L189.6 567.1L177.4 560.8L176.8 559.9L165.8 554.4L161.5 551.3L151.9 546.5L148.0 545.5L143.1 546.3ZM135.7 588.1L135.1 588.3L135.7 588.1ZM138.6 585.6L139.4 586.0L138.6 585.6ZM152.4 578.4L151.7 579.9L153.3 580.7L152.0 581.2L154.4 581.3L154.7 580.6L153.7 578.7L152.4 578.4ZM163.1 578.5L163.7 578.8L163.1 578.5ZM131.0 585.5L130.3 585.9L132.8 587.1L133.7 586.0L131.0 585.5ZM132.6 583.4L132.0 583.7L132.5 584.1L132.1 584.8L133.9 585.9L136.3 586.1L135.2 585.0L133.6 584.9L133.6 583.8L132.6 583.4ZM141.1 582.8L142.4 583.8L144.1 583.9L144.4 583.5L141.1 582.8ZM147.9 581.2L145.8 581.8L145.2 582.4L146.3 582.8L148.9 581.8L148.9 581.3L147.9 581.2ZM158.0 577.4L158.4 577.8L158.2 578.4L159.5 578.0L158.0 577.4ZM160.3 577.5L160.3 577.8L161.1 577.9L161.3 577.5L160.3 577.5ZM161.9 576.6L161.0 576.6L160.8 577.1L161.4 577.4L162.5 577.1L161.9 576.6ZM166.8 575.7L167.3 576.0L166.8 575.7ZM138.6 583.2L138.2 584.0L139.7 583.8L138.6 583.2ZM155.8 578.5L155.3 578.8L155.8 578.5ZM157.1 578.0L157.7 578.4L157.1 578.0ZM162.7 575.8L163.5 576.3L162.7 575.8ZM166.1 573.6L164.6 573.9L165.8 575.0L167.1 575.3L166.3 574.3L166.7 573.9L166.1 573.6ZM135.7 581.0L134.3 582.0L134.3 582.4L135.1 583.1L134.9 583.4L136.9 584.0L136.6 583.4L137.4 582.6L136.7 581.2L135.7 581.0ZM131.0 584.9L131.6 585.2L131.0 584.9ZM138.7 582.0L138.7 582.8L139.9 582.8L140.0 582.4L138.7 582.0ZM145.6 579.4L143.9 579.6L144.0 580.0L147.5 580.4L145.6 579.4ZM158.6 576.5L157.9 576.8L158.5 577.0L159.1 576.5L158.6 576.5ZM163.2 574.9L163.8 575.2L163.2 574.9ZM127.7 581.3L125.7 582.6L126.3 583.3L126.2 584.4L128.0 584.4L127.9 584.9L126.8 584.9L127.3 585.8L129.2 584.6L128.0 584.4L127.9 583.7L129.5 583.5L131.1 583.8L129.9 582.5L129.2 582.7L129.3 583.3L128.2 583.2L127.7 582.3L129.3 582.2L129.3 581.8L127.7 581.3ZM144.2 580.4L144.6 580.6L144.2 580.4ZM154.8 575.6L155.5 576.5L156.4 576.4L154.8 575.6ZM140.2 579.3L139.0 579.8L141.1 579.8L140.2 579.3ZM147.3 576.7L148.6 577.5L149.4 577.2L149.1 576.8L147.3 576.7ZM150.4 574.9L149.3 575.6L152.3 576.4L153.4 576.0L152.8 575.1L150.4 574.9ZM160.8 571.8L159.3 572.7L159.5 573.6L158.7 574.4L161.4 573.9L161.1 573.1L162.7 572.3L160.8 571.8ZM142.0 578.5L142.7 578.9L142.0 578.5ZM156.1 573.9L155.9 574.1L157.1 574.3L156.1 573.9ZM131.8 581.2L132.4 581.4L131.8 581.2ZM135.5 580.2L135.8 580.3L135.5 580.2ZM140.6 575.3L138.8 575.6L138.6 576.1L140.5 575.9L141.1 576.8L137.6 576.7L136.9 576.9L137.3 577.7L135.5 578.2L141.6 578.9L141.1 577.5L141.6 577.1L143.0 576.1L145.1 576.1L146.0 575.5L144.5 575.2L142.4 575.8L140.6 575.3ZM132.5 580.4L131.8 581.0L133.2 580.8L132.5 580.4ZM133.8 579.9L134.8 580.5L134.7 580.1L133.8 579.9ZM122.7 581.5L121.4 582.5L124.8 582.6L122.7 581.5ZM156.9 571.4L156.7 571.7L157.2 572.1L158.7 572.4L156.9 571.4ZM116.6 576.8L115.8 577.6L118.9 578.9L120.9 578.8L122.4 580.0L125.7 581.3L126.0 580.9L128.8 581.3L130.1 580.8L128.8 579.1L125.3 578.7L125.4 580.0L124.5 580.1L123.2 579.3L125.1 579.2L125.1 578.6L123.8 577.9L124.5 577.7L128.5 578.8L126.6 577.6L126.5 577.1L122.3 577.0L122.5 578.3L121.2 578.7L120.5 577.3L116.6 576.8ZM129.5 576.9L131.0 578.5L132.8 578.5L133.9 579.2L134.9 578.7L133.4 577.3L134.3 576.9L131.2 577.3L129.5 576.9ZM153.9 572.7L152.8 573.4L154.8 573.2L154.9 572.8L153.9 572.7ZM159.7 571.2L160.2 571.1L159.7 571.2ZM127.6 580.1L126.3 580.5L127.6 580.1ZM149.1 572.4L149.4 573.4L150.2 573.6L150.6 573.0L149.1 572.4ZM157.6 570.0L157.4 570.3L158.4 570.4L157.6 570.0ZM139.2 573.4L138.8 574.4L139.6 574.7L142.3 574.5L143.1 573.6L141.0 573.8L139.2 573.4ZM145.5 573.4L145.9 573.3L145.5 573.4ZM153.0 570.4L152.1 570.5L153.1 571.1L154.1 571.0L153.0 570.4ZM119.9 579.3L119.2 579.5L119.1 580.5L120.3 580.7L121.4 579.8L119.9 579.3ZM136.0 575.2L136.5 575.7L137.6 575.3L136.0 575.2ZM148.4 572.0L148.1 572.1L148.9 572.2L148.4 572.0ZM150.9 571.0L150.0 571.1L150.1 571.5L150.9 571.6L151.4 571.1L150.9 571.0ZM117.4 580.3L117.8 580.3L117.4 580.3ZM142.8 571.8L142.2 572.1L142.9 572.6L144.1 572.2L142.8 571.8ZM115.9 578.8L116.3 579.7L117.8 579.9L116.9 578.9L115.9 578.8ZM127.7 575.9L127.5 576.8L128.4 576.9L128.5 575.9L127.7 575.9ZM135.4 573.7L136.4 574.2L135.4 573.7ZM148.4 570.2L148.9 570.4L148.4 570.2ZM131.5 573.2L129.0 574.2L128.9 574.7L132.1 574.8L131.7 574.0L134.4 574.1L133.4 573.3L131.5 573.2ZM138.0 572.7L137.3 573.2L138.7 573.1L138.0 572.7ZM151.8 568.5L152.5 568.9L152.5 568.5L151.8 568.5ZM121.3 575.3L119.5 575.5L120.1 576.3L122.7 576.7L123.7 576.1L125.9 576.0L126.1 575.6L121.3 575.3ZM134.3 572.4L133.9 573.1L135.2 573.0L134.3 572.4ZM138.9 570.2L138.2 570.4L138.5 571.2L140.3 571.6L141.9 570.7L138.9 570.2ZM142.1 569.6L141.3 570.3L143.5 570.2L142.1 569.6ZM137.6 571.3L136.6 571.3L135.9 571.9L137.5 571.8L138.3 571.2L137.6 571.3ZM143.9 569.5L144.4 569.8L143.9 569.5ZM150.6 566.6L149.8 566.8L151.6 567.1L150.6 566.6ZM120.5 572.5L119.3 573.0L119.6 573.7L121.0 573.9L122.5 573.3L123.7 574.0L126.6 574.7L126.6 574.1L128.7 574.1L129.4 572.9L128.0 572.5L127.5 573.4L125.8 573.6L123.9 573.4L124.0 572.9L123.2 572.5L120.5 572.5ZM112.9 575.4L113.4 576.1L114.3 576.4L118.4 576.6L118.4 576.2L117.7 575.9L114.9 575.3L112.9 575.4ZM143.2 568.5L143.9 568.9L143.2 568.5ZM131.7 571.0L132.0 571.5L132.8 571.6L133.0 571.2L131.7 571.0ZM133.1 570.0L132.1 570.0L131.7 570.5L133.7 570.9L135.8 570.3L135.6 569.8L134.7 569.7L133.1 570.0ZM146.9 566.3L145.3 566.7L145.4 567.4L147.1 567.1L146.9 566.3ZM111.8 575.9L110.8 576.0L111.5 576.7L113.6 576.6L111.8 575.9ZM117.2 574.2L117.6 574.8L119.1 575.3L117.9 574.2L117.2 574.2ZM129.7 562.7L129.1 563.5L129.3 564.0L133.0 564.5L132.6 565.2L132.8 566.2L131.6 566.2L132.4 567.2L131.8 567.4L130.0 566.6L129.1 566.5L128.8 567.0L127.4 566.7L127.9 567.8L129.6 567.8L131.4 568.4L134.3 567.6L135.3 568.2L141.3 568.6L139.5 567.5L137.0 567.4L135.2 566.6L134.6 566.3L134.7 565.1L132.3 563.6L136.2 565.2L138.6 565.3L138.2 564.6L136.8 563.9L138.0 563.5L136.0 563.0L136.3 562.4L131.9 562.1L131.6 562.6L129.7 562.7ZM126.4 571.6L124.7 572.1L126.1 572.0L126.4 571.6ZM135.4 568.2L136.1 568.6L135.4 568.2ZM146.0 565.3L146.6 565.6L146.0 565.3ZM117.9 572.8L116.3 573.0L116.4 573.5L118.0 574.0L117.7 573.2L118.6 573.2L118.8 572.8L117.9 572.8ZM131.2 568.9L130.4 569.2L131.0 569.4L131.2 568.9ZM137.7 566.0L137.0 566.2L139.2 566.8L137.7 566.0ZM148.1 563.4L147.9 563.8L148.8 563.9L148.1 563.4ZM107.2 573.9L108.4 574.9L109.9 574.9L108.9 574.1L107.2 573.9ZM113.5 572.1L113.1 572.3L113.8 572.7L113.5 573.3L114.0 573.7L115.1 573.6L115.5 572.6L116.5 572.6L116.1 571.8L113.5 572.1ZM121.3 569.9L122.1 571.2L123.2 570.9L121.3 569.9ZM120.5 568.9L121.3 569.8L122.9 569.8L123.9 570.6L124.9 570.7L125.5 570.2L123.5 568.6L120.5 568.9ZM140.1 564.3L139.5 564.7L141.3 565.0L141.4 564.7L140.1 564.3ZM143.5 562.7L142.6 562.8L142.9 563.7L144.8 563.4L143.5 562.7ZM145.8 562.2L145.3 562.5L145.6 562.9L146.9 562.8L145.8 562.2ZM111.0 572.5L110.5 573.1L111.3 573.3L111.6 572.8L111.0 572.5ZM107.2 572.2L107.1 573.1L107.5 573.5L108.7 573.6L109.9 573.0L109.9 572.7L107.2 572.2ZM109.1 570.8L110.0 572.1L110.9 572.4L111.5 571.7L109.1 570.8ZM128.7 564.5L128.5 565.0L129.2 566.2L131.2 565.9L130.1 564.9L128.7 564.5ZM105.6 571.3L104.2 572.3L105.0 572.7L106.7 571.8L105.6 571.3ZM139.9 558.9L138.4 559.2L138.2 559.6L140.2 560.1L140.8 561.0L142.9 561.1L141.7 560.2L141.7 559.6L139.9 558.9ZM112.2 569.6L111.9 569.9L112.8 569.9L112.2 569.6ZM124.2 565.0L125.0 565.9L126.2 565.5L124.2 565.0ZM137.2 561.5L136.1 561.9L137.5 562.3L137.2 561.5ZM110.9 565.9L109.8 567.0L110.7 568.0L110.5 568.6L108.8 568.3L108.1 568.8L114.5 569.1L113.3 567.8L115.1 566.7L110.9 565.9ZM115.8 568.0L114.7 568.0L114.8 568.5L115.7 568.5L116.2 568.0L115.8 568.0ZM117.8 566.2L117.7 567.0L118.9 566.8L117.8 566.2ZM125.3 562.6L124.8 563.2L127.5 564.0L128.8 564.0L128.9 563.5L125.3 562.6ZM99.5 568.4L98.6 568.5L99.6 569.2L99.1 570.0L102.1 571.1L102.5 570.6L100.8 569.7L102.1 569.3L105.0 569.7L105.4 569.1L103.9 568.5L103.4 568.8L99.5 568.4ZM97.1 561.1L94.6 561.9L96.1 562.5L96.4 563.6L98.3 564.1L96.5 563.7L97.2 564.4L96.9 565.1L97.5 565.4L100.4 565.9L101.1 565.7L101.3 564.7L102.0 564.4L105.9 564.9L105.9 564.3L107.8 564.7L109.9 563.5L112.7 563.3L113.9 563.7L113.7 564.3L114.3 564.7L115.5 564.9L115.2 565.6L117.4 566.0L118.6 565.6L114.4 563.6L115.3 562.3L114.9 561.2L113.5 561.4L113.4 562.5L110.2 562.5L108.7 563.1L105.9 562.5L104.4 563.4L101.8 563.2L100.4 563.6L100.2 563.4L101.4 562.9L100.0 561.9L99.9 561.4L100.6 560.6L97.1 561.1ZM119.7 564.9L118.9 565.5L120.1 565.7L120.9 564.9L119.7 564.9ZM131.9 560.3L132.4 561.4L134.3 561.1L134.5 560.7L131.9 560.3ZM112.1 567.1L111.7 566.9L112.1 567.1ZM122.8 562.4L122.1 562.9L124.0 563.1L122.8 562.4ZM126.4 559.0L125.7 559.5L126.0 560.0L128.8 561.0L128.0 559.4L126.4 559.0ZM130.8 559.1L131.6 560.0L132.5 560.1L132.5 559.7L130.8 559.1ZM137.6 557.5L137.8 558.1L138.5 558.1L137.6 557.5ZM117.3 562.3L116.4 563.5L119.2 562.8L120.6 562.9L121.3 562.0L119.2 562.1L118.9 562.6L117.3 562.3ZM124.3 561.4L124.0 561.7L124.7 561.7L124.3 561.4ZM102.7 566.7L101.7 567.5L103.5 567.7L103.9 567.3L102.7 566.7ZM107.3 565.7L106.6 565.9L107.3 566.3L108.5 566.3L108.6 565.9L107.3 565.7ZM110.6 565.1L111.1 565.4L111.4 565.0L110.6 565.1ZM124.5 560.4L124.3 560.5L124.8 560.9L125.7 561.0L126.2 560.5L124.5 560.4ZM128.4 559.6L128.2 559.9L128.8 559.8L128.4 559.6ZM134.9 556.6L134.4 557.0L134.6 557.4L136.6 557.6L134.9 556.6ZM97.0 565.8L96.0 567.0L96.1 567.6L101.0 567.7L97.0 565.8ZM121.7 561.2L120.9 561.6L122.1 561.4L121.7 561.2ZM130.4 558.3L130.0 558.7L130.7 559.1L131.4 558.3L130.4 558.3ZM130.8 556.7L129.8 556.8L129.9 557.7L132.4 558.3L132.0 557.6L132.2 557.0L130.8 556.7ZM123.1 560.2L123.7 560.5L123.1 560.2ZM96.2 567.8L95.8 568.2L97.1 568.2L96.2 567.8ZM103.9 565.5L103.0 566.0L104.3 565.8L103.9 565.5ZM124.0 558.9L122.8 558.8L122.9 559.3L125.2 559.5L124.0 558.9ZM125.4 557.3L126.5 558.7L127.8 558.6L126.9 557.5L125.4 557.3ZM117.8 560.2L117.5 560.4L118.6 560.6L117.8 560.2ZM107.9 563.3L107.2 563.2L107.9 563.3ZM131.4 555.3L132.5 555.8L131.4 555.3ZM110.2 561.9L110.7 562.2L110.2 561.9ZM124.0 557.1L123.8 557.4L124.4 557.3L124.0 557.1ZM107.3 560.9L107.7 561.7L109.0 561.8L109.2 561.3L107.3 560.9ZM113.9 559.8L114.2 559.9L113.9 559.8ZM116.5 558.3L116.9 558.9L117.7 558.9L116.5 558.3ZM122.2 556.7L121.5 556.9L122.0 557.3L123.4 557.4L123.3 556.9L122.2 556.7ZM130.5 554.2L129.7 554.4L130.6 554.8L130.5 554.2ZM93.5 562.1L89.2 564.1L90.9 564.8L92.4 564.4L94.8 565.2L96.6 565.0L93.8 563.3L93.4 562.6L94.3 562.0L93.5 562.1ZM112.2 559.4L112.9 559.8L112.2 559.4ZM125.2 555.4L125.3 555.8L126.3 555.5L125.2 555.4ZM125.8 554.0L126.6 555.4L127.3 555.4L127.8 554.5L125.8 554.0ZM111.0 559.3L111.7 559.4L111.0 559.3ZM97.1 562.3L100.2 562.4L97.5 562.7L97.1 562.3ZM103.6 559.4L102.2 560.1L103.9 561.2L105.6 560.7L104.4 560.0L104.6 559.4L103.6 559.4ZM110.0 557.6L108.1 557.7L107.1 558.9L105.4 558.6L105.3 559.1L107.7 559.9L110.0 559.4L110.6 559.1L110.5 557.9L110.0 557.6ZM119.6 554.6L117.3 555.1L117.5 556.4L115.3 555.8L114.6 556.0L114.5 556.6L112.4 556.6L111.6 557.2L112.3 557.5L112.2 558.1L112.7 558.5L114.4 558.3L113.9 557.6L114.3 557.1L116.7 557.2L118.6 556.5L118.9 555.4L120.1 554.9L119.6 554.6ZM129.0 553.4L129.7 553.3L129.0 553.4ZM122.5 553.3L120.9 553.8L122.6 554.5L125.8 553.9L125.1 553.1L122.5 553.3ZM126.4 552.5L125.4 553.0L126.9 552.8L126.4 552.5Z"/>
<path fill="#66ff99" d="M136.8 586.0L136.0 586.1L136.1 586.8L135.2 587.3L136.1 588.0L135.7 588.2L138.3 588.0L139.4 587.1L138.0 587.0L136.8 586.0ZM147.9 582.1L146.9 582.1L145.8 582.9L148.5 583.7L148.2 584.0L145.4 584.2L143.8 585.7L150.1 584.5L151.3 583.4L152.6 583.0L152.6 582.3L153.4 582.2L153.6 581.7L152.1 581.5L151.9 581.9L150.7 581.9L149.8 582.5L147.9 582.1ZM156.8 579.9L156.6 580.7L157.6 581.0L156.3 581.9L161.7 580.9L161.7 580.2L158.9 580.5L156.8 579.9ZM143.2 544.8L141.5 545.7L131.1 548.8L129.0 550.6L131.0 550.8L132.7 551.9L132.1 552.7L134.1 552.3L137.2 553.9L140.5 556.2L145.1 558.1L146.7 559.9L152.7 562.5L153.3 563.4L155.0 564.0L155.0 564.6L155.8 565.4L157.5 565.4L158.9 566.7L165.8 569.5L166.3 570.5L173.5 574.3L173.5 574.9L176.2 575.8L179.1 575.7L183.4 574.5L193.0 571.6L195.1 570.4L193.6 568.2L190.3 566.4L189.5 565.6L177.4 559.3L176.7 558.4L165.7 552.9L161.3 549.8L151.9 544.9L148.1 544.0L143.2 544.8ZM140.1 585.5L140.5 586.2L142.0 586.5L143.8 585.8L143.1 585.3L140.1 585.5ZM154.8 581.2L154.3 582.1L152.8 583.0L156.0 582.0L155.3 581.1L154.8 581.2ZM164.2 578.1L163.1 578.7L164.2 579.5L165.5 579.4L166.2 578.3L164.2 578.1ZM167.2 578.0L167.2 578.5L168.2 578.5L169.9 577.7L167.2 578.0ZM168.5 576.3L168.2 576.6L169.9 577.7L172.4 576.9L168.5 576.3ZM174.0 576.4L172.8 576.8L174.0 576.4ZM134.0 588.0L134.6 588.4L134.7 588.0L134.0 588.0ZM142.4 584.3L142.7 584.5L142.4 584.3ZM133.4 585.9L133.6 586.6L134.7 586.6L134.8 586.3L133.4 585.9ZM141.7 583.4L141.5 583.7L142.4 583.7L142.5 583.4L141.7 583.4ZM133.6 583.6L134.2 584.3L136.1 584.4L133.6 583.6ZM142.4 581.4L141.9 581.7L142.8 582.2L143.8 582.2L144.0 581.8L142.4 581.4ZM131.7 584.3L130.9 584.5L132.3 585.3L132.8 584.7L131.7 584.3ZM148.1 579.8L147.5 580.2L148.6 580.1L148.1 579.8ZM152.7 577.0L152.3 577.6L153.6 578.1L153.5 577.2L152.7 577.0ZM161.3 575.2L161.7 575.5L161.3 575.2ZM165.4 572.2L164.8 572.6L166.5 573.4L165.8 572.9L166.2 572.2L165.4 572.2ZM133.2 582.8L132.8 583.0L133.2 582.8ZM139.1 580.7L139.7 581.1L139.1 580.7ZM135.3 580.4L134.8 580.7L135.8 581.5L137.1 581.4L136.7 580.7L135.3 580.4ZM145.0 578.1L144.3 578.4L145.3 578.3L145.0 578.1ZM136.0 579.6L135.7 579.9L136.6 579.9L136.0 579.6ZM150.8 573.6L149.6 574.0L152.9 574.6L152.5 573.6L150.8 573.6ZM160.0 571.6L159.3 572.6L161.2 572.2L160.0 571.6ZM126.5 580.8L126.5 582.2L127.0 582.3L127.7 581.2L126.5 580.8ZM160.5 570.6L160.0 571.3L161.7 570.8L160.5 570.6ZM137.9 575.3L137.1 575.6L137.9 576.4L141.2 577.1L140.9 575.5L137.9 575.3ZM123.0 580.7L122.6 581.1L124.1 580.7L123.0 580.7ZM125.9 577.5L126.0 578.4L127.9 578.4L126.7 579.3L128.5 579.6L129.9 579.1L128.5 577.7L125.9 577.5ZM136.9 576.5L137.8 576.5L136.9 576.5ZM143.8 573.8L143.2 574.3L145.0 574.5L145.6 574.1L143.8 573.8ZM154.1 571.3L154.0 571.5L154.6 571.3L154.1 571.3ZM157.1 570.0L157.8 570.3L157.1 570.0ZM140.9 574.0L141.4 574.8L142.4 574.8L142.6 574.4L140.9 574.0ZM149.6 571.7L149.9 571.6L149.6 571.7ZM123.0 576.5L121.3 577.3L121.4 577.6L124.9 579.3L124.9 578.8L123.7 578.6L122.8 577.8L124.8 577.5L124.8 577.1L123.0 576.5ZM132.5 575.8L131.7 576.0L131.8 576.7L133.8 576.6L133.6 576.1L132.5 575.8ZM139.1 574.2L139.8 574.2L139.1 574.2ZM127.0 576.3L128.1 576.9L127.0 576.3ZM139.6 572.1L139.1 572.7L140.4 573.1L142.6 572.2L139.6 572.1ZM150.3 569.7L151.0 569.6L150.3 569.7ZM119.6 578.1L119.4 578.8L120.7 578.4L119.6 578.1ZM125.7 575.6L125.0 576.0L126.1 575.8L125.7 575.6ZM116.1 577.4L117.0 577.9L116.1 577.4ZM118.2 575.6L117.4 575.7L117.5 576.1L119.7 577.1L120.2 576.7L120.1 575.8L118.2 575.6ZM122.7 575.7L123.4 576.1L122.7 575.7ZM130.5 572.3L129.5 572.9L131.8 573.1L131.4 572.3L130.5 572.3ZM132.8 571.8L132.5 572.0L133.9 572.4L132.8 571.8ZM125.0 574.0L124.8 574.4L125.8 574.1L125.0 574.0ZM139.1 568.8L138.4 569.1L139.5 569.8L140.9 569.4L139.1 568.8ZM121.9 574.1L122.8 574.6L123.8 574.1L121.9 574.1ZM136.9 570.0L136.5 570.2L137.4 569.9L136.9 570.0ZM142.3 568.2L141.7 568.6L143.0 568.6L142.3 568.2ZM120.7 574.0L119.9 574.1L120.8 574.6L121.1 574.4L120.7 574.0ZM124.6 572.0L124.2 572.3L126.4 573.0L126.0 572.3L124.6 572.0ZM128.0 572.1L127.5 572.4L128.4 572.3L128.0 572.1ZM128.1 571.0L129.0 571.5L128.1 571.0ZM114.3 574.0L113.5 574.1L116.1 575.0L117.1 574.5L114.3 574.0ZM132.2 569.7L132.6 569.8L132.2 569.7ZM132.3 568.6L133.4 569.2L135.1 568.4L132.3 568.6ZM140.2 566.4L140.0 566.9L141.0 566.9L140.2 566.4ZM146.1 565.0L145.8 565.1L146.8 565.3L146.1 565.0ZM111.2 574.6L111.7 575.1L113.0 575.0L111.2 574.6ZM117.5 572.8L118.6 573.4L117.5 572.8ZM135.5 565.6L135.1 565.9L135.6 566.6L140.0 566.9L139.2 566.0L137.2 566.1L135.5 565.6ZM120.1 571.3L120.3 572.0L122.1 571.3L120.1 571.3ZM125.6 570.2L125.9 570.1L125.6 570.2ZM116.7 571.8L117.7 572.3L116.7 571.8ZM137.9 564.5L137.7 564.9L138.9 565.1L137.9 564.5ZM113.9 571.4L114.2 572.1L115.1 571.8L113.9 571.4ZM123.8 568.5L124.2 569.0L125.0 568.8L123.8 568.5ZM133.1 566.0L132.5 566.4L133.7 566.1L133.1 566.0ZM108.7 572.6L107.7 572.7L108.9 573.3L109.5 573.1L108.7 572.6ZM129.5 565.2L129.9 566.1L131.7 566.4L131.8 566.1L129.5 565.2ZM133.3 563.1L133.4 564.5L132.3 565.0L133.7 565.8L134.6 565.2L134.2 564.8L134.6 563.9L133.3 563.1ZM115.3 570.3L113.9 570.8L114.6 571.2L116.0 570.8L116.0 570.4L115.3 570.3ZM123.0 567.5L122.2 567.9L124.5 568.3L123.0 567.5ZM135.1 560.6L132.9 561.7L134.3 562.0L134.0 562.6L136.5 563.5L138.3 563.6L136.1 562.5L135.1 560.6ZM143.8 561.3L142.9 561.4L143.3 562.0L144.6 561.7L143.8 561.3ZM146.2 560.8L146.1 561.2L146.7 561.1L146.2 560.8ZM128.3 565.7L128.4 566.0L129.4 565.7L128.3 565.7ZM107.7 570.9L107.3 571.2L107.7 571.9L108.5 571.9L109.4 571.3L107.7 570.9ZM120.8 567.5L121.7 568.0L121.6 567.6L120.8 567.5ZM129.0 563.7L129.8 564.2L130.0 563.9L129.0 563.7ZM109.5 569.5L109.9 569.7L109.5 569.5ZM129.1 563.2L128.9 563.7L130.2 563.8L129.1 563.2ZM130.0 561.3L129.5 561.8L129.9 562.2L132.6 562.7L131.0 561.3L130.0 561.3ZM124.5 563.6L125.8 564.1L124.5 563.6ZM136.4 560.1L136.9 560.6L137.4 560.5L136.4 560.1ZM139.3 557.5L138.5 557.9L140.5 558.4L141.1 559.4L142.5 559.4L141.0 557.7L139.3 557.5ZM111.3 564.5L112.6 565.8L110.4 565.8L110.9 566.4L110.8 567.0L113.2 567.4L113.6 567.0L112.8 565.9L114.7 565.3L111.3 564.5ZM125.6 561.2L127.1 562.1L125.6 561.2ZM99.6 568.1L99.6 568.7L100.3 569.1L102.1 569.1L99.6 568.1ZM109.2 566.9L108.5 567.2L109.2 566.9ZM119.9 563.4L119.2 563.9L120.6 563.4L119.9 563.4ZM133.8 559.3L132.7 559.2L133.2 559.6L134.1 559.4L133.8 559.3ZM103.9 567.5L104.0 568.0L105.0 567.7L103.9 567.5ZM116.3 563.1L115.9 563.8L117.9 564.0L116.3 563.1ZM99.8 567.0L99.4 567.2L101.0 567.7L101.3 567.3L103.0 567.6L102.0 567.0L99.8 567.0ZM131.8 558.1L132.2 558.3L131.8 558.1ZM114.6 562.2L114.0 562.7L115.2 563.1L115.4 562.7L114.6 562.2ZM126.7 557.6L126.3 558.3L128.4 559.2L127.5 558.5L127.5 558.0L126.7 557.6ZM107.8 564.4L107.6 564.6L108.2 564.6L107.8 564.4ZM117.5 561.4L117.2 561.7L118.1 561.4L117.5 561.4ZM120.3 560.6L119.7 560.9L120.7 560.6L120.3 560.6ZM124.9 559.0L125.7 559.1L124.9 559.0ZM135.2 555.3L134.7 555.6L135.6 556.1L136.0 555.7L135.2 555.3ZM103.1 565.3L102.2 565.8L103.2 566.0L103.6 565.6L103.1 565.3ZM117.6 560.9L118.2 561.2L117.6 560.9ZM97.0 564.9L96.4 565.9L100.3 566.1L98.9 565.1L97.0 564.9ZM114.0 560.1L113.7 561.1L112.4 561.5L114.0 561.9L114.0 561.3L114.9 560.8L114.0 560.1ZM131.2 555.4L130.3 555.5L130.5 556.0L131.8 556.3L131.9 555.5L131.2 555.4ZM97.9 561.2L96.9 561.8L98.6 562.4L97.3 563.4L98.3 563.8L98.4 563.3L101.0 563.5L101.0 562.9L101.8 562.8L105.3 563.0L105.4 562.4L106.8 562.1L106.6 562.7L107.6 563.0L109.5 561.8L107.0 562.1L106.2 561.1L104.6 562.0L102.4 561.9L100.6 562.7L99.8 562.2L100.0 561.4L97.9 561.2ZM110.8 561.3L109.7 561.8L112.3 561.5L110.8 561.3ZM124.5 557.6L124.9 557.8L124.5 557.6ZM126.2 556.2L127.5 556.9L126.2 556.2ZM123.2 557.5L123.7 557.5L123.2 557.5ZM107.7 559.5L108.0 560.1L108.8 560.1L108.9 559.8L107.7 559.5ZM122.6 555.4L122.2 555.7L123.1 555.6L122.6 555.4ZM93.6 562.3L93.5 562.9L95.8 563.6L96.0 563.2L93.6 562.3ZM126.8 552.9L127.3 553.0L126.8 552.9ZM112.9 555.9L112.5 556.5L114.1 556.6L112.9 555.9ZM92.8 561.3L89.5 562.5L91.6 563.0L91.9 562.8L91.8 561.9L93.4 562.2L93.4 561.7L92.8 561.3ZM103.8 557.9L102.4 558.5L103.4 559.3L104.9 559.1L104.2 557.9L103.8 557.9ZM108.4 556.3L107.9 557.3L105.6 557.5L107.4 558.2L110.3 557.4L109.4 556.3L108.4 556.3ZM114.8 554.5L115.0 555.2L116.0 555.4L117.2 555.0L114.8 554.5ZM97.3 559.6L95.2 560.3L95.2 560.7L99.6 560.4L99.5 559.9L97.3 559.6ZM112.5 555.0L111.9 555.6L113.8 555.8L114.1 555.4L112.5 555.0ZM121.8 551.9L121.1 552.2L123.4 552.8L124.6 552.2L124.6 551.7L121.8 551.9ZM99.6 559.2L99.4 559.4L100.1 559.2L99.6 559.2ZM119.7 553.1L117.5 553.8L118.1 554.0L119.7 553.1ZM126.6 551.0L126.1 551.2L126.6 551.0Z"/>
<path fill="#73ff8c" d="M149.9 581.7L149.7 582.1L146.0 583.0L144.5 584.0L149.9 582.9L151.0 582.0L149.9 581.7ZM146.5 542.7L143.3 543.3L131.2 547.3L129.6 549.1L131.3 549.1L137.4 552.3L140.6 554.6L145.2 556.5L146.9 558.2L152.8 560.9L153.5 561.8L155.1 562.4L156.1 563.7L157.6 563.8L164.0 567.4L165.9 567.9L166.5 568.9L168.7 569.8L169.5 570.7L176.4 574.1L179.0 574.1L186.1 572.1L192.9 570.0L195.0 568.7L193.4 566.7L189.4 564.0L177.3 557.8L176.6 556.9L170.3 553.8L168.7 552.6L165.7 551.3L161.1 548.3L151.8 543.4L149.0 542.6L146.5 542.7ZM136.5 584.9L135.9 585.7L136.4 586.5L138.2 586.4L139.0 585.6L136.5 584.9ZM140.3 584.0L141.6 584.9L142.9 584.5L140.3 584.0ZM157.8 578.9L158.0 579.6L157.2 580.1L161.5 579.2L161.4 578.7L160.6 578.7L157.8 578.9ZM164.5 576.7L163.4 577.0L164.5 577.8L165.4 577.8L165.7 576.9L164.5 576.7ZM168.5 576.5L167.7 576.8L168.5 576.5ZM151.0 580.5L150.1 581.1L151.6 581.4L152.0 580.5L151.0 580.5ZM147.2 580.7L146.2 581.2L148.3 581.9L148.6 581.5L148.0 580.7L147.2 580.7ZM152.6 580.2L152.4 580.4L153.0 580.4L152.6 580.2ZM133.7 584.5L134.5 584.9L133.7 584.5ZM142.6 579.9L143.2 580.5L143.7 580.3L142.6 579.9ZM131.6 583.3L132.0 583.4L131.6 583.3ZM134.3 582.4L134.7 582.7L134.3 582.4ZM135.7 579.0L135.7 579.4L136.9 579.7L135.7 579.0ZM127.3 579.7L126.7 580.0L127.3 579.7ZM152.1 572.2L151.0 572.5L152.1 572.2ZM140.2 575.0L140.8 575.3L140.2 575.0ZM150.1 572.2L150.4 572.4L150.1 572.2ZM128.2 576.6L127.3 577.6L128.3 577.9L129.7 577.4L128.2 576.6ZM137.5 574.1L138.7 574.7L137.5 574.1ZM144.0 572.4L144.5 572.8L145.1 572.7L144.0 572.4ZM141.7 572.8L142.2 573.0L141.7 572.8ZM126.5 576.3L126.6 576.7L127.3 576.5L126.5 576.3ZM132.9 574.5L132.2 575.0L133.5 574.8L132.9 574.5ZM122.5 576.4L123.2 576.8L122.5 576.4ZM140.0 570.7L139.4 571.1L140.2 571.4L141.1 571.1L140.0 570.7ZM123.4 575.1L122.4 575.8L124.6 575.8L123.4 575.1ZM121.6 575.9L122.3 576.3L122.3 575.8L121.6 575.9ZM130.7 570.9L130.3 571.1L131.6 571.4L130.7 570.9ZM118.5 574.2L118.0 574.5L118.3 574.8L119.8 574.9L119.7 574.4L118.5 574.2ZM125.2 572.5L125.6 572.6L125.2 572.5ZM139.6 567.5L138.9 567.7L140.2 568.1L139.6 567.5ZM124.9 570.6L126.2 571.3L124.9 570.6ZM111.6 573.3L112.4 573.3L111.6 573.3ZM114.5 572.5L114.1 572.8L115.1 572.8L114.5 572.5ZM138.7 564.6L137.9 564.9L139.1 565.1L138.7 564.6ZM136.1 564.3L135.5 564.6L136.9 564.8L136.1 564.3ZM114.2 569.9L114.5 570.1L114.2 569.9ZM130.5 564.2L131.4 564.7L130.5 564.2ZM115.5 568.9L115.2 569.1L115.5 568.9ZM123.4 566.2L124.1 566.6L123.4 566.2ZM133.4 563.4L132.7 563.6L133.7 563.6L133.4 563.4ZM134.9 560.7L134.3 561.0L137.0 561.9L137.7 561.7L134.9 560.7ZM107.9 569.4L107.5 569.8L107.9 570.2L109.0 569.9L107.9 569.4ZM133.6 561.7L133.5 562.4L134.3 562.2L133.6 561.7ZM129.5 561.8L129.7 562.0L129.5 561.8ZM134.4 559.8L135.1 560.2L134.4 559.8ZM130.4 559.9L130.3 560.5L131.9 560.8L130.4 559.9ZM124.7 562.2L125.2 562.4L124.7 562.2ZM111.7 564.4L110.9 564.5L111.0 565.4L112.8 565.6L112.2 564.5L111.7 564.4ZM120.1 561.9L119.8 562.1L120.1 561.9ZM99.9 566.7L100.6 567.5L101.6 567.7L99.9 566.7ZM104.2 566.2L104.7 566.2L104.2 566.2ZM113.2 563.5L112.2 563.5L113.1 564.0L113.7 563.7L113.2 563.5ZM116.6 561.8L117.5 562.3L116.6 561.8ZM102.2 565.6L102.6 565.9L102.2 565.6ZM102.5 564.0L103.1 563.9L102.5 564.0ZM98.6 563.6L96.9 564.2L99.9 564.3L98.6 563.6ZM112.9 559.7L113.6 560.1L112.9 559.7ZM108.9 560.5L106.9 561.1L108.9 560.5ZM100.6 561.7L100.9 561.9L100.6 561.7ZM102.7 560.5L101.1 561.2L103.9 561.2L102.7 560.5ZM106.1 560.1L104.9 560.6L106.4 560.2L106.1 560.1ZM99.0 560.8L98.4 561.5L100.0 561.4L99.0 560.8ZM108.1 558.2L108.6 558.5L108.1 558.2ZM93.8 560.9L95.6 561.9L93.8 560.9ZM98.1 559.7L97.9 560.0L99.3 560.4L98.1 559.7ZM103.0 556.5L102.6 556.9L104.1 557.7L103.9 556.5L103.0 556.5ZM108.6 554.9L108.1 555.2L108.5 556.0L108.0 556.3L110.0 555.7L109.8 555.2L108.6 554.9ZM112.7 554.8L113.2 554.7L112.7 554.8ZM90.2 560.7L91.0 561.1L90.2 560.7ZM97.4 558.2L95.4 559.1L99.1 558.5L97.4 558.2ZM106.0 555.8L107.1 556.4L107.0 556.0L106.0 555.8ZM112.6 553.5L112.1 553.9L113.8 554.0L112.6 553.5ZM123.6 550.2L121.5 550.8L123.3 551.2L124.2 550.5L124.3 550.2L123.6 550.2ZM92.2 560.0L92.5 560.2L92.2 560.0Z"/>
<path fill="#7fff80" d="M146.6 541.2L143.4 541.8L131.3 545.8L131.3 546.4L130.1 547.4L131.5 547.5L137.6 550.6L140.8 553.0L145.3 554.9L147.1 556.6L148.3 556.8L150.4 558.4L152.9 559.3L153.6 560.1L163.2 565.0L164.1 565.8L166.0 566.3L166.6 567.3L168.8 568.2L169.6 569.1L176.6 572.5L178.9 572.5L186.1 570.5L192.8 568.4L194.9 567.1L193.3 565.1L189.3 562.5L184.3 560.1L168.6 551.1L165.6 549.8L160.9 546.8L151.7 541.8L148.9 541.1L146.6 541.2ZM136.9 584.2L136.4 584.4L136.6 584.8L138.0 584.7L138.5 584.3L136.9 584.2ZM146.4 581.7L146.0 582.0L146.9 581.7L146.4 581.7ZM148.9 580.7L147.4 581.5L149.7 581.2L149.9 580.7L148.9 580.7ZM158.1 577.5L158.4 578.1L161.2 577.5L158.1 577.5ZM163.8 575.3L164.7 576.2L165.4 576.0L165.4 575.4L163.8 575.3ZM140.5 582.6L141.7 583.2L141.6 582.7L140.5 582.6ZM151.4 579.1L150.5 579.4L151.4 579.1ZM123.8 573.8L123.0 574.0L123.8 573.8ZM108.0 568.5L108.4 568.5L108.0 568.5ZM100.3 565.4L101.1 565.9L100.3 565.4ZM99.5 559.6L98.8 559.8L99.5 559.6ZM94.1 559.5L95.1 560.0L94.1 559.5ZM98.3 558.3L98.9 558.6L98.3 558.3ZM108.9 553.5L108.4 554.1L109.4 554.4L109.6 553.7L108.9 553.5ZM106.5 554.5L106.8 554.7L106.5 554.5ZM112.7 552.0L112.4 552.3L113.5 552.5L112.7 552.0ZM123.8 548.7L121.9 549.3L123.2 549.6L123.8 548.7ZM95.5 557.3L96.2 557.3L95.5 557.3ZM97.6 556.7L97.2 557.0L98.0 557.0L97.6 556.7ZM103.1 555.0L103.8 555.4L103.1 555.0Z"/>
<path fill="#8cff73" d="M145.9 539.8L131.4 544.3L131.6 544.9L130.6 545.7L137.8 549.0L140.9 551.4L145.0 553.1L147.3 555.0L148.7 555.1L150.5 556.8L153.0 557.7L158.3 561.0L163.4 563.4L164.2 564.2L166.0 564.8L166.7 565.7L168.9 566.7L169.7 567.5L176.8 570.9L178.9 570.9L186.0 568.9L192.8 566.8L194.8 565.5L193.2 563.6L188.5 560.6L184.2 558.6L178.4 555.4L176.4 553.8L165.5 548.3L164.1 547.0L151.6 540.3L148.4 539.5L145.9 539.8ZM137.3 582.8L136.8 583.2L138.0 582.8L137.3 582.8ZM149.1 579.3L147.7 579.8L149.6 579.3L149.1 579.3ZM161.0 575.8L158.5 576.2L159.0 576.5L161.0 575.8ZM164.5 574.2L165.2 574.5L164.5 574.2ZM140.8 581.2L141.3 581.5L140.8 581.2ZM109.3 552.1L108.6 552.4L109.3 552.1ZM103.2 553.5L103.5 553.7L103.2 553.5ZM112.8 550.5L113.2 550.8L112.8 550.5ZM123.1 547.4L122.3 547.7L122.9 547.8L123.5 547.3L123.1 547.4Z"/>
<path fill="#99ff66" d="M145.2 538.5L131.9 542.6L131.3 543.9L132.8 545.1L137.9 547.4L141.1 549.8L148.8 553.5L150.7 555.1L153.8 556.4L158.4 559.4L166.1 563.2L166.8 564.1L169.0 565.1L169.8 565.9L176.9 569.3L178.8 569.3L185.9 567.3L192.7 565.2L194.7 563.9L193.1 562.1L188.4 559.1L178.2 553.9L176.3 552.3L165.4 546.7L164.0 545.5L151.6 538.8L148.5 538.0L145.2 538.5Z"/>
<path fill="#a6ff59" d="M144.3 537.1L132.2 541.0L131.8 541.4L131.8 542.6L141.3 548.2L148.9 551.9L150.8 553.5L153.9 554.8L158.5 557.8L166.1 561.6L169.9 564.3L177.1 567.7L178.7 567.7L185.9 565.7L188.9 564.4L192.7 563.6L194.5 562.3L192.5 560.1L188.3 557.6L178.0 552.4L175.5 550.4L165.3 545.2L163.8 544.0L159.5 542.0L151.5 537.2L148.6 536.5L144.3 537.1Z"/>
<path fill="#b2ff4d" d="M144.4 535.5L132.4 539.5L132.1 541.1L141.4 546.5L149.0 550.3L151.6 552.3L154.0 553.2L158.6 556.3L166.2 560.0L170.1 562.7L177.2 566.1L178.6 566.1L185.8 564.1L188.7 562.8L192.6 562.0L194.4 560.8L192.5 558.6L188.2 556.0L178.0 550.8L175.4 548.9L165.2 543.7L151.4 535.7L148.7 534.9L144.4 535.5Z"/>
<path fill="#bfff40" d="M144.5 534.0L132.5 538.0L132.3 539.4L149.1 548.7L151.7 550.7L157.3 553.4L158.7 554.7L166.3 558.4L170.2 561.1L177.3 564.5L185.8 562.5L188.5 561.1L192.5 560.4L194.2 559.3L192.4 557.1L188.1 554.5L177.9 549.3L175.3 547.3L159.3 538.9L151.3 534.2L148.8 533.4L144.5 534.0Z"/>
<path fill="#ccff33" d="M136.9 534.8L132.6 536.5L132.5 537.8L136.6 540.5L151.1 548.2L151.7 549.1L157.5 551.8L158.8 553.1L166.3 556.9L174.2 561.7L177.4 562.9L178.5 562.9L185.7 560.9L188.4 559.5L191.8 559.0L194.0 557.8L192.3 555.5L151.2 532.6L148.9 531.9L147.0 532.1L136.9 534.8Z"/>
<path fill="#d9ff26" d="M147.1 530.6L137.0 533.2L132.7 535.0L132.5 535.7L136.7 538.9L151.2 546.6L151.8 547.5L154.4 548.4L156.5 550.0L158.0 550.4L158.9 551.5L166.4 555.3L170.4 557.9L177.2 561.2L178.4 561.2L185.6 559.3L188.3 557.9L191.8 557.4L193.9 556.2L192.3 554.0L177.8 546.2L168.8 540.7L159.2 535.8L153.8 532.5L149.4 530.5L147.1 530.6Z"/>
<path fill="#e5ff1a" d="M147.2 529.0L137.1 531.7L133.3 533.2L132.6 534.1L136.8 537.3L151.3 545.0L151.9 545.9L154.5 546.8L156.0 548.0L158.3 549.0L159.0 549.9L166.5 553.7L174.4 558.5L176.9 559.4L178.3 559.6L185.5 557.7L188.9 556.0L191.7 555.8L193.7 554.6L192.2 552.4L177.7 544.7L168.7 539.1L159.1 534.3L153.8 530.9L150.3 529.2L147.2 529.0Z"/>
<path fill="#f2ff0d" d="M145.8 527.9L133.4 531.7L132.9 532.0L132.9 533.0L140.7 537.8L151.4 543.4L152.0 544.4L157.8 547.0L159.0 548.3L163.3 550.3L174.4 556.9L176.9 557.8L178.2 558.0L185.4 556.1L188.7 554.4L191.6 554.2L193.6 552.9L191.9 550.8L177.6 543.1L168.6 537.6L159.0 532.7L153.7 529.4L149.2 527.4L145.8 527.9Z"/>
<path fill="#ffff00" d="M142.9 527.1L133.4 530.1L133.0 530.5L132.9 531.4L174.5 555.3L178.1 556.4L185.2 554.4L189.3 552.5L191.5 552.6L193.4 551.3L191.4 549.0L183.3 544.8L181.8 543.6L169.4 536.9L168.6 536.0L159.6 531.6L151.0 526.5L149.3 525.9L147.4 526.0L142.9 527.1Z"/>
<path fill="#fff200" d="M142.9 525.5L133.5 528.6L133.0 529.9L174.6 553.7L178.0 554.8L185.1 552.8L189.1 550.9L191.5 551.0L193.3 549.6L191.3 547.5L183.2 543.3L181.8 542.1L178.1 540.4L176.0 538.8L169.3 535.3L168.5 534.5L159.5 530.0L150.9 524.9L149.5 524.4L147.5 524.5L144.8 525.4L142.9 525.5Z"/>
<path fill="#ffe600" d="M143.0 524.0L133.6 527.1L133.1 528.3L141.0 533.1L144.0 534.4L145.4 535.6L151.7 538.7L152.9 540.0L158.7 542.6L159.3 543.5L170.7 549.5L174.7 552.1L177.9 553.2L181.6 552.2L182.5 551.5L184.4 551.4L189.0 549.2L191.4 549.4L193.2 548.0L191.2 545.9L183.1 541.8L181.7 540.5L178.0 538.9L176.0 537.3L170.3 534.6L168.4 532.9L159.5 528.5L150.8 523.4L147.6 523.0L145.0 523.9L143.0 524.0Z"/>
<path fill="#ffd900" d="M143.0 522.5L133.6 525.6L133.2 526.7L141.1 531.5L144.7 533.1L145.4 534.0L151.8 537.1L152.9 538.4L158.8 541.0L159.4 541.9L170.8 547.9L174.8 550.5L177.8 551.6L182.1 550.3L182.3 549.9L184.2 549.8L186.8 548.8L188.9 547.6L191.3 547.8L193.1 546.4L191.8 544.8L187.4 542.2L183.0 540.2L181.7 539.0L177.9 537.3L176.5 536.1L170.3 533.0L168.3 531.4L159.4 526.9L150.7 521.8L147.7 521.5L145.1 522.4L143.0 522.5Z"/>
<path fill="#ffcc00" d="M143.1 521.0L133.7 524.0L133.3 525.1L141.2 529.9L144.8 531.5L145.5 532.4L151.8 535.5L153.0 536.8L158.9 539.4L159.5 540.4L170.9 546.3L174.2 548.6L177.7 549.9L181.9 548.7L182.8 548.0L184.0 548.1L186.7 547.2L188.8 546.0L191.3 546.2L193.0 544.8L191.7 543.2L187.4 540.7L182.9 538.7L181.6 537.4L177.9 535.8L176.5 534.6L170.2 531.5L168.2 529.9L158.7 525.0L150.7 520.3L147.8 520.0L145.2 520.9L143.1 521.0Z"/>
<path fill="#ffbf00" d="M147.9 518.5L137.7 521.1L136.8 521.8L133.7 522.5L133.3 523.5L141.3 528.3L144.9 529.9L145.6 530.9L151.9 533.9L153.1 535.2L159.0 537.8L159.6 538.8L171.0 544.7L174.2 547.0L177.4 548.3L181.8 547.1L182.6 546.3L186.6 545.6L188.6 544.3L191.1 544.6L192.9 543.2L191.6 541.7L187.3 539.1L182.8 537.2L181.6 535.9L169.4 529.6L168.1 528.4L158.6 523.5L153.3 520.1L150.0 518.5L147.9 518.5Z"/>
<path fill="#ffb300" d="M143.3 517.9L138.6 519.5L137.8 520.3L133.8 521.0L133.4 521.9L141.3 526.7L145.0 528.3L145.6 529.3L152.0 532.3L153.1 533.6L159.1 536.2L159.7 537.2L171.1 543.1L171.3 543.6L174.3 545.4L177.5 546.7L181.7 545.4L181.8 544.9L183.0 544.4L184.3 544.6L186.6 544.0L188.5 542.7L190.9 542.9L192.8 541.5L191.5 540.2L187.3 537.6L182.8 535.6L181.5 534.3L169.3 528.1L168.0 526.8L150.5 517.2L148.0 517.0L145.4 517.9L143.3 517.9Z"/>
<path fill="#ffa600" d="M143.4 516.4L138.4 518.4L138.4 519.0L133.9 519.4L133.5 520.3L141.4 525.1L145.2 526.7L145.7 527.7L152.0 530.7L153.2 532.0L159.2 534.7L159.8 535.6L171.3 541.5L171.3 542.0L174.4 543.9L177.2 545.0L179.6 544.5L181.5 543.8L181.7 543.3L182.8 542.7L184.2 542.9L186.5 542.4L188.5 541.1L190.7 541.2L192.7 539.9L187.3 536.0L182.7 534.1L181.5 532.8L169.2 526.6L167.8 525.3L157.8 520.1L151.8 516.4L148.1 515.5L144.7 516.6L143.4 516.4Z"/>
<path fill="#ff9900" d="M143.4 514.9L141.2 516.0L140.1 516.0L138.6 517.0L138.7 517.6L133.9 517.9L133.6 518.7L141.5 523.5L145.3 525.1L145.8 526.1L152.1 529.2L153.4 530.4L159.3 533.1L159.9 534.0L171.4 539.9L171.4 540.4L174.5 542.3L176.9 543.2L179.5 542.9L181.4 542.2L182.5 541.0L184.1 541.3L186.4 540.8L188.4 539.5L190.5 539.5L192.6 538.4L190.3 536.3L187.2 534.5L182.6 532.6L181.4 531.2L177.6 529.6L176.3 528.4L168.3 524.7L168.3 524.2L167.1 523.4L157.7 518.5L151.8 514.8L148.2 514.0L144.9 515.1L143.4 514.9Z"/>
<path fill="#ff8c00" d="M143.5 513.4L141.4 514.6L139.9 514.7L138.8 515.5L139.1 516.3L134.8 516.2L134.0 516.4L133.7 517.1L141.6 521.9L145.4 523.5L145.8 524.5L151.5 527.2L153.5 528.8L159.4 531.5L160.0 532.4L171.5 538.3L172.0 539.3L174.6 540.7L177.1 541.6L179.4 541.3L181.3 540.6L182.3 539.3L183.9 539.6L186.3 539.2L187.7 538.3L186.5 538.1L190.3 537.8L192.4 536.9L191.0 536.2L191.1 535.6L190.2 534.8L188.0 533.8L187.2 532.9L182.5 531.0L181.4 529.7L177.5 528.1L176.3 526.8L174.4 526.3L171.4 524.4L168.3 523.2L168.2 522.6L157.6 517.0L151.7 513.3L148.3 512.5L145.1 513.7L143.5 513.4Z"/>
<path fill="#ff8000" d="M143.6 511.9L141.6 513.1L140.3 513.0L139.3 513.7L139.1 513.9L140.2 514.7L138.4 514.9L138.1 515.3L136.9 514.6L134.6 514.8L134.0 514.9L133.8 515.5L137.8 518.2L145.6 521.9L145.9 522.9L151.6 525.6L157.0 529.0L159.4 529.9L160.1 530.8L168.5 535.4L171.7 536.7L171.5 537.3L172.0 537.7L174.7 539.1L177.7 539.9L181.2 538.9L182.2 537.7L183.8 538.0L186.2 537.6L187.5 536.8L186.2 536.4L190.2 536.2L192.1 535.4L190.7 534.7L191.0 534.1L190.1 533.2L187.9 532.2L187.1 531.4L182.3 529.5L181.3 528.2L177.4 526.6L176.2 525.3L174.2 524.8L171.4 522.9L168.2 521.6L168.1 521.1L163.8 519.1L161.2 517.1L159.4 516.6L151.6 511.7L148.5 511.0L145.2 512.2L143.6 511.9Z"/>
<path fill="#ff7300" d="M143.7 510.4L141.7 511.6L139.5 512.2L140.4 513.1L138.6 513.5L138.6 514.1L136.6 513.1L134.1 513.3L133.9 513.9L141.8 518.7L145.8 520.3L146.0 521.4L151.6 524.1L157.1 527.4L159.5 528.3L160.2 529.2L164.6 531.7L166.8 532.7L168.2 532.8L168.0 533.5L171.9 535.0L171.6 535.5L172.1 536.1L174.8 537.5L177.6 538.3L181.1 537.3L182.1 536.1L184.1 536.3L187.3 535.3L185.8 535.2L186.0 534.7L190.0 534.5L191.8 533.9L190.6 533.2L190.9 532.7L190.4 532.1L187.8 530.7L187.1 529.8L182.8 528.1L182.8 528.7L182.0 528.6L182.2 527.8L181.3 526.6L177.4 525.0L176.2 523.7L174.1 523.3L171.3 521.3L168.1 520.1L168.0 519.6L166.2 519.0L165.4 518.1L163.6 517.6L163.5 517.1L161.1 515.6L157.3 514.0L151.6 510.2L148.6 509.5L145.4 510.7L143.7 510.4Z"/>
<path fill="#ff6600" d="M144.3 509.1L143.2 509.1L143.1 509.7L139.7 510.7L140.6 511.5L138.1 512.8L138.2 513.5L137.6 513.1L137.7 512.3L136.3 511.6L134.3 511.9L134.0 512.4L141.9 517.1L145.9 518.7L146.1 519.8L151.7 522.5L155.8 525.1L159.6 526.7L160.3 527.6L163.2 528.9L164.7 530.1L166.9 531.1L168.5 531.2L168.2 531.8L168.6 532.3L172.6 533.3L171.7 534.1L174.9 535.9L178.1 536.5L181.0 535.7L182.0 534.4L186.0 534.3L186.7 533.9L185.7 533.7L185.8 533.0L188.1 533.1L191.2 532.5L190.4 531.4L190.8 531.0L187.7 529.2L187.0 528.3L183.1 526.7L183.1 527.3L182.3 527.5L181.6 527.1L182.1 526.1L181.2 525.1L177.3 523.5L176.1 522.2L174.0 521.7L172.5 520.5L168.0 518.6L167.9 518.1L166.0 517.5L165.3 516.6L163.4 516.1L163.4 515.5L161.1 514.0L157.1 512.5L151.5 508.7L148.8 508.1L146.5 508.6L145.6 509.2L144.3 509.1ZM174.5 533.8L176.5 533.7L178.7 534.7L177.0 534.7L174.5 533.8ZM188.9 530.5L188.6 530.4L188.9 530.5ZM181.4 531.7L182.7 531.9L182.5 532.3L181.1 531.6L181.4 531.7ZM175.4 531.3L177.4 531.2L177.3 532.4L174.4 531.4L175.4 531.3ZM184.2 529.7L184.9 530.1L183.6 529.9L184.2 529.7ZM187.2 529.3L186.5 529.2L187.2 529.3ZM176.8 529.7L176.1 530.0L176.8 529.7ZM172.5 526.6L171.9 526.8L172.5 526.6ZM165.7 527.6L166.5 527.9L165.4 527.7L165.7 527.6ZM168.0 526.9L168.6 527.5L167.2 527.7L167.0 527.2L168.0 526.9ZM164.8 523.4L166.0 524.3L164.5 524.1L164.4 523.6L164.8 523.4ZM166.6 522.9L165.7 523.2L166.6 522.9ZM164.6 517.4L163.5 517.5L164.6 517.4ZM148.0 514.7L147.7 514.8L148.0 514.7ZM150.3 510.7L151.0 511.1L150.3 510.7ZM145.6 511.6L146.3 512.0L144.8 511.8L145.6 511.6Z"/>
<path fill="#ff5900" d="M135.3 510.3L134.4 510.4L134.4 511.2L142.0 515.6L146.1 517.1L146.1 518.2L151.8 520.9L155.9 523.5L159.8 525.1L160.4 526.0L164.8 528.5L167.0 529.5L168.8 529.5L168.7 530.7L172.8 531.6L171.8 532.5L175.0 534.3L177.1 534.9L180.3 534.3L181.8 532.8L186.0 532.7L186.2 532.5L184.5 531.9L185.7 531.4L188.0 531.5L191.0 530.8L190.4 530.1L190.5 529.3L187.6 527.6L187.0 526.7L183.3 525.3L183.3 525.9L182.2 526.0L181.4 525.4L181.9 524.5L181.1 523.5L177.1 522.0L176.1 520.6L173.8 520.2L173.1 519.3L168.0 517.0L167.8 516.5L165.8 516.0L165.2 515.1L163.2 514.6L163.3 514.0L161.0 512.5L156.9 511.0L154.6 508.9L151.4 507.1L148.9 506.6L146.6 507.1L146.0 507.9L144.7 507.8L145.1 509.2L144.6 509.2L144.1 508.2L143.3 508.2L139.8 509.2L140.7 509.8L139.6 510.9L138.3 511.4L138.6 512.1L137.3 511.5L137.6 511.0L137.1 510.4L135.3 510.3ZM174.6 532.2L176.6 532.1L179.0 533.1L178.8 533.5L176.9 533.2L174.2 532.1L174.6 532.2ZM181.6 530.1L182.8 530.2L182.7 530.9L180.7 529.8L181.6 530.1ZM189.2 528.8L188.5 529.0L188.3 528.7L189.2 528.8ZM174.0 529.6L177.2 529.6L177.9 530.1L177.1 530.9L174.0 530.1L174.0 529.6ZM183.0 527.9L185.0 528.6L184.6 529.0L183.9 528.8L182.7 528.0L183.0 527.9ZM186.3 527.5L187.5 527.7L186.5 528.0L186.3 527.5ZM172.9 530.5L172.2 530.4L172.9 530.5ZM180.9 526.9L181.7 527.3L180.9 527.5L180.9 526.9ZM177.0 528.1L176.0 528.4L177.0 528.1ZM179.2 524.7L178.7 524.8L179.2 524.7ZM168.5 525.2L169.0 526.1L165.0 526.3L165.2 525.8L166.8 526.2L166.8 525.6L168.5 525.2ZM169.8 524.8L172.7 525.3L170.2 525.2L169.8 524.8ZM170.0 522.5L170.7 523.0L169.2 522.7L170.0 522.5ZM168.1 522.5L169.2 522.7L168.1 523.1L167.8 522.6L168.1 522.5ZM166.8 521.3L165.9 522.1L166.2 522.9L165.0 522.9L164.0 522.2L164.2 521.7L166.8 521.3ZM170.2 519.1L171.6 519.2L170.2 519.1ZM163.7 520.6L163.0 520.5L163.7 520.6ZM159.8 520.6L159.2 520.8L159.8 520.6ZM161.6 519.0L161.1 519.1L161.6 519.0ZM154.8 520.5L154.4 520.4L154.8 520.5ZM151.6 519.8L151.1 519.7L151.6 519.8ZM163.9 515.5L164.8 515.8L164.0 516.2L163.1 515.7L163.9 515.5ZM159.9 516.2L159.5 516.1L159.9 516.2ZM149.1 517.8L148.6 517.8L149.1 517.8ZM155.7 514.7L155.6 515.1L155.0 514.9L155.7 514.7ZM148.2 513.1L147.2 513.4L147.3 512.8L148.2 513.1ZM150.5 509.0L151.1 509.6L149.7 509.3L149.9 508.9L150.5 509.0ZM145.8 510.0L146.7 510.7L144.6 510.3L145.1 509.8L145.8 510.0ZM143.5 507.7L144.0 508.0L143.5 507.7Z"/>
<path fill="#ff4d00" d="M134.6 508.9L134.5 509.6L137.6 511.5L142.8 514.3L146.4 515.4L146.2 516.6L156.0 521.9L160.0 523.5L160.6 524.4L164.9 527.0L167.1 527.9L169.0 527.9L168.8 529.1L173.0 530.0L172.0 530.5L171.9 531.1L175.2 532.7L176.9 532.7L177.1 533.2L180.1 532.6L181.7 531.2L185.9 531.1L184.2 530.5L185.6 529.8L188.0 529.9L190.8 529.1L190.1 527.5L188.5 526.4L186.3 526.5L185.9 525.8L187.4 526.0L186.9 525.2L181.4 524.1L181.7 522.8L180.9 522.0L176.9 520.5L176.0 519.1L173.7 518.7L173.0 517.8L167.9 515.5L167.7 515.0L163.5 514.6L162.8 514.0L163.7 513.4L162.7 512.1L156.8 509.5L154.5 507.4L151.3 505.6L149.1 505.1L146.7 505.6L146.0 506.1L146.5 506.6L145.1 506.5L145.2 507.7L144.7 508.0L143.5 506.7L140.0 507.8L141.9 508.2L139.9 508.9L139.9 509.5L138.6 509.9L138.8 510.7L137.5 510.4L136.9 508.9L134.6 508.9ZM174.7 530.6L176.8 530.5L179.5 531.7L179.0 532.0L176.8 531.6L173.9 530.4L174.7 530.6ZM181.0 528.1L182.9 528.6L182.8 529.4L180.5 528.3L181.0 528.1ZM188.3 527.0L189.4 527.2L188.4 527.5L188.0 527.1L188.3 527.0ZM183.4 526.3L185.1 526.8L184.9 527.6L183.5 527.9L183.9 527.6L183.7 527.3L182.6 526.5L183.4 526.3ZM174.2 528.0L177.1 528.0L178.3 528.4L177.4 529.4L176.9 529.4L173.5 528.7L173.2 528.3L174.2 528.0ZM171.9 528.7L173.2 528.9L173.0 529.3L171.9 528.7ZM181.1 525.3L181.8 525.8L180.7 526.0L180.7 525.2L181.1 525.3ZM177.1 526.5L176.3 526.9L175.8 526.7L177.1 526.5ZM183.5 523.8L184.2 524.2L183.5 523.8ZM176.3 524.5L178.9 524.9L178.4 525.2L176.3 524.5ZM179.5 523.0L179.5 523.3L178.2 523.4L179.5 523.0ZM165.0 524.1L166.5 524.5L167.2 523.6L168.7 523.5L168.8 524.1L169.4 524.5L166.5 525.0L163.6 524.6L164.6 524.6L165.0 524.1ZM170.0 523.2L172.9 523.4L172.9 523.8L169.3 523.4L170.0 523.2ZM168.3 520.9L170.1 520.9L170.9 521.6L167.8 521.6L167.6 520.9L168.3 520.9ZM166.9 519.7L166.1 520.6L166.5 521.4L164.9 521.4L163.8 520.6L164.0 520.0L166.9 519.7ZM169.8 518.8L169.2 519.0L169.8 518.8ZM167.8 518.8L166.9 518.7L167.8 518.8ZM169.7 517.1L171.8 517.6L170.0 517.6L169.4 517.1L169.7 517.1ZM163.9 518.9L163.7 519.3L162.8 518.8L163.9 518.9ZM160.1 519.0L160.4 519.2L158.9 519.3L159.6 518.8L160.1 519.0ZM161.7 517.4L162.1 517.8L160.5 517.5L161.7 517.4ZM154.6 518.4L155.2 518.8L155.1 519.2L153.9 518.6L154.6 518.4ZM150.8 518.0L151.9 518.6L150.8 518.0ZM164.1 513.5L165.2 514.2L165.0 513.6L164.1 513.5ZM158.5 515.6L158.0 515.8L158.5 515.6ZM160.0 514.6L159.3 514.4L160.0 514.6ZM149.2 516.2L149.4 516.6L148.5 516.1L149.2 516.2ZM155.9 513.0L155.8 513.7L154.9 513.4L155.4 512.8L155.9 513.0ZM151.7 514.3L152.2 514.6L151.7 514.3ZM154.1 511.4L153.7 511.3L154.1 511.4ZM147.4 511.2L148.3 511.5L146.6 512.0L147.4 511.2ZM146.0 508.3L148.1 509.4L144.5 508.8L144.9 508.1L146.0 508.3ZM149.8 507.2L150.8 507.4L151.3 508.1L149.5 507.8L149.2 507.6L149.8 507.2Z"/>
<path fill="#ff4000" d="M179.3 530.7L179.9 531.0L180.2 530.7L179.3 530.7ZM146.9 504.1L146.3 504.4L146.7 505.2L145.4 505.1L145.2 506.5L148.3 507.9L145.0 507.6L144.4 507.3L144.7 506.6L143.6 505.3L141.9 505.8L142.1 506.8L139.9 507.5L140.2 508.0L141.5 508.1L140.3 508.7L138.8 508.5L138.9 509.2L136.2 508.9L142.9 512.7L147.0 513.7L146.2 514.5L146.3 515.0L154.6 519.1L156.1 520.3L160.9 522.2L160.7 522.8L166.3 526.1L169.1 526.3L168.9 527.5L174.8 529.0L176.9 528.9L180.8 530.3L181.6 529.5L184.1 529.8L184.2 528.6L185.4 528.1L187.9 528.3L190.6 527.4L189.8 526.1L187.7 525.6L189.1 525.4L188.4 524.8L186.0 525.0L184.7 524.3L184.5 523.2L181.3 522.6L181.3 520.9L176.8 519.0L175.9 517.6L173.6 517.2L172.9 516.8L172.9 516.3L167.5 513.5L163.3 513.1L162.5 512.3L163.5 511.9L162.6 510.5L160.5 510.1L160.8 509.4L156.6 507.9L154.4 505.8L152.7 505.3L151.2 504.0L149.3 503.7L146.9 504.1ZM173.0 528.9L172.1 529.0L172.3 529.8L175.4 531.0L178.3 531.3L178.6 530.9L177.9 530.3L173.0 528.9ZM181.2 526.5L183.0 527.0L182.9 527.9L182.1 527.9L180.4 526.7L181.2 526.5ZM183.6 524.6L185.3 525.2L184.8 526.5L182.7 526.0L183.5 525.9L182.4 525.0L182.5 524.7L183.6 524.6ZM174.3 526.4L178.7 526.7L177.5 527.9L174.4 527.3L173.2 527.8L172.0 527.6L171.8 527.2L173.0 527.1L173.1 526.6L174.3 526.4ZM185.5 523.4L185.3 524.1L187.1 524.3L186.8 523.7L185.5 523.4ZM179.0 525.5L178.6 525.5L179.0 525.5ZM181.2 523.7L181.9 524.3L180.6 524.5L180.4 523.5L181.2 523.7ZM176.3 524.7L177.3 524.9L175.8 525.4L176.3 524.7ZM177.4 522.1L176.7 522.9L179.3 523.5L175.5 523.2L175.5 522.6L177.4 522.1ZM170.4 524.8L169.7 524.7L170.4 524.8ZM179.7 521.4L179.7 521.9L178.0 521.9L178.7 521.3L179.7 521.4ZM167.1 521.9L169.0 521.9L169.1 522.6L170.1 522.5L169.0 521.9L169.3 521.5L173.2 521.9L173.1 522.4L170.8 522.3L170.5 522.7L166.6 523.5L163.2 523.1L164.6 522.4L166.3 522.8L167.1 521.9ZM165.4 518.0L167.0 518.1L167.2 518.5L166.3 519.2L166.8 519.8L167.5 519.8L167.5 519.2L169.5 519.2L171.0 519.6L171.1 520.1L165.8 520.1L163.7 519.1L163.7 518.3L165.4 518.0ZM161.8 521.4L160.9 521.6L161.8 521.4ZM173.5 517.7L173.0 517.9L173.5 517.7ZM167.0 517.0L170.1 517.1L169.8 517.5L167.6 517.5L166.4 516.9L167.0 517.0ZM169.9 515.5L172.0 516.0L171.9 516.3L170.6 516.2L169.1 515.4L169.9 515.5ZM162.9 517.1L164.1 517.4L163.9 517.8L162.9 517.7L162.9 517.1ZM159.5 517.1L160.8 517.8L158.6 517.9L159.5 517.1ZM159.7 515.3L162.8 516.0L160.6 516.2L159.4 515.4L159.7 515.3ZM154.8 516.8L155.5 517.3L155.4 517.8L153.6 516.9L154.8 516.8ZM151.1 516.3L152.0 516.6L152.1 517.2L150.6 516.3L151.1 516.3ZM161.1 514.3L160.7 514.5L161.1 514.3ZM158.7 514.0L157.7 514.3L158.7 514.0ZM160.1 513.0L159.3 513.2L159.2 512.8L160.1 513.0ZM149.4 514.6L149.6 515.2L148.3 514.5L149.4 514.6ZM158.0 512.0L157.6 511.9L158.0 512.0ZM152.1 512.7L152.6 513.3L151.8 513.3L151.5 512.7L152.1 512.7ZM152.8 510.2L155.9 510.9L156.2 512.0L154.8 511.8L155.0 511.2L154.5 510.8L152.4 510.3L152.8 510.2ZM154.3 509.8L153.6 510.0L153.5 509.6L154.3 509.8ZM147.5 509.6L148.5 509.9L148.3 510.3L146.3 510.6L146.7 509.9L147.5 509.6ZM151.8 507.7L151.3 507.8L151.8 507.7ZM143.3 509.3L142.6 509.5L143.3 509.3ZM144.9 508.2L143.6 508.6L144.9 508.2ZM150.4 505.4L151.4 506.7L148.9 505.9L150.4 505.4ZM134.9 507.5L134.6 508.0L137.3 508.9L137.0 507.9L134.9 507.5ZM136.7 507.3L136.3 507.5L136.7 507.3Z"/>
<path fill="#ff3300" d="M147.0 502.6L146.9 503.7L145.8 503.7L145.6 504.8L148.5 506.1L148.5 506.4L145.6 506.4L144.3 505.7L144.6 505.1L143.6 504.3L142.3 504.2L142.4 505.4L140.0 505.9L140.4 506.4L142.3 506.5L140.6 507.4L139.0 507.1L139.1 507.7L136.8 507.6L142.1 510.3L143.0 511.1L147.2 512.1L146.5 513.4L158.5 519.7L160.3 520.2L161.4 519.6L165.7 520.9L166.8 520.3L168.8 520.2L169.1 519.8L173.2 520.2L173.3 520.9L171.0 520.9L171.0 521.4L166.7 522.0L163.0 521.7L163.0 522.2L166.4 524.5L170.0 525.0L169.0 525.9L171.0 526.2L171.9 526.1L171.5 525.3L173.0 524.9L177.8 524.8L178.8 525.1L177.6 526.4L173.6 526.7L175.0 527.4L177.0 527.3L180.7 528.7L181.5 527.9L184.0 528.1L184.0 527.0L185.3 526.5L187.8 526.7L190.2 525.6L189.5 524.6L187.7 524.6L187.3 524.0L188.7 523.6L188.3 523.3L185.7 523.5L184.5 522.8L184.2 521.8L181.8 521.4L180.9 520.6L177.7 521.0L181.3 522.1L182.0 522.8L180.4 522.9L180.1 522.5L175.3 521.7L175.3 520.9L177.7 520.4L178.5 519.7L180.2 519.7L180.0 520.3L180.9 520.4L181.2 519.4L176.6 517.4L175.8 516.0L172.7 515.3L172.9 514.7L172.2 514.4L172.0 514.8L170.8 514.8L167.6 513.6L170.5 514.0L167.4 511.9L165.3 511.7L165.1 512.2L163.2 511.6L162.2 510.8L163.2 510.5L162.5 509.0L160.3 508.6L158.3 507.0L155.8 506.1L154.3 504.3L152.3 503.8L151.2 502.5L149.5 502.2L147.0 502.6ZM173.1 527.4L172.2 527.5L172.3 528.1L175.6 529.4L178.3 529.1L173.1 527.4ZM181.5 524.8L183.1 525.5L183.0 526.4L182.0 526.4L180.2 525.2L180.3 524.9L181.5 524.8ZM183.8 523.0L185.4 523.6L185.0 525.1L182.5 524.5L182.4 523.1L183.8 523.0ZM171.9 526.1L172.8 526.6L171.9 526.1ZM185.7 521.9L185.7 522.4L186.9 522.6L185.7 521.9ZM179.4 523.8L179.0 524.1L178.5 523.8L179.4 523.8ZM176.5 523.0L177.4 523.3L177.2 523.7L175.6 523.9L175.5 523.4L176.5 523.0ZM170.0 522.8L170.7 523.2L170.6 523.6L168.6 523.3L170.0 522.8ZM173.1 521.8L172.6 522.0L173.1 521.8ZM169.5 520.6L169.8 520.8L169.5 520.6ZM161.5 520.3L161.5 520.9L160.9 521.1L161.9 521.7L164.2 520.7L161.5 520.3ZM163.1 515.5L164.4 515.7L164.1 516.3L167.1 516.5L167.4 517.1L166.4 517.7L167.2 518.1L167.3 517.6L169.4 517.6L171.5 518.5L164.7 518.3L163.5 517.6L163.6 516.4L162.7 516.2L162.5 515.5L163.1 515.5ZM174.3 517.1L174.8 517.6L173.0 517.2L173.4 516.8L174.3 517.1ZM173.6 516.1L173.9 516.5L172.6 516.5L172.8 515.9L173.6 516.1ZM166.2 515.1L170.4 515.8L167.1 515.9L166.2 515.1ZM158.6 518.0L160.1 518.3L158.6 518.0ZM159.7 515.4L160.9 516.4L158.5 516.4L158.8 515.2L159.7 515.4ZM158.2 513.7L163.0 514.4L162.5 514.9L160.4 514.6L158.2 513.7ZM165.8 513.6L165.3 513.5L165.8 513.6ZM154.9 515.2L155.7 515.8L155.7 516.4L153.4 515.1L154.9 515.2ZM151.5 514.6L152.5 514.9L152.3 515.7L151.5 515.7L150.4 514.7L151.5 514.6ZM161.3 512.7L160.3 513.0L160.5 512.5L161.3 512.7ZM158.8 512.4L158.7 512.8L157.5 512.8L157.9 512.3L158.8 512.4ZM159.2 511.1L160.2 511.4L160.1 511.7L159.2 511.7L159.2 511.1ZM149.1 512.6L149.9 513.8L149.6 514.2L148.1 512.9L149.1 512.6ZM154.5 512.0L153.9 512.2L153.8 511.8L154.5 512.0ZM153.1 508.6L156.1 509.3L156.6 510.3L158.2 510.3L158.1 510.6L156.5 510.3L155.4 510.6L154.7 510.3L154.3 509.3L152.2 508.8L153.1 508.6ZM152.4 511.0L152.9 511.9L151.4 511.9L151.3 511.0L152.4 511.0ZM160.6 507.8L160.0 508.1L160.6 507.8ZM153.4 507.9L154.5 508.1L153.4 508.5L153.4 507.9ZM147.7 508.0L148.6 508.3L148.4 508.8L146.9 509.1L145.1 508.8L147.7 508.0ZM150.5 503.8L151.5 504.6L151.7 505.7L152.2 506.1L151.9 506.5L151.0 506.1L151.4 505.2L148.6 504.4L150.5 503.8ZM145.3 506.5L145.2 507.0L142.2 508.0L143.1 507.6L143.0 506.9L145.3 506.5ZM135.2 506.2L134.7 506.4L137.0 507.2L136.7 506.4L135.2 506.2ZM142.9 503.9L142.4 504.1L143.6 504.3L142.9 503.9Z"/>
<path fill="#ff2600" d="M149.7 500.8L147.1 501.1L147.9 502.2L146.0 502.3L145.7 503.2L149.4 504.8L150.8 504.3L150.8 503.8L148.3 502.9L148.5 502.5L150.6 502.2L151.4 502.5L152.5 504.4L152.1 505.1L153.0 505.6L150.4 504.7L146.6 505.0L142.9 506.8L143.2 507.2L141.9 506.5L142.9 505.9L142.6 505.2L141.7 505.2L140.9 506.0L137.5 506.4L141.7 508.3L143.0 509.6L147.4 510.4L146.6 511.8L150.5 513.9L151.1 514.1L150.2 513.0L155.0 513.6L155.9 515.0L152.9 513.7L152.2 514.5L153.9 515.7L155.1 515.8L156.3 517.1L158.6 518.1L161.2 517.9L165.4 519.1L169.3 518.1L174.0 518.9L173.4 519.5L171.4 519.5L171.3 520.0L168.2 520.1L166.2 520.8L163.2 520.3L165.2 522.2L167.2 523.1L169.1 523.0L169.3 522.6L169.1 522.1L167.5 521.5L170.9 521.0L171.3 522.0L169.7 522.2L169.5 523.1L170.2 523.6L169.4 523.8L169.1 524.3L170.9 524.6L171.6 524.4L171.4 523.7L173.7 523.2L179.0 523.5L177.7 524.9L174.0 525.1L174.2 525.5L177.1 525.7L180.5 527.0L181.3 526.3L183.9 526.5L183.6 526.0L184.3 525.0L186.0 524.7L187.7 525.1L189.8 524.0L189.3 523.1L186.8 523.3L187.1 522.6L185.6 522.1L185.7 523.3L185.2 523.6L182.3 523.0L181.7 522.1L182.3 521.4L185.1 521.8L183.6 520.4L181.7 519.9L180.7 519.1L178.1 519.7L180.7 520.2L182.1 520.9L182.1 521.3L180.3 521.4L179.1 520.8L177.3 522.2L175.5 522.3L175.8 521.4L177.1 521.5L177.6 520.6L175.1 520.2L175.1 519.2L177.4 518.7L178.8 517.7L180.5 517.5L176.8 516.0L176.8 516.6L176.3 516.5L176.1 514.9L174.9 514.3L173.5 514.1L175.1 516.2L173.0 515.9L172.3 515.0L172.2 513.4L169.6 513.0L167.2 512.1L167.2 511.8L170.0 512.2L167.3 510.4L166.5 510.2L165.3 510.7L163.1 510.0L162.0 509.3L162.0 508.9L162.9 508.8L162.4 507.5L160.2 507.1L159.2 506.2L157.3 505.7L158.2 505.6L155.7 504.6L154.2 502.8L152.1 502.3L151.0 501.0L149.7 500.8ZM172.3 526.0L172.4 526.6L175.1 527.5L176.7 527.3L173.3 525.9L172.3 526.0ZM181.7 523.2L183.2 523.9L183.6 524.5L181.6 524.9L180.1 523.7L180.2 523.2L181.7 523.2ZM188.1 521.7L187.5 522.0L188.5 521.9L188.1 521.7ZM185.9 520.5L185.8 520.8L186.7 521.0L185.9 520.5ZM179.6 522.2L179.1 522.7L178.3 522.2L179.6 522.2ZM180.2 518.5L180.9 518.5L180.2 518.5ZM173.3 520.2L172.4 520.5L173.3 520.2ZM162.0 519.0L161.8 519.9L163.6 519.3L162.0 519.0ZM163.4 513.8L164.6 514.0L164.5 514.6L167.2 514.9L167.6 515.9L169.2 515.9L169.3 515.3L169.3 515.9L171.9 516.8L170.7 517.1L165.4 517.1L163.8 516.5L163.1 515.0L162.3 514.7L162.3 513.8L163.4 513.8ZM164.8 517.9L164.1 518.1L164.8 517.9ZM166.5 513.4L170.5 513.9L170.8 514.4L167.8 514.5L165.0 513.9L166.5 513.4ZM159.1 516.3L160.4 516.9L158.0 516.2L159.1 516.3ZM159.0 513.5L161.2 514.5L160.3 515.1L157.3 514.6L158.6 514.1L158.4 513.4L159.0 513.5ZM160.4 510.9L162.6 511.3L160.5 511.6L160.3 512.0L163.3 512.8L163.1 513.1L162.7 513.4L160.3 513.1L158.6 512.3L157.2 512.4L159.0 512.0L160.4 510.9ZM165.1 511.6L166.2 511.9L166.0 512.3L165.2 512.2L165.1 511.6ZM159.0 510.8L158.9 511.3L157.4 511.2L157.8 510.7L159.0 510.8ZM152.3 512.3L152.5 512.5L151.6 512.0L152.3 512.3ZM154.1 506.2L154.6 506.5L154.4 507.0L153.4 507.0L153.7 507.4L156.3 507.7L157.3 508.5L158.9 508.9L160.1 508.7L159.2 509.1L160.3 509.8L160.2 510.2L159.1 510.2L159.0 509.1L155.3 509.1L154.1 507.8L152.0 507.3L152.2 506.9L153.2 506.9L153.1 506.3L154.1 506.2ZM149.3 510.9L150.2 512.3L149.9 512.8L148.9 512.7L149.2 512.1L147.9 511.4L147.8 511.1L149.3 510.9ZM151.1 509.3L152.9 509.3L154.7 510.4L153.8 510.8L151.2 510.4L151.1 509.3ZM158.0 507.7L157.3 507.9L158.0 507.7ZM146.8 509.0L146.2 509.0L146.8 509.0ZM147.8 506.4L148.8 506.9L147.1 507.7L144.9 507.3L147.8 506.4ZM142.6 502.7L142.6 503.9L140.3 504.5L142.7 504.7L142.9 505.1L144.4 505.0L144.4 503.6L142.6 502.7ZM135.6 504.8L135.6 505.2L136.8 505.4L136.5 504.9L135.6 504.8Z"/>
<path fill="#ff1a00" d="M179.1 522.3L177.8 523.3L174.2 523.7L174.9 524.1L177.4 524.1L180.4 525.4L180.5 524.8L181.2 524.6L183.8 524.9L183.4 524.4L183.8 523.8L183.2 523.4L181.3 523.4L180.6 522.6L179.1 522.3ZM163.5 518.9L165.3 520.6L167.1 521.5L169.0 521.1L167.1 519.7L169.5 519.3L171.1 519.3L171.7 520.5L169.7 521.2L171.1 522.0L176.5 521.4L179.8 522.1L180.3 521.5L180.1 521.0L178.5 521.0L178.1 520.5L178.8 520.3L183.3 522.3L183.8 522.7L183.7 523.3L186.3 523.0L187.6 523.5L189.0 523.1L189.7 522.3L189.2 521.5L188.3 521.5L187.1 522.0L183.6 522.2L181.3 520.7L182.0 519.9L179.5 520.1L180.0 519.8L179.3 519.4L178.7 519.7L178.8 520.3L175.4 520.8L175.2 520.3L175.6 519.7L176.8 519.8L177.2 519.1L174.9 519.3L174.1 518.4L174.9 518.1L174.8 517.7L171.7 518.1L171.5 518.6L168.0 518.7L166.6 519.4L163.5 518.9ZM172.3 524.4L172.5 525.0L174.9 525.4L175.1 525.9L176.1 525.9L176.4 525.5L172.3 524.4ZM180.2 524.3L180.3 524.7L179.7 524.5L180.2 524.3ZM186.1 520.8L186.0 521.4L186.8 521.2L186.1 520.8ZM186.0 519.0L186.6 519.3L186.0 519.0ZM181.8 518.4L181.2 518.7L182.6 519.7L184.1 519.7L183.4 518.9L181.8 518.4ZM170.5 522.2L169.5 522.3L169.2 522.7L171.3 522.7L170.5 522.2ZM180.3 517.6L178.6 518.2L180.6 518.3L181.0 517.9L180.3 517.6ZM173.6 518.6L173.4 519.1L171.8 518.7L173.6 518.6ZM157.7 513.3L156.6 513.2L156.6 513.8L160.3 514.9L161.1 516.3L165.1 517.4L169.7 516.4L175.6 517.3L177.1 516.9L178.1 515.7L179.0 515.7L178.3 514.9L177.0 514.5L177.2 515.2L176.3 515.3L171.1 513.8L172.2 513.6L171.9 513.0L170.4 513.2L165.0 512.6L168.3 513.8L169.7 513.7L172.2 515.1L171.5 515.6L167.0 515.5L165.8 516.0L163.2 514.6L162.9 513.5L157.7 513.3ZM177.1 515.8L176.4 516.0L177.1 515.8ZM165.0 516.2L163.9 516.6L163.9 516.1L165.0 516.2ZM173.7 512.7L174.5 513.3L176.0 513.4L173.7 512.7ZM155.4 514.3L156.4 515.6L158.5 516.0L158.8 516.5L160.2 516.5L160.1 515.5L155.4 514.3ZM161.4 509.9L160.7 510.3L162.3 511.0L164.2 510.9L163.0 511.9L163.6 512.2L164.7 512.4L164.8 511.9L166.7 511.7L170.6 512.3L172.0 512.9L172.3 512.5L172.0 511.9L166.9 510.7L165.0 511.2L163.6 510.0L161.4 509.9ZM158.7 511.4L160.6 512.6L162.4 512.9L162.3 512.0L158.7 511.4ZM153.2 512.5L152.6 512.8L153.3 513.7L156.4 514.3L156.5 513.8L153.2 512.5ZM160.8 507.2L159.5 507.7L160.4 508.2L159.8 509.0L163.6 509.4L163.7 510.0L169.4 510.3L166.8 508.8L165.5 509.2L163.8 508.8L161.6 507.3L160.8 507.2ZM148.3 499.6L147.3 499.7L148.4 500.8L150.0 500.5L151.5 500.9L152.7 502.8L152.3 503.5L153.2 504.2L150.7 503.4L150.5 504.0L146.8 503.6L143.9 505.0L143.2 506.3L144.5 506.4L145.0 506.1L144.8 505.4L146.9 504.8L149.1 505.4L147.3 506.2L141.9 506.2L142.2 506.9L143.4 507.6L144.9 507.4L144.4 508.1L145.1 508.5L149.0 508.9L150.8 508.8L150.9 507.6L153.2 507.6L154.0 508.5L155.0 508.7L154.8 509.2L152.0 508.9L149.3 509.1L150.7 510.6L150.2 511.3L151.9 511.2L151.0 510.6L151.8 510.3L153.1 511.6L155.1 512.0L156.0 512.9L157.9 512.8L158.3 512.2L157.8 511.2L156.9 510.9L157.1 510.5L158.7 510.2L158.7 509.8L157.3 509.7L157.2 509.4L158.7 509.0L158.5 507.7L155.2 507.6L153.9 506.3L151.9 505.8L152.1 505.3L153.0 505.2L153.0 504.6L153.6 504.4L155.1 504.8L155.2 505.3L153.9 505.7L158.1 506.1L157.6 506.8L159.6 507.2L160.6 506.5L162.6 507.0L162.0 506.6L162.2 506.0L160.7 505.9L159.1 504.7L156.0 504.0L157.0 503.7L154.9 502.7L154.0 501.3L151.8 500.8L151.5 499.8L150.0 499.4L149.8 499.8L148.3 499.6ZM148.9 511.3L150.8 512.4L150.0 511.4L148.9 511.3ZM147.3 509.8L146.7 510.2L148.6 511.1L149.0 510.8L147.3 509.8ZM151.1 506.6L149.9 507.0L151.1 506.6ZM145.9 507.1L147.6 507.1L147.7 507.6L145.2 507.3L145.9 507.1ZM138.4 504.8L137.8 505.1L141.0 506.3L142.3 505.8L141.6 504.5L138.4 504.8ZM147.5 500.9L146.3 500.9L145.9 501.6L148.2 502.5L150.5 502.6L147.9 501.5L148.2 500.9L147.5 500.9ZM141.8 503.7L141.5 504.0L142.8 504.3L141.8 503.7ZM142.8 501.3L142.9 503.0L144.3 503.3L144.0 502.5L144.3 502.1L142.8 501.3ZM141.1 502.8L140.8 503.1L142.0 502.8L141.1 502.8ZM135.8 503.4L136.4 503.7L135.8 503.4Z"/>
<path fill="#ff0d00" d="M182.4 522.0L181.4 522.0L181.3 522.4L183.4 523.1L183.7 522.3L182.4 522.0ZM188.4 520.0L186.8 520.8L187.0 521.8L189.3 521.1L189.5 520.5L188.4 520.0ZM175.2 523.9L175.3 524.3L176.2 524.0L175.2 523.9ZM179.2 520.8L178.0 521.9L176.2 522.3L177.7 522.4L179.6 523.4L179.4 522.6L180.8 522.3L180.5 521.0L179.2 520.8ZM185.9 520.9L184.1 521.1L184.2 521.5L186.4 521.2L185.9 520.9ZM172.4 522.9L172.7 523.4L174.0 523.6L173.8 523.1L172.4 522.9ZM182.2 520.1L183.2 520.6L182.2 520.1ZM175.0 522.0L174.4 522.2L175.6 522.3L175.0 522.0ZM170.2 516.9L167.7 517.3L167.3 517.9L171.4 517.7L172.0 518.6L173.1 518.8L169.9 519.7L170.8 520.2L176.2 519.7L179.6 520.2L179.4 519.7L177.5 519.2L175.2 519.3L175.0 518.8L175.5 518.1L174.7 517.8L171.7 517.6L171.4 517.1L170.2 516.9ZM179.9 518.8L181.2 519.5L179.9 518.8ZM186.1 517.5L186.4 517.7L186.1 517.5ZM181.9 516.9L181.7 517.3L183.8 518.0L181.9 516.9ZM169.6 520.7L169.4 521.1L170.7 521.3L170.5 520.7L169.6 520.7ZM179.4 517.9L179.1 518.1L179.7 518.1L179.4 517.9ZM175.7 517.6L175.6 518.1L176.6 518.1L176.8 517.7L175.7 517.6ZM164.8 517.4L163.7 517.4L165.9 519.4L166.9 519.8L168.8 519.7L168.5 519.1L164.8 517.4ZM179.6 516.2L179.3 516.4L179.9 516.4L179.6 516.2ZM172.9 516.6L172.2 516.9L173.2 516.8L172.9 516.6ZM170.0 512.0L172.5 513.5L170.9 514.3L166.3 514.1L165.9 514.9L167.6 515.4L170.2 514.7L175.5 515.7L177.0 515.3L177.1 514.8L175.1 513.2L170.0 512.0ZM177.2 513.1L177.4 513.6L178.7 513.9L177.2 513.1ZM164.9 515.1L164.0 515.2L165.1 515.7L166.3 515.4L164.9 515.1ZM175.2 511.4L174.9 511.6L175.7 511.6L175.2 511.4ZM156.8 511.8L156.8 512.2L157.6 512.5L161.2 513.6L161.3 514.7L163.7 515.0L163.7 514.5L165.0 514.6L165.0 514.1L163.1 513.0L162.7 512.0L156.8 511.8ZM173.9 511.2L174.5 511.6L173.9 511.2ZM155.7 512.9L156.5 514.0L160.0 514.8L159.6 514.1L155.7 512.9ZM169.1 511.5L168.1 511.5L168.1 512.1L170.0 512.0L169.1 511.5ZM170.9 510.7L171.6 511.1L171.9 510.9L170.9 510.7ZM171.2 510.3L170.8 510.7L172.0 510.8L171.2 510.3ZM167.5 509.4L165.4 510.1L170.7 510.6L167.5 509.4ZM160.3 510.1L160.7 511.0L162.2 511.2L162.0 510.6L160.3 510.1ZM163.4 510.1L164.5 510.7L164.6 510.3L163.4 510.1ZM163.9 507.4L164.3 508.2L169.1 508.5L163.9 507.4ZM153.5 511.1L152.7 511.3L153.4 512.1L155.9 512.5L155.7 512.0L153.5 511.1ZM148.0 502.1L144.6 503.2L144.6 503.7L148.2 503.2L149.3 504.0L147.5 504.8L144.0 505.2L144.7 505.6L148.2 505.4L147.9 506.2L144.7 506.2L144.6 506.5L148.8 507.3L150.3 506.9L150.7 505.9L151.5 505.8L149.7 505.5L150.1 505.0L152.6 505.2L152.4 505.8L155.2 507.1L155.0 507.8L152.1 507.4L151.0 507.9L149.8 507.8L150.3 508.6L152.1 508.6L153.3 509.9L155.2 510.5L156.2 511.3L157.8 511.2L158.0 510.7L157.2 510.2L157.3 509.8L156.4 509.5L156.9 508.8L158.0 508.5L157.1 508.2L156.8 507.0L158.3 507.3L158.8 506.9L158.3 506.2L154.7 506.2L153.7 504.8L151.7 504.3L151.8 503.7L152.7 503.5L153.1 502.8L151.7 502.1L151.0 502.0L151.1 502.6L150.2 502.7L148.0 502.1ZM161.5 508.4L161.1 508.6L162.4 509.3L163.8 509.1L161.5 508.4ZM160.5 506.1L160.3 507.2L160.7 507.7L162.7 507.3L162.5 506.5L160.5 506.1ZM149.2 509.9L150.5 510.6L149.2 509.9ZM151.3 509.3L150.6 509.7L151.3 509.3ZM148.6 509.0L147.7 509.1L148.4 509.5L148.9 509.1L148.6 509.0ZM157.9 502.9L155.7 503.4L156.0 504.1L158.3 504.5L158.4 504.9L157.8 505.2L160.2 505.3L160.1 504.5L159.0 503.7L159.0 503.2L157.9 502.9ZM161.7 504.3L161.4 504.7L162.2 504.7L161.7 504.3ZM151.7 499.4L152.4 500.8L153.3 501.0L152.4 501.9L153.3 502.2L153.5 502.7L156.5 503.2L155.8 502.5L154.6 502.3L155.1 501.6L153.9 499.8L151.7 499.4ZM142.7 505.0L142.6 505.4L143.6 505.5L143.7 505.1L142.7 505.0ZM143.8 503.9L144.3 504.2L144.6 503.7L143.8 503.9ZM140.4 503.2L139.6 503.6L140.4 504.5L142.0 504.1L141.1 503.1L140.4 503.2ZM149.3 500.4L148.4 500.5L148.5 500.9L150.1 500.8L149.3 500.4ZM142.0 502.3L142.3 502.5L142.0 502.3ZM143.1 501.1L144.2 501.6L143.1 501.1ZM147.5 498.2L148.8 499.1L151.5 499.3L151.4 498.3L150.5 498.0L150.0 498.4L147.5 498.2ZM143.2 500.6L144.0 500.6L143.2 500.6ZM146.4 499.4L146.1 499.9L147.5 500.0L147.6 499.5L146.4 499.4ZM143.2 500.0L144.0 500.4L143.2 500.0Z"/>
<path fill="#ff0000" d="M188.5 518.5L186.9 519.4L187.1 520.2L189.1 519.6L189.4 518.9L188.5 518.5ZM181.6 520.5L182.0 521.2L183.1 521.4L183.6 520.7L181.6 520.5ZM175.4 522.4L176.0 522.5L175.4 522.4ZM184.5 519.8L185.1 519.7L184.5 519.8ZM178.1 521.0L178.8 521.4L178.9 521.0L178.1 521.0ZM178.7 520.1L178.2 520.7L180.2 520.7L178.7 520.1ZM172.6 521.5L173.6 522.0L173.6 521.6L172.6 521.5ZM179.4 519.3L178.6 520.0L180.5 519.9L180.4 519.5L179.4 519.3ZM182.4 518.6L183.0 518.9L182.4 518.6ZM177.7 517.7L176.8 517.9L177.0 518.3L179.2 518.6L179.2 518.2L177.7 517.7ZM182.1 515.4L183.5 516.2L182.1 515.4ZM169.7 519.2L169.5 519.5L170.4 519.6L170.4 519.2L169.7 519.2ZM172.8 516.2L172.2 516.5L172.3 517.0L173.4 517.2L173.2 517.6L172.2 517.7L172.0 518.1L170.3 517.8L170.0 518.2L171.7 518.6L172.0 518.2L175.4 518.2L174.5 517.4L175.2 516.6L172.8 516.2ZM175.9 516.2L175.8 516.4L176.6 516.2L175.9 516.2ZM163.9 516.0L166.6 518.2L168.5 518.0L165.5 516.3L163.9 516.0ZM169.4 515.5L167.7 516.2L171.3 516.0L169.4 515.5ZM172.7 511.4L172.8 512.0L170.6 513.2L170.9 513.5L175.4 514.1L176.9 513.7L177.0 513.3L174.9 511.7L172.7 511.4ZM177.4 511.6L177.5 512.0L178.5 512.2L177.4 511.6ZM165.0 513.6L165.4 514.1L166.1 513.9L165.0 513.6ZM166.4 512.6L166.1 513.3L166.6 513.7L170.2 513.0L166.4 512.6ZM170.9 511.0L171.7 511.4L170.9 511.0ZM157.0 510.3L159.5 511.5L161.1 511.5L161.5 512.0L161.4 513.1L163.4 513.3L163.6 512.8L164.9 512.9L162.9 511.5L162.5 510.5L157.0 510.3ZM155.9 511.5L156.6 512.4L159.8 513.1L157.9 511.9L155.9 511.5ZM169.2 510.0L168.2 510.1L168.2 510.4L169.6 510.2L169.2 510.0ZM171.3 508.8L171.8 509.1L171.3 508.8ZM167.7 508.0L167.8 508.9L169.4 508.9L169.2 508.5L167.7 508.0ZM160.5 508.7L160.8 509.4L162.1 509.6L161.9 509.1L160.5 508.7ZM163.6 508.7L164.3 509.1L163.6 508.7ZM153.6 509.6L152.8 509.8L152.9 510.2L154.2 510.9L155.7 510.8L153.6 509.6ZM166.8 506.3L166.5 506.5L167.9 506.9L166.8 506.3ZM152.3 505.9L151.2 506.5L149.9 506.3L150.4 507.0L152.3 507.0L153.5 508.3L156.4 509.6L157.7 509.5L157.9 509.2L156.1 508.1L156.1 507.5L154.8 507.3L156.8 507.2L157.0 506.7L152.3 505.9ZM161.6 506.9L162.6 507.7L163.4 507.5L161.6 506.9ZM164.2 506.0L164.6 506.2L164.2 506.0ZM160.9 504.8L160.8 506.1L162.4 505.6L162.4 505.0L160.9 504.8ZM155.3 504.6L154.5 504.7L154.4 505.3L156.3 506.3L156.6 505.3L158.1 505.6L158.6 505.3L158.2 504.6L155.3 504.6ZM148.0 507.7L148.4 507.7L148.0 507.7ZM158.3 501.5L156.1 502.1L156.2 502.5L158.5 502.9L159.0 503.8L160.0 503.6L159.5 502.6L158.5 502.2L158.8 501.7L158.3 501.5ZM150.6 501.4L149.4 501.3L148.9 501.6L149.4 502.5L147.7 503.3L146.5 503.3L146.8 503.7L150.7 503.2L152.8 503.5L152.7 504.1L154.0 504.5L153.5 503.3L151.3 502.4L152.5 501.8L152.6 501.4L150.6 501.4ZM148.5 503.8L148.1 504.7L147.2 504.8L147.3 505.2L148.7 505.7L150.2 505.3L150.6 504.2L148.5 503.8ZM144.9 504.7L145.5 505.2L146.1 505.0L144.9 504.7ZM153.6 500.7L154.6 501.3L155.6 501.2L153.6 500.7ZM143.0 503.6L143.4 503.7L143.0 503.6ZM153.1 499.8L152.5 500.3L154.5 500.6L154.7 500.2L153.1 499.8ZM151.3 500.6L151.7 500.8L151.3 500.6ZM147.1 500.6L145.0 502.0L149.3 501.2L149.0 500.8L147.1 500.6ZM140.5 501.7L140.1 502.0L140.5 502.9L141.6 502.5L140.5 501.7ZM151.9 497.9L152.6 499.1L154.0 499.1L153.7 498.2L151.9 497.9ZM143.3 499.7L143.8 499.9L143.3 499.7ZM147.7 496.8L149.3 497.4L151.2 497.5L151.4 497.0L150.6 496.6L150.2 496.9L147.7 496.8ZM146.5 497.9L146.2 498.3L147.4 498.4L147.4 498.0L146.5 497.9Z"/>
<path fill="#f20000" d="M188.2 517.3L187.1 517.9L187.2 518.6L188.9 518.1L189.0 517.5L188.2 517.3ZM181.8 519.1L182.9 519.7L183.4 519.2L181.8 519.1ZM188.6 517.0L188.1 517.2L189.1 517.2L188.6 517.0ZM172.8 520.0L173.4 520.4L172.8 520.0ZM179.5 517.8L178.8 518.4L180.4 518.3L179.5 517.8ZM177.8 516.3L177.0 516.4L177.1 516.7L179.0 516.9L177.8 516.3ZM169.7 517.7L170.3 518.0L169.7 517.7ZM172.3 516.2L172.2 516.5L173.1 516.8L174.9 516.4L172.3 516.2ZM182.2 514.0L182.8 514.3L182.2 514.0ZM170.5 516.3L170.3 516.6L171.0 516.9L171.7 516.7L170.5 516.3ZM173.9 514.7L173.0 514.7L172.6 515.3L174.6 515.7L175.0 515.1L173.9 514.7ZM164.1 514.5L166.1 516.2L168.3 516.3L164.1 514.5ZM169.5 514.0L168.0 514.5L171.0 514.2L169.5 514.0ZM172.9 509.9L173.1 510.6L171.0 511.9L175.3 512.4L176.8 512.1L174.8 510.2L172.9 509.9ZM177.5 510.1L178.3 510.6L177.5 510.1ZM165.5 512.3L165.8 512.4L165.5 512.3ZM167.4 511.0L166.6 511.1L166.3 511.7L167.3 512.2L169.1 511.4L167.4 511.0ZM162.0 509.8L161.5 511.5L164.7 511.3L162.0 509.8ZM168.4 508.6L169.2 508.6L168.4 508.6ZM159.6 509.0L158.6 509.1L158.8 509.6L160.2 510.0L162.7 509.5L162.3 509.0L159.6 509.0ZM156.1 510.0L156.7 510.8L157.5 510.8L157.8 510.4L156.1 510.0ZM167.9 506.5L167.9 507.3L169.2 507.3L167.9 506.5ZM157.2 508.8L157.9 509.2L157.2 508.8ZM160.6 507.2L160.9 507.8L161.9 507.9L161.8 507.5L160.6 507.2ZM153.7 508.1L153.0 508.6L154.4 509.3L155.6 509.2L153.7 508.1ZM150.1 504.9L150.6 505.4L152.4 505.4L153.6 506.7L155.5 507.2L156.5 508.0L157.8 507.7L155.9 506.6L155.8 506.0L154.7 505.8L156.6 505.6L156.8 505.2L156.1 504.9L150.1 504.9ZM161.8 505.5L163.2 506.0L161.8 505.5ZM161.3 504.0L161.0 504.4L161.9 504.2L161.3 504.0ZM161.2 503.4L161.1 503.8L162.2 503.9L162.3 503.5L161.2 503.4ZM155.5 504.3L156.1 504.3L155.5 504.3ZM157.4 503.0L156.4 503.6L158.5 503.6L157.4 503.0ZM155.4 503.1L154.6 503.6L156.1 504.1L156.1 503.2L155.4 503.1ZM158.8 501.4L159.6 501.9L158.8 501.4ZM148.7 502.3L148.3 503.3L147.4 503.6L148.5 504.0L148.6 503.4L150.1 503.7L150.3 502.7L148.7 502.3ZM153.0 502.3L153.5 502.6L153.6 502.3L153.0 502.3ZM156.4 500.6L157.1 501.2L158.5 501.2L158.3 500.8L156.4 500.6ZM152.7 501.6L153.7 502.1L152.7 501.6ZM149.7 499.9L149.9 500.6L147.9 501.8L152.1 501.9L152.5 501.5L151.0 500.8L152.4 499.9L149.7 499.9ZM153.2 498.3L152.7 498.7L154.4 498.7L153.2 498.3ZM147.3 499.1L145.7 500.2L148.8 499.4L147.3 499.1ZM152.0 496.4L152.8 497.5L153.7 497.4L153.5 496.7L152.0 496.4ZM146.7 496.4L146.5 496.7L147.2 496.7L146.7 496.4ZM150.8 495.1L150.3 495.5L151.3 495.4L150.8 495.1ZM148.8 495.2L148.5 495.5L149.5 495.6L148.8 495.2Z"/>
<path fill="#e60000" d="M187.9 516.2L187.3 516.4L187.5 516.9L188.7 516.6L188.5 516.1L187.9 516.2ZM183.0 517.6L182.1 517.7L182.7 518.1L183.3 517.8L183.0 517.6ZM172.9 518.5L173.2 518.7L172.9 518.5ZM179.6 516.3L179.0 516.8L180.2 516.6L179.6 516.3ZM177.9 514.8L177.1 514.9L178.8 515.3L177.9 514.8ZM169.8 516.2L170.1 516.3L169.8 516.2ZM172.5 514.7L173.3 515.2L174.5 514.8L172.5 514.7ZM170.6 514.8L171.4 515.2L170.6 514.8ZM174.1 513.2L172.9 513.7L174.5 514.0L174.8 513.6L174.1 513.2ZM166.1 514.1L166.3 514.6L167.8 514.7L166.1 514.1ZM169.5 512.4L169.9 512.6L169.5 512.4ZM172.0 509.6L171.3 510.3L175.1 510.8L176.8 510.2L174.7 509.4L174.3 509.7L172.0 509.6ZM177.7 508.7L178.1 508.9L177.7 508.7ZM173.0 508.4L173.3 509.1L174.8 508.9L173.0 508.4ZM167.5 509.5L166.7 509.7L166.9 510.5L168.9 509.9L167.5 509.5ZM162.4 508.4L161.7 509.9L164.6 509.7L162.4 508.4ZM168.6 507.1L168.9 507.1L168.6 507.1ZM156.2 508.6L156.8 509.2L157.6 508.9L156.2 508.6ZM159.8 507.6L158.8 507.6L160.1 508.3L161.1 507.8L159.8 507.6ZM161.8 507.5L161.4 507.8L162.3 507.8L161.8 507.5ZM168.2 505.1L168.0 505.7L169.1 505.6L168.2 505.1ZM160.8 505.8L161.8 506.3L160.8 505.8ZM153.9 506.6L153.1 507.0L154.5 507.7L155.5 507.5L153.9 506.6ZM150.2 503.4L150.7 503.8L152.6 503.8L153.8 505.1L156.0 505.5L156.7 506.4L157.6 506.1L154.5 504.0L156.7 503.7L150.2 503.4ZM161.9 504.0L162.9 504.5L161.9 504.0ZM161.4 501.9L162.0 502.2L161.4 501.9ZM157.5 501.5L156.8 502.0L158.3 501.9L157.5 501.5ZM155.6 501.6L154.8 502.0L156.1 501.9L155.6 501.6ZM147.5 501.9L148.5 502.3L147.5 501.9ZM148.9 500.8L148.6 501.7L149.9 502.0L150.1 501.2L148.9 500.8ZM157.9 499.3L157.3 499.6L157.9 499.3ZM156.6 499.2L157.2 499.5L156.6 499.2ZM150.4 499.3L148.1 500.2L152.1 500.0L150.4 499.3ZM151.9 498.4L150.1 498.6L150.9 499.0L151.9 498.4ZM153.4 496.8L153.1 497.0L154.2 497.2L153.4 496.8ZM147.3 498.2L147.7 498.1L147.3 498.2ZM152.2 494.9L152.5 495.5L153.5 495.7L153.4 495.2L152.2 494.9ZM146.8 494.9L147.1 495.1L146.8 494.9Z"/>
<path fill="#d90000" d="M183.1 516.1L182.4 516.3L183.1 516.1ZM179.8 514.8L179.3 515.1L180.1 515.0L179.8 514.8ZM177.2 513.4L178.1 513.3L177.2 513.4ZM172.6 513.2L173.1 513.5L172.6 513.2ZM173.3 511.8L173.9 512.3L174.5 512.2L173.3 511.8ZM166.4 512.7L167.1 513.1L166.4 512.7ZM172.2 508.2L171.6 508.6L175.2 509.2L176.6 508.7L175.1 508.0L174.0 508.4L172.2 508.2ZM173.2 507.0L173.6 507.4L174.4 507.2L173.2 507.0ZM167.6 508.0L166.9 508.2L167.1 508.9L168.7 508.4L167.6 508.0ZM162.7 507.0L161.9 508.3L164.5 508.0L162.7 507.0ZM156.4 507.1L157.4 507.4L156.4 507.1ZM159.0 506.1L160.0 506.6L159.8 506.1L159.0 506.1ZM168.6 503.8L168.1 504.1L168.9 504.0L168.6 503.8ZM161.1 504.3L161.6 504.6L161.1 504.3ZM154.7 505.5L154.8 506.0L155.3 505.9L154.7 505.5ZM153.1 505.3L154.5 506.0L154.6 505.5L153.1 505.3ZM156.3 504.1L157.5 504.7L156.3 504.1ZM162.1 502.5L162.6 502.8L162.1 502.5ZM152.2 501.8L153.3 503.1L155.0 503.9L155.9 503.8L154.3 502.3L156.5 502.1L152.2 501.8ZM157.6 500.0L157.1 500.3L158.1 500.3L157.6 500.0ZM155.7 500.1L154.9 500.4L155.7 500.1ZM149.0 499.4L148.9 500.0L149.8 500.4L150.0 499.7L149.0 499.4ZM149.8 498.0L148.2 498.6L150.2 498.0L149.8 498.0ZM152.4 493.5L153.3 494.0L152.4 493.5Z"/>
<path fill="#cc0000" d="M173.4 510.3L174.3 510.7L173.4 510.3ZM175.0 507.0L174.2 507.1L175.6 507.5L176.5 507.2L175.0 507.0ZM173.7 505.7L174.0 505.7L173.7 505.7ZM167.7 506.5L167.0 506.8L167.5 507.2L168.5 506.9L167.7 506.5ZM163.0 505.7L162.3 506.6L164.0 506.2L163.0 505.7ZM156.9 505.8L157.2 505.9L156.9 505.8ZM159.2 504.7L159.5 504.9L159.2 504.7ZM153.2 503.8L154.1 504.3L153.2 503.8ZM156.6 502.6L157.4 503.1L156.6 502.6ZM152.7 500.4L154.1 501.9L155.6 502.1L152.7 500.4ZM156.0 500.5L156.3 500.6L156.0 500.5ZM149.4 498.0L149.8 498.3L149.4 498.0ZM149.2 496.7L148.4 497.0L149.6 496.6L149.2 496.7ZM152.8 492.1L153.0 492.3L152.8 492.1Z"/><g stroke="#666" stroke-width="0.6" fill="none"><path d="M44.7 613.4V488.4"/><path d="M44.7 613.4l-2.4 -1.4"/><path d="M44.7 588.4l-2.4 -1.4"/><path d="M44.7 563.4l-2.4 -1.4"/><path d="M44.7 538.4l-2.4 -1.4"/><path d="M44.7 513.4l-2.4 -1.4"/><path d="M44.7 488.4l-2.4 -1.4"/></g>
<defs><filter id="bl1" x="-20%" y="-20%" width="140%" height="140%"><feGaussianBlur stdDeviation="0.7"/></filter><filter id="bl2" x="-20%" y="-20%" width="140%" height="140%"><feGaussianBlur stdDeviation="1.0"/></filter><linearGradient id="gb" x1="0" x2="1" y1="0" y2="0"><stop offset="0" stop-color="#0000dc"/><stop offset="0.6" stop-color="#0000e6"/><stop offset="0.8" stop-color="#0000ff"/><stop offset="1" stop-color="#0000ff"/></linearGradient><filter id="spr" x="0" y="0" width="100%" height="100%"><feTurbulence type="fractalNoise" baseFrequency="0.75" numOctaves="2" seed="4"/><feColorMatrix type="matrix" values="0 0 0 0 0.97  2.0 0 0 0 -0.72  0 0 0 0 0.08  0 0 0 0 1"/><feComposite operator="in" in2="SourceGraphic"/></filter><filter id="spc" x="0" y="0" width="100%" height="100%"><feTurbulence type="fractalNoise" baseFrequency="0.75" numOctaves="2" seed="9"/><feColorMatrix type="matrix" values="1.5 0 0 0 -0.3  0 0 0 0 0.95  0 0 0 0 0.95  0 0 0 0 1"/><feComposite operator="in" in2="SourceGraphic"/></filter></defs><rect x="376" y="86.7" width="90.6" height="79.2" fill="#0000ff"/><g filter="url(#bl1)"><path fill="#00c8ff" d="M420.5 106.0H426.7v1.6H420.5ZM412.8 107.5H432.2v1.6H412.8ZM408.7 109.0H434.8v1.6H408.7ZM407.6 110.5H436.9v1.6H407.6ZM405.6 112.0H440.1v1.6H405.6ZM406.0 113.5H441.7v1.6H406.0ZM403.1 115.0H440.4v1.6H403.1ZM400.4 116.5H440.9v1.6H400.4ZM400.0 118.0H443.8v1.6H400.0ZM399.8 119.5H441.6v1.6H399.8ZM401.8 121.0H443.2v1.6H401.8ZM398.4 122.5H442.4v1.6H398.4ZM398.4 124.0H443.6v1.6H398.4ZM401.0 125.5H442.7v1.6H401.0ZM399.3 127.0H443.4v1.6H399.3ZM401.8 128.5H445.1v1.6H401.8ZM401.7 130.0H445.3v1.6H401.7ZM401.5 131.5H444.4v1.6H401.5ZM402.7 133.0H442.9v1.6H402.7ZM401.2 134.5H442.3v1.6H401.2ZM401.9 136.0H440.4v1.6H401.9ZM404.9 137.5H438.5v1.6H404.9ZM406.4 139.0H438.1v1.6H406.4ZM408.9 140.5H437.4v1.6H408.9ZM411.3 142.0H432.6v1.6H411.3ZM412.1 143.5H429.3v1.6H412.1ZM419.4 145.0H425.3v1.6H419.4Z"/><path fill="#30ffd0" d="M420.0 107.5H424.8v1.6H420.0ZM412.6 109.0H431.0v1.6H412.6ZM410.6 110.5H433.8v1.6H410.6ZM408.3 112.0H437.3v1.6H408.3ZM408.2 113.5H439.1v1.6H408.2ZM405.3 115.0H438.2v1.6H405.3ZM402.7 116.5H438.9v1.6H402.7ZM402.1 118.0H441.7v1.6H402.1ZM401.9 119.5H439.8v1.6H401.9ZM403.5 121.0H441.4v1.6H403.5ZM400.5 122.5H440.7v1.6H400.5ZM400.4 124.0H441.7v1.6H400.4ZM402.7 125.5H441.0v1.6H402.7ZM401.2 127.0H441.6v1.6H401.2ZM403.5 128.5H443.1v1.6H403.5ZM403.5 130.0H443.2v1.6H403.5ZM403.3 131.5H442.3v1.6H403.3ZM404.6 133.0H440.8v1.6H404.6ZM403.4 134.5H440.1v1.6H403.4ZM404.2 136.0H438.2v1.6H404.2ZM407.2 137.5H436.2v1.6H407.2ZM409.0 139.0H435.4v1.6H409.0ZM411.8 140.5H434.3v1.6H411.8ZM415.0 142.0H428.9v1.6H415.0Z"/><path fill="#ffff00" d="M418.3 109.0H425.3v1.6H418.3ZM413.9 110.5H430.5v1.6H413.9ZM410.9 112.0H434.5v1.6H410.9ZM410.4 113.5H436.5v1.6H410.4ZM407.5 115.0H436.1v1.6H407.5ZM404.9 116.5H436.9v1.6H404.9ZM404.3 118.0H439.5v1.6H404.3ZM403.9 119.5H438.0v1.6H403.9ZM405.3 121.0H439.5v1.6H405.3ZM402.5 122.5H439.0v1.6H402.5ZM402.4 124.0H439.9v1.6H402.4ZM404.5 125.5H439.3v1.6H404.5ZM403.1 127.0H439.8v1.6H403.1ZM405.2 128.5H441.1v1.6H405.2ZM405.3 130.0H441.1v1.6H405.3ZM405.2 131.5H440.2v1.6H405.2ZM406.4 133.0H438.8v1.6H406.4ZM405.6 134.5H438.0v1.6H405.6ZM406.6 136.0H436.0v1.6H406.6ZM409.5 137.5H433.9v1.6H409.5ZM411.6 139.0H432.8v1.6H411.6ZM415.0 140.5H430.9v1.6H415.0ZM421.3 142.0H422.6v1.6H421.3Z"/><path fill="#ff7000" d="M415.0 112.0H430.7v1.6H415.0ZM413.3 113.5H433.5v1.6H413.3ZM410.4 115.0H433.9v1.6H410.4ZM408.0 116.5H435.0v1.6H408.0ZM407.1 118.0H437.4v1.6H407.1ZM406.5 119.5H436.5v1.6H406.5ZM407.3 121.0H437.8v1.6H407.3ZM405.1 122.5H437.6v1.6H405.1ZM405.0 124.0H438.4v1.6H405.0ZM406.4 125.5H437.9v1.6H406.4ZM405.5 127.0H438.4v1.6H405.5ZM407.1 128.5H439.3v1.6H407.1ZM407.3 130.0H439.1v1.6H407.3ZM407.4 131.5H438.3v1.6H407.4ZM408.6 133.0H436.9v1.6H408.6ZM408.3 134.5H436.0v1.6H408.3ZM409.5 136.0H434.0v1.6H409.5ZM412.4 137.5H431.8v1.6H412.4ZM415.1 139.0H429.7v1.6H415.1ZM421.4 140.5H424.6v1.6H421.4Z"/><path fill="#ff0000" d="M417.3 112.0H428.6v1.6H417.3ZM414.8 113.5H432.0v1.6H414.8ZM411.8 115.0H432.9v1.6H411.8ZM409.5 116.5H434.2v1.6H409.5ZM408.5 118.0H436.4v1.6H408.5ZM407.8 119.5H435.9v1.6H407.8ZM408.4 121.0H437.1v1.6H408.4ZM406.5 122.5H437.0v1.6H406.5ZM406.3 124.0H437.7v1.6H406.3ZM407.5 125.5H437.3v1.6H407.5ZM406.7 127.0H437.7v1.6H406.7ZM408.1 128.5H438.4v1.6H408.1ZM408.3 130.0H438.2v1.6H408.3ZM408.6 131.5H437.3v1.6H408.6ZM409.7 133.0H436.0v1.6H409.7ZM409.7 134.5H435.0v1.6H409.7ZM411.1 136.0H433.0v1.6H411.1ZM414.0 137.5H430.6v1.6H414.0ZM417.3 139.0H427.9v1.6H417.3Z"/></g><rect x="327.1" y="297.3" width="189" height="96.2" fill="url(#gb)"/><g filter="url(#bl1)"><path fill="#00c0ff" d="M352.5 327.2H477.5a10 11 0 0 1 10 11V348.1a10 11 0 0 1-10 11H352.5a2.5 2.5 0 0 1-2.5-2.5V329.7a2.5 2.5 0 0 1 2.5-2.5Z"/><path fill="#00f0ff" d="M353.5 328.2H477.5a9 10 0 0 1 9 10V348.1a9 10 0 0 1-9 10H353.5a2.5 2.5 0 0 1-2.5-2.5V330.7a2.5 2.5 0 0 1 2.5-2.5Z"/><rect x="442.3" y="330" width="43.8" height="25" rx="9.5" ry="10.5" fill="#60ffa0"/><rect x="443.6" y="331.3" width="41.2" height="22.4" rx="8.5" ry="9.5" fill="#ffff00"/><rect x="446.5" y="335.6" width="33" height="14.5" rx="4" ry="5" fill="#ff8000"/><rect x="447.9" y="337" width="29.8" height="11.7" rx="3" ry="4" fill="#ff0800"/></g><rect x="326.2" y="535.4" width="190" height="81.3" fill="#0000f4"/><g filter="url(#bl1)"><path fill="#00b8ff" d="M352 550H440l3-1.8H483a6.5 6.5 0 0 1 6.5 6.5V594.8a6.5 6.5 0 0 1-6.5 6.5H443l-3-1.8H352a1.5 1.5 0 0 1-1.5-1.5V551.5a1.5 1.5 0 0 1 1.5-1.5Z"/><path fill="#00f4ff" d="M353 551H440l3-1.8H482.5a6 6 0 0 1 6 6V594.3a6 6 0 0 1-6 6H443l-3-1.8H353a1.5 1.5 0 0 1-1.5-1.5V552.5a1.5 1.5 0 0 1 1.5-1.5Z"/><rect x="355" y="553.5" width="88" height="43" rx="2" fill="#74f2f2"/><rect x="443.5" y="551.2" width="43.4" height="47.3" rx="5" fill="#60ffa0"/><rect x="445" y="552.7" width="40.4" height="44.3" rx="4" fill="#ffff00"/><rect x="447.3" y="554.4" width="32.6" height="39.8" rx="2" fill="#ffa000"/><rect x="448.5" y="555.6" width="30.2" height="37.4" rx="1.5" fill="#f6501c"/></g><rect x="355.5" y="554" width="87" height="42" rx="2" fill="#74f2f2" filter="url(#spc)"/><rect x="449" y="556.1" width="29.2" height="36.4" rx="1.5" fill="#f6501c" filter="url(#spr)"/>
<text x="17.2" y="25.4" font-family='"Liberation Serif", serif' font-size="24.6" text-anchor="start" fill="#000" font-weight="bold">(a)</text><text x="16.8" y="251.5" font-family='"Liberation Serif", serif' font-size="24.6" text-anchor="start" fill="#000" font-weight="bold">(b)</text><text x="17.4" y="466.8" font-family='"Liberation Serif", serif' font-size="24.6" text-anchor="start" fill="#000" font-weight="bold">(c)</text><text x="171.8" y="15.6" font-family='"Liberation Serif", serif' font-size="20" text-anchor="middle" fill="#000" font-weight="bold">3D view</text><text x="416.6" y="16.2" font-family='"Liberation Serif", serif' font-size="20" text-anchor="middle" fill="#000" font-weight="bold">2D view</text><text x="29.8" y="171.4" font-family='"Liberation Sans", sans-serif' font-size="8.2" text-anchor="end" fill="#2a2a2a">0</text><text x="29.8" y="149.4" font-family='"Liberation Sans", sans-serif' font-size="8.2" text-anchor="end" fill="#2a2a2a">0.2</text><text x="29.8" y="127.4" font-family='"Liberation Sans", sans-serif' font-size="8.2" text-anchor="end" fill="#2a2a2a">0.4</text><text x="29.8" y="105.4" font-family='"Liberation Sans", sans-serif' font-size="8.2" text-anchor="end" fill="#2a2a2a">0.6</text><text x="29.8" y="83.4" font-family='"Liberation Sans", sans-serif' font-size="8.2" text-anchor="end" fill="#2a2a2a">0.8</text><text x="29.8" y="59.6" font-family='"Liberation Sans", sans-serif' font-size="8.2" text-anchor="end" fill="#2a2a2a">1</text><text x="13.3" y="114.7" font-family='"Liberation Sans", sans-serif' font-size="9.1" text-anchor="middle" fill="#2a2a2a" transform="rotate(-90 13.3 114.7)">Normalized Intensity</text><text x="38.0" y="184.8" font-family='"Liberation Sans", sans-serif' font-size="7.6" text-anchor="middle" fill="#2a2a2a">1</text><text x="78.0" y="205.8" font-family='"Liberation Sans", sans-serif' font-size="7.6" text-anchor="middle" fill="#2a2a2a">0</text><text x="118.3" y="226.8" font-family='"Liberation Sans", sans-serif' font-size="7.6" text-anchor="middle" fill="#2a2a2a">-1</text><text x="75.5" y="232.8" font-family='"Liberation Sans", sans-serif' font-size="9.8" text-anchor="middle" fill="#2a2a2a">Y (mm)</text><text x="264.6" y="197.3" font-family='"Liberation Sans", sans-serif' font-size="7.6" text-anchor="middle" fill="#2a2a2a">1</text><text x="211.5" y="212.8" font-family='"Liberation Sans", sans-serif' font-size="7.6" text-anchor="middle" fill="#2a2a2a">0</text><text x="159.6" y="228.8" font-family='"Liberation Sans", sans-serif' font-size="7.6" text-anchor="middle" fill="#2a2a2a">-1</text><text x="206.5" y="234.7" font-family='"Liberation Sans", sans-serif' font-size="9.8" text-anchor="middle" fill="#2a2a2a">X (mm)</text><text x="257.5" y="216.3" font-family='"Liberation Sans", sans-serif' font-size="8.4" fill="#2a2a2a"><tspan font-size="7" fill="#666">×</tspan><tspan dx="1">10</tspan><tspan dy="-3.4" font-size="6.2">-4</tspan></text><text x="19.3" y="206.6" font-family='"Liberation Sans", sans-serif' font-size="8.4" fill="#2a2a2a"><tspan font-size="7" fill="#666">×</tspan><tspan dx="1">10</tspan><tspan dy="-3.4" font-size="6.2">-4</tspan></text><text x="30.5" y="399.0" font-family='"Liberation Sans", sans-serif' font-size="10.2" text-anchor="end" fill="#2a2a2a">0</text><text x="30.5" y="375.2" font-family='"Liberation Sans", sans-serif' font-size="10.2" text-anchor="end" fill="#2a2a2a">0.2</text><text x="30.5" y="351.3" font-family='"Liberation Sans", sans-serif' font-size="10.2" text-anchor="end" fill="#2a2a2a">0.4</text><text x="30.5" y="327.5" font-family='"Liberation Sans", sans-serif' font-size="10.2" text-anchor="end" fill="#2a2a2a">0.6</text><text x="30.5" y="303.6" font-family='"Liberation Sans", sans-serif' font-size="10.2" text-anchor="end" fill="#2a2a2a">0.8</text><text x="30.5" y="279.8" font-family='"Liberation Sans", sans-serif' font-size="10.2" text-anchor="end" fill="#2a2a2a">1</text><text x="11.6" y="337.2" font-family='"Liberation Sans", sans-serif' font-size="10.9" text-anchor="middle" fill="#2a2a2a" transform="rotate(-90 11.6 337.2)">Normalized Intensity</text><text x="28.0" y="409.1" font-family='"Liberation Sans", sans-serif' font-size="10.2" text-anchor="middle" fill="#2a2a2a">1</text><text x="79.3" y="435.9" font-family='"Liberation Sans", sans-serif' font-size="10.2" text-anchor="middle" fill="#2a2a2a">0</text><text x="128.6" y="462.6" font-family='"Liberation Sans", sans-serif' font-size="10.2" text-anchor="middle" fill="#2a2a2a">-1</text><text x="282.7" y="423.2" font-family='"Liberation Sans", sans-serif' font-size="10.2" text-anchor="middle" fill="#2a2a2a">4</text><text x="249.1" y="434.3" font-family='"Liberation Sans", sans-serif' font-size="10.2" text-anchor="middle" fill="#2a2a2a">2</text><text x="215.9" y="444.0" font-family='"Liberation Sans", sans-serif' font-size="10.2" text-anchor="middle" fill="#2a2a2a">0</text><text x="183.5" y="454.4" font-family='"Liberation Sans", sans-serif' font-size="10.2" text-anchor="middle" fill="#2a2a2a">-2</text><text x="150.0" y="464.1" font-family='"Liberation Sans", sans-serif' font-size="10.2" text-anchor="middle" fill="#2a2a2a">-4</text><text x="71.7" y="465.0" font-family='"Liberation Sans", sans-serif' font-size="11" text-anchor="middle" fill="#2a2a2a">Y (mm)</text><text x="215.9" y="467.5" font-family='"Liberation Sans", sans-serif' font-size="11" text-anchor="middle" fill="#2a2a2a">X (mm)</text><text x="39.3" y="616.6" font-family='"Liberation Sans", sans-serif' font-size="10.2" text-anchor="end" fill="#2a2a2a">0</text><text x="39.3" y="591.5" font-family='"Liberation Sans", sans-serif' font-size="10.2" text-anchor="end" fill="#2a2a2a">0.2</text><text x="39.3" y="566.3" font-family='"Liberation Sans", sans-serif' font-size="10.2" text-anchor="end" fill="#2a2a2a">0.4</text><text x="39.3" y="541.2" font-family='"Liberation Sans", sans-serif' font-size="10.2" text-anchor="end" fill="#2a2a2a">0.6</text><text x="39.3" y="516.0" font-family='"Liberation Sans", sans-serif' font-size="10.2" text-anchor="end" fill="#2a2a2a">0.8</text><text x="39.3" y="490.9" font-family='"Liberation Sans", sans-serif' font-size="10.2" text-anchor="end" fill="#2a2a2a">1</text><text x="19.0" y="551.4" font-family='"Liberation Sans", sans-serif' font-size="10.9" text-anchor="middle" fill="#2a2a2a" transform="rotate(-90 19.0 551.4)">Normalized Intensity</text><text x="35.2" y="625.6" font-family='"Liberation Sans", sans-serif' font-size="10.2" text-anchor="middle" fill="#2a2a2a">1</text><text x="87.4" y="655.3" font-family='"Liberation Sans", sans-serif' font-size="10.2" text-anchor="middle" fill="#2a2a2a">0</text><text x="136.5" y="683.3" font-family='"Liberation Sans", sans-serif' font-size="10.2" text-anchor="middle" fill="#2a2a2a">-1</text><text x="289.6" y="640.4" font-family='"Liberation Sans", sans-serif' font-size="10.2" text-anchor="middle" fill="#2a2a2a">4</text><text x="257.8" y="651.9" font-family='"Liberation Sans", sans-serif' font-size="10.2" text-anchor="middle" fill="#2a2a2a">2</text><text x="224.9" y="662.9" font-family='"Liberation Sans", sans-serif' font-size="10.2" text-anchor="middle" fill="#2a2a2a">0</text><text x="192.2" y="673.6" font-family='"Liberation Sans", sans-serif' font-size="10.2" text-anchor="middle" fill="#2a2a2a">-2</text><text x="157.5" y="684.1" font-family='"Liberation Sans", sans-serif' font-size="10.2" text-anchor="middle" fill="#2a2a2a">-4</text><text x="80.8" y="683.5" font-family='"Liberation Sans", sans-serif' font-size="11" text-anchor="middle" fill="#2a2a2a">Y (mm)</text><text x="222.8" y="687.0" font-family='"Liberation Sans", sans-serif' font-size="11" text-anchor="middle" fill="#2a2a2a">X (mm)</text>
</svg></body></html>
